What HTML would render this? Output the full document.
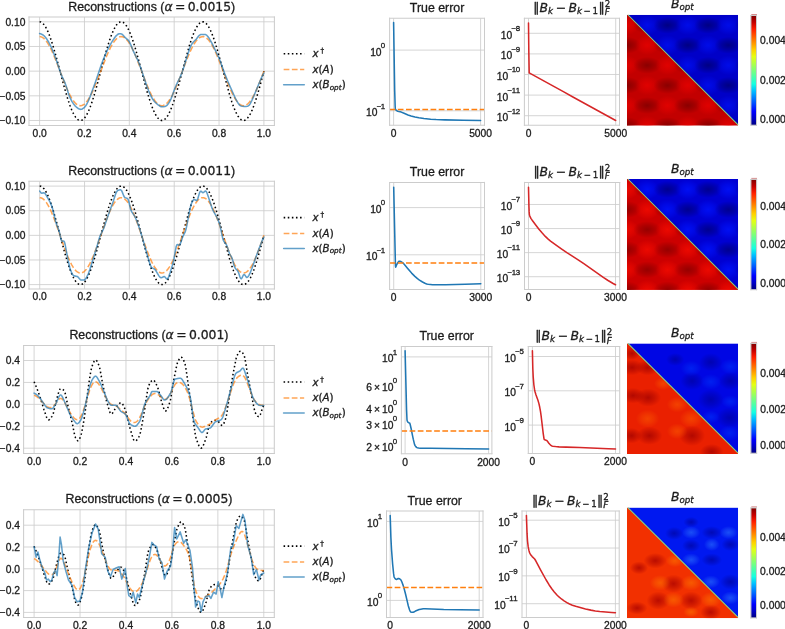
<!DOCTYPE html>
<html><head><meta charset="utf-8"><title>Reconstructions</title>
<style>html,body{margin:0;padding:0;background:#fff;overflow:hidden}svg{display:block}svg text{stroke:#1c1c1c;stroke-width:0.3px;stroke-linejoin:round}</style>
</head><body>
<svg width="785" height="629" viewBox="0 0 762.135922 610.679612">
<defs><linearGradient id="cbg0" x1="0" y1="0" x2="0" y2="1"><stop offset="0.0000" stop-color="#800000"/><stop offset="0.0625" stop-color="#c40000"/><stop offset="0.1250" stop-color="#ff1e00"/><stop offset="0.1875" stop-color="#ff5900"/><stop offset="0.2500" stop-color="#ff9400"/><stop offset="0.3125" stop-color="#ffd000"/><stop offset="0.3750" stop-color="#e4ff13"/><stop offset="0.4375" stop-color="#b1ff46"/><stop offset="0.5000" stop-color="#7dff7a"/><stop offset="0.5625" stop-color="#49ffad"/><stop offset="0.6250" stop-color="#16ffe1"/><stop offset="0.6875" stop-color="#00c0ff"/><stop offset="0.7500" stop-color="#0080ff"/><stop offset="0.8125" stop-color="#0040ff"/><stop offset="0.8750" stop-color="#0000ff"/><stop offset="0.9375" stop-color="#0000c8"/><stop offset="1.0000" stop-color="#000080"/></linearGradient><clipPath id="i0lo"><polygon points="608.74,14.32 609.57,14.32 716.60,121.16 716.60,121.99 608.74,121.99"/></clipPath><clipPath id="i0up"><polygon points="609.57,14.32 716.60,14.32 716.60,121.16"/></clipPath><radialGradient id="i0ld"><stop offset="0" stop-color="#840000" stop-opacity="0.90"/><stop offset="0.5" stop-color="#840000" stop-opacity="0.50"/><stop offset="1" stop-color="#840000" stop-opacity="0"/></radialGradient><radialGradient id="i0ll"><stop offset="0" stop-color="#ea0200" stop-opacity="0.75"/><stop offset="0.5" stop-color="#ea0200" stop-opacity="0.41"/><stop offset="1" stop-color="#ea0200" stop-opacity="0"/></radialGradient><radialGradient id="i0ud"><stop offset="0" stop-color="#00007c" stop-opacity="0.90"/><stop offset="0.5" stop-color="#00007c" stop-opacity="0.50"/><stop offset="1" stop-color="#00007c" stop-opacity="0"/></radialGradient><radialGradient id="i0ul"><stop offset="0" stop-color="#0010f4" stop-opacity="0.75"/><stop offset="0.5" stop-color="#0010f4" stop-opacity="0.41"/><stop offset="1" stop-color="#0010f4" stop-opacity="0"/></radialGradient><linearGradient id="cbg1" x1="0" y1="0" x2="0" y2="1"><stop offset="0.0000" stop-color="#800000"/><stop offset="0.0625" stop-color="#c40000"/><stop offset="0.1250" stop-color="#ff1e00"/><stop offset="0.1875" stop-color="#ff5900"/><stop offset="0.2500" stop-color="#ff9400"/><stop offset="0.3125" stop-color="#ffd000"/><stop offset="0.3750" stop-color="#e4ff13"/><stop offset="0.4375" stop-color="#b1ff46"/><stop offset="0.5000" stop-color="#7dff7a"/><stop offset="0.5625" stop-color="#49ffad"/><stop offset="0.6250" stop-color="#16ffe1"/><stop offset="0.6875" stop-color="#00c0ff"/><stop offset="0.7500" stop-color="#0080ff"/><stop offset="0.8125" stop-color="#0040ff"/><stop offset="0.8750" stop-color="#0000ff"/><stop offset="0.9375" stop-color="#0000c8"/><stop offset="1.0000" stop-color="#000080"/></linearGradient><clipPath id="i1lo"><polygon points="608.74,173.79 609.57,173.79 716.60,280.63 716.60,281.46 608.74,281.46"/></clipPath><clipPath id="i1up"><polygon points="609.57,173.79 716.60,173.79 716.60,280.63"/></clipPath><radialGradient id="i1ld"><stop offset="0" stop-color="#900000" stop-opacity="0.90"/><stop offset="0.5" stop-color="#900000" stop-opacity="0.50"/><stop offset="1" stop-color="#900000" stop-opacity="0"/></radialGradient><radialGradient id="i1ll"><stop offset="0" stop-color="#f60c00" stop-opacity="0.75"/><stop offset="0.5" stop-color="#f60c00" stop-opacity="0.41"/><stop offset="1" stop-color="#f60c00" stop-opacity="0"/></radialGradient><radialGradient id="i1ud"><stop offset="0" stop-color="#000088" stop-opacity="0.90"/><stop offset="0.5" stop-color="#000088" stop-opacity="0.50"/><stop offset="1" stop-color="#000088" stop-opacity="0"/></radialGradient><radialGradient id="i1ul"><stop offset="0" stop-color="#0014ff" stop-opacity="0.75"/><stop offset="0.5" stop-color="#0014ff" stop-opacity="0.41"/><stop offset="1" stop-color="#0014ff" stop-opacity="0"/></radialGradient><linearGradient id="cbg2" x1="0" y1="0" x2="0" y2="1"><stop offset="0.0000" stop-color="#800000"/><stop offset="0.0625" stop-color="#c40000"/><stop offset="0.1250" stop-color="#ff1e00"/><stop offset="0.1875" stop-color="#ff5900"/><stop offset="0.2500" stop-color="#ff9400"/><stop offset="0.3125" stop-color="#ffd000"/><stop offset="0.3750" stop-color="#e4ff13"/><stop offset="0.4375" stop-color="#b1ff46"/><stop offset="0.5000" stop-color="#7dff7a"/><stop offset="0.5625" stop-color="#49ffad"/><stop offset="0.6250" stop-color="#16ffe1"/><stop offset="0.6875" stop-color="#00c0ff"/><stop offset="0.7500" stop-color="#0080ff"/><stop offset="0.8125" stop-color="#0040ff"/><stop offset="0.8750" stop-color="#0000ff"/><stop offset="0.9375" stop-color="#0000c8"/><stop offset="1.0000" stop-color="#000080"/></linearGradient><clipPath id="i2lo"><polygon points="608.74,333.40 609.57,333.40 716.60,439.95 716.60,440.78 608.74,440.78"/></clipPath><clipPath id="i2up"><polygon points="609.57,333.40 716.60,333.40 716.60,439.95"/></clipPath><radialGradient id="i2ld"><stop offset="0" stop-color="#a00000" stop-opacity="0.75"/><stop offset="0.5" stop-color="#a00000" stop-opacity="0.41"/><stop offset="1" stop-color="#a00000" stop-opacity="0"/></radialGradient><radialGradient id="i2ll"><stop offset="0" stop-color="#ff6a00" stop-opacity="0.45"/><stop offset="0.5" stop-color="#ff6a00" stop-opacity="0.25"/><stop offset="1" stop-color="#ff6a00" stop-opacity="0"/></radialGradient><radialGradient id="i2ud"><stop offset="0" stop-color="#000090" stop-opacity="0.60"/><stop offset="0.5" stop-color="#000090" stop-opacity="0.33"/><stop offset="1" stop-color="#000090" stop-opacity="0"/></radialGradient><radialGradient id="i2ul"><stop offset="0" stop-color="#0040ff" stop-opacity="0.45"/><stop offset="0.5" stop-color="#0040ff" stop-opacity="0.25"/><stop offset="1" stop-color="#0040ff" stop-opacity="0"/></radialGradient><linearGradient id="cbg3" x1="0" y1="0" x2="0" y2="1"><stop offset="0.0000" stop-color="#800000"/><stop offset="0.0625" stop-color="#c40000"/><stop offset="0.1250" stop-color="#ff1e00"/><stop offset="0.1875" stop-color="#ff5900"/><stop offset="0.2500" stop-color="#ff9400"/><stop offset="0.3125" stop-color="#ffd000"/><stop offset="0.3750" stop-color="#e4ff13"/><stop offset="0.4375" stop-color="#b1ff46"/><stop offset="0.5000" stop-color="#7dff7a"/><stop offset="0.5625" stop-color="#49ffad"/><stop offset="0.6250" stop-color="#16ffe1"/><stop offset="0.6875" stop-color="#00c0ff"/><stop offset="0.7500" stop-color="#0080ff"/><stop offset="0.8125" stop-color="#0040ff"/><stop offset="0.8750" stop-color="#0000ff"/><stop offset="0.9375" stop-color="#0000c8"/><stop offset="1.0000" stop-color="#000080"/></linearGradient><clipPath id="i3lo"><polygon points="608.74,492.82 609.57,492.82 716.60,599.37 716.60,600.19 608.74,600.19"/></clipPath><clipPath id="i3up"><polygon points="609.57,492.82 716.60,492.82 716.60,599.37"/></clipPath><radialGradient id="i3ld"><stop offset="0" stop-color="#a80000" stop-opacity="0.75"/><stop offset="0.5" stop-color="#a80000" stop-opacity="0.41"/><stop offset="1" stop-color="#a80000" stop-opacity="0"/></radialGradient><radialGradient id="i3ll"><stop offset="0" stop-color="#ff8c00" stop-opacity="0.45"/><stop offset="0.5" stop-color="#ff8c00" stop-opacity="0.25"/><stop offset="1" stop-color="#ff8c00" stop-opacity="0"/></radialGradient><radialGradient id="i3ud"><stop offset="0" stop-color="#000090" stop-opacity="0.60"/><stop offset="0.5" stop-color="#000090" stop-opacity="0.33"/><stop offset="1" stop-color="#000090" stop-opacity="0"/></radialGradient><radialGradient id="i3ul"><stop offset="0" stop-color="#3a90ff" stop-opacity="0.45"/><stop offset="0.5" stop-color="#3a90ff" stop-opacity="0.25"/><stop offset="1" stop-color="#3a90ff" stop-opacity="0"/></radialGradient>
<style type="text/css">*{stroke-linejoin: round; stroke-linecap: butt}</style>
</defs>
<g id="figure_1">
<g id="patch_1">
<path d="M 0 610.679612
L 762.135922 610.679612
L 762.135922 0
L 0 0
z
" style="fill: #ffffff"/>
</g>
<g id="axes_1">
<g id="patch_2">
<path d="M 28.15534 121.84466
L 266.407767 121.84466
L 266.407767 16.504854
L 28.15534 16.504854
z
" style="fill: #ffffff"/>
</g>
<g id="matplotlib.axis_1">
<g id="xtick_1">
<g id="line2d_1">
<path d="M 38.446602 121.84466
L 38.446602 16.504854
" clip-path="url(#p39f3e81963)" style="fill: none; stroke: #cccccc; stroke-width: 0.8; stroke-linecap: round"/>
</g>
<g id="line2d_2"/>
<g id="text_1">
<text style="font-size: 10px; font-family: 'Liberation Sans', 'DejaVu Sans', sans-serif; text-anchor: middle; fill: #1c1c1c" x="38.446602" y="132.591535" transform="rotate(-0 38.446602 132.591535)">0.0</text>
</g>
</g>
<g id="xtick_2">
<g id="line2d_3">
<path d="M 82 121.84466
L 82 16.504854
" clip-path="url(#p39f3e81963)" style="fill: none; stroke: #cccccc; stroke-width: 0.8; stroke-linecap: round"/>
</g>
<g id="line2d_4"/>
<g id="text_2">
<text style="font-size: 10px; font-family: 'Liberation Sans', 'DejaVu Sans', sans-serif; text-anchor: middle; fill: #1c1c1c" x="82" y="132.591535" transform="rotate(-0 82 132.591535)">0.2</text>
</g>
</g>
<g id="xtick_3">
<g id="line2d_5">
<path d="M 125.553398 121.84466
L 125.553398 16.504854
" clip-path="url(#p39f3e81963)" style="fill: none; stroke: #cccccc; stroke-width: 0.8; stroke-linecap: round"/>
</g>
<g id="line2d_6"/>
<g id="text_3">
<text style="font-size: 10px; font-family: 'Liberation Sans', 'DejaVu Sans', sans-serif; text-anchor: middle; fill: #1c1c1c" x="125.553398" y="132.591535" transform="rotate(-0 125.553398 132.591535)">0.4</text>
</g>
</g>
<g id="xtick_4">
<g id="line2d_7">
<path d="M 169.106796 121.84466
L 169.106796 16.504854
" clip-path="url(#p39f3e81963)" style="fill: none; stroke: #cccccc; stroke-width: 0.8; stroke-linecap: round"/>
</g>
<g id="line2d_8"/>
<g id="text_4">
<text style="font-size: 10px; font-family: 'Liberation Sans', 'DejaVu Sans', sans-serif; text-anchor: middle; fill: #1c1c1c" x="169.106796" y="132.591535" transform="rotate(-0 169.106796 132.591535)">0.6</text>
</g>
</g>
<g id="xtick_5">
<g id="line2d_9">
<path d="M 212.660194 121.84466
L 212.660194 16.504854
" clip-path="url(#p39f3e81963)" style="fill: none; stroke: #cccccc; stroke-width: 0.8; stroke-linecap: round"/>
</g>
<g id="line2d_10"/>
<g id="text_5">
<text style="font-size: 10px; font-family: 'Liberation Sans', 'DejaVu Sans', sans-serif; text-anchor: middle; fill: #1c1c1c" x="212.660194" y="132.591535" transform="rotate(-0 212.660194 132.591535)">0.8</text>
</g>
</g>
<g id="xtick_6">
<g id="line2d_11">
<path d="M 256.213592 121.84466
L 256.213592 16.504854
" clip-path="url(#p39f3e81963)" style="fill: none; stroke: #cccccc; stroke-width: 0.8; stroke-linecap: round"/>
</g>
<g id="line2d_12"/>
<g id="text_6">
<text style="font-size: 10px; font-family: 'Liberation Sans', 'DejaVu Sans', sans-serif; text-anchor: middle; fill: #1c1c1c" x="256.213592" y="132.591535" transform="rotate(-0 256.213592 132.591535)">1.0</text>
</g>
</g>
</g>
<g id="matplotlib.axis_2">
<g id="ytick_1">
<g id="line2d_13">
<path d="M 28.15534 116.990291
L 266.407767 116.990291
" clip-path="url(#p39f3e81963)" style="fill: none; stroke: #cccccc; stroke-width: 0.8; stroke-linecap: round"/>
</g>
<g id="line2d_14"/>
<g id="text_7">
<text style="font-size: 10px; font-family: 'Liberation Sans', 'DejaVu Sans', sans-serif; text-anchor: end; fill: #1c1c1c" x="24.65534" y="120.613729" transform="rotate(-0 24.65534 120.613729)">−0.10</text>
</g>
</g>
<g id="ytick_2">
<g id="line2d_15">
<path d="M 28.15534 93.033981
L 266.407767 93.033981
" clip-path="url(#p39f3e81963)" style="fill: none; stroke: #cccccc; stroke-width: 0.8; stroke-linecap: round"/>
</g>
<g id="line2d_16"/>
<g id="text_8">
<text style="font-size: 10px; font-family: 'Liberation Sans', 'DejaVu Sans', sans-serif; text-anchor: end; fill: #1c1c1c" x="24.65534" y="96.657418" transform="rotate(-0 24.65534 96.657418)">−0.05</text>
</g>
</g>
<g id="ytick_3">
<g id="line2d_17">
<path d="M 28.15534 69.07767
L 266.407767 69.07767
" clip-path="url(#p39f3e81963)" style="fill: none; stroke: #cccccc; stroke-width: 0.8; stroke-linecap: round"/>
</g>
<g id="line2d_18"/>
<g id="text_9">
<text style="font-size: 10px; font-family: 'Liberation Sans', 'DejaVu Sans', sans-serif; text-anchor: end; fill: #1c1c1c" x="24.65534" y="72.701107" transform="rotate(-0 24.65534 72.701107)">0.00</text>
</g>
</g>
<g id="ytick_4">
<g id="line2d_19">
<path d="M 28.15534 45.121359
L 266.407767 45.121359
" clip-path="url(#p39f3e81963)" style="fill: none; stroke: #cccccc; stroke-width: 0.8; stroke-linecap: round"/>
</g>
<g id="line2d_20"/>
<g id="text_10">
<text style="font-size: 10px; font-family: 'Liberation Sans', 'DejaVu Sans', sans-serif; text-anchor: end; fill: #1c1c1c" x="24.65534" y="48.744797" transform="rotate(-0 24.65534 48.744797)">0.05</text>
</g>
</g>
<g id="ytick_5">
<g id="line2d_21">
<path d="M 28.15534 21.165049
L 266.407767 21.165049
" clip-path="url(#p39f3e81963)" style="fill: none; stroke: #cccccc; stroke-width: 0.8; stroke-linecap: round"/>
</g>
<g id="line2d_22"/>
<g id="text_11">
<text style="font-size: 10px; font-family: 'Liberation Sans', 'DejaVu Sans', sans-serif; text-anchor: end; fill: #1c1c1c" x="24.65534" y="24.788486" transform="rotate(-0 24.65534 24.788486)">0.10</text>
</g>
</g>
</g>
<g id="line2d_23">
<path d="M 38.446602 21.165049
L 39.538166 21.344641
L 40.62973 21.882071
L 41.721294 22.773311
L 42.812857 24.011679
L 43.904421 25.587892
L 44.995985 27.490132
L 46.633331 30.922959
L 48.270677 34.998856
L 49.908022 39.649129
L 52.09115 46.606266
L 54.82006 56.222087
L 59.732097 74.723243
L 63.006789 86.757565
L 65.735698 95.911753
L 67.918826 102.351527
L 69.556172 106.537266
L 71.193518 110.091649
L 72.285082 112.080432
L 73.376645 113.746838
L 74.468209 115.078374
L 75.559773 116.065058
L 76.651337 116.699494
L 77.742901 116.976925
L 78.834465 116.895272
L 79.926029 116.455147
L 81.017593 115.659849
L 82.109156 114.51534
L 83.20072 113.0302
L 84.292284 111.215563
L 85.92963 107.906209
L 87.566976 103.942427
L 89.204321 99.391023
L 91.387449 92.542262
L 94.116359 83.01981
L 98.482614 66.626628
L 102.303088 52.454484
L 105.031997 43.188578
L 107.215125 36.627334
L 108.852471 32.334089
L 110.489817 28.660131
L 112.127163 25.667383
L 113.218726 24.076076
L 114.31029 22.822131
L 115.401854 21.914948
L 116.493418 21.361327
L 117.584982 21.16542
L 118.676546 21.328694
L 119.76811 21.849927
L 120.859673 22.72521
L 121.951237 23.947981
L 123.042801 25.509074
L 124.134365 27.396787
L 125.771711 30.809166
L 127.409057 34.866533
L 129.046402 39.500506
L 131.22953 46.439849
L 133.95844 56.04048
L 138.870477 74.53589
L 142.690951 88.496538
L 144.874078 95.75528
L 147.057206 102.21555
L 148.694552 106.419371
L 150.331898 109.993823
L 151.969243 112.878661
L 153.060807 114.394253
L 154.152371 115.570122
L 155.243935 116.397453
L 156.335499 116.870043
L 157.427063 116.984351
L 158.518627 116.739518
L 159.610191 116.13738
L 160.701754 115.182452
L 161.793318 113.881892
L 162.884882 112.24545
L 163.976446 110.285394
L 165.613792 106.771312
L 167.251138 102.621931
L 168.888483 97.907184
L 171.071611 90.879949
L 173.800521 81.204859
L 183.624595 45.121359
L 185.807723 38.328222
L 187.445069 33.827209
L 189.082415 29.920318
L 190.719761 26.673397
L 191.811324 24.902944
L 192.902888 23.463655
L 193.994452 22.366318
L 195.086016 21.61916
L 196.17758 21.227783
L 197.269144 21.19512
L 198.360708 21.521416
L 199.452271 22.204225
L 200.543835 23.238429
L 201.635399 24.616274
L 202.726963 26.32743
L 203.818527 28.359071
L 205.455873 31.973494
L 207.093218 36.213282
L 208.730564 41.006976
L 210.913692 48.11938
L 213.642602 57.865181
L 222.920894 92.04727
L 225.104022 98.950701
L 226.741368 103.551859
L 228.378714 107.57198
L 230.01606 110.943305
L 231.107623 112.801873
L 232.199187 114.332656
L 233.290751 115.524178
L 234.382315 116.367506
L 235.473879 116.856318
L 236.565443 116.98695
L 237.657007 116.758422
L 238.74857 116.172448
L 239.840134 115.23342
L 240.931698 113.948378
L 242.023262 112.326956
L 243.114826 110.381309
L 244.752172 106.88746
L 246.389517 102.756354
L 248.026863 98.057617
L 250.209991 91.047744
L 252.938901 81.387246
L 256.213592 69.07767
L 256.213592 69.07767
" clip-path="url(#p39f3e81963)" style="fill: none; stroke-dasharray: 1.5,2.475; stroke-dashoffset: 0; stroke: #000000; stroke-width: 1.5"/>
</g>
<g id="line2d_24">
<path d="M 38.446602 35.538835
L 39.538166 35.66455
L 40.62973 36.040751
L 41.721294 36.664619
L 42.812857 37.531477
L 43.904421 38.634825
L 45.541767 40.714706
L 47.179113 43.272624
L 48.816459 46.265469
L 50.999586 50.844345
L 53.182714 55.968952
L 56.457406 64.340242
L 63.552571 82.791478
L 65.735698 87.861528
L 67.918826 92.36937
L 69.556172 95.299387
L 71.193518 97.787455
L 72.830864 99.79164
L 73.922427 100.841905
L 75.013991 101.654043
L 76.105555 102.221968
L 77.197119 102.541421
L 78.288683 102.610007
L 79.380247 102.427214
L 80.471811 101.99441
L 81.563374 101.31484
L 82.654938 100.393599
L 83.746502 99.237593
L 85.383848 97.082824
L 87.021194 94.456046
L 88.65854 91.401534
L 90.841667 86.753398
L 93.024795 81.576219
L 96.299487 73.160657
L 102.84887 56.090587
L 105.031997 50.955306
L 107.215125 46.362435
L 108.852471 43.357163
L 110.489817 40.785393
L 112.127163 38.690469
L 113.218726 37.576554
L 114.31029 36.698793
L 115.401854 36.063764
L 116.493418 35.67623
L 117.584982 35.539095
L 118.676546 35.653387
L 119.76811 36.01825
L 120.859673 36.630948
L 121.951237 37.486888
L 123.042801 38.579653
L 124.680147 40.644458
L 126.317493 43.188485
L 127.954839 46.168856
L 130.137966 50.733666
L 132.321094 55.84752
L 135.595786 64.209566
L 142.690951 82.670878
L 144.874078 87.751997
L 147.057206 92.274186
L 148.694552 95.21686
L 150.331898 97.718977
L 151.969243 99.738364
L 153.060807 100.799278
L 154.152371 101.622387
L 155.243935 102.201518
L 156.335499 102.532331
L 157.427063 102.612346
L 158.518627 102.440964
L 159.610191 102.019467
L 160.701754 101.351018
L 161.793318 100.440626
L 162.884882 99.295116
L 164.522228 97.155258
L 166.159574 94.542172
L 167.796919 91.499899
L 169.980047 86.865472
L 172.163175 81.698648
L 175.437867 73.29168
L 181.98725 56.212423
L 184.716159 49.858615
L 186.899287 45.40886
L 188.536633 42.529923
L 190.173979 40.09843
L 191.811324 38.155362
L 192.902888 37.147859
L 193.994452 36.379724
L 195.086016 35.856713
L 196.17758 35.582749
L 197.269144 35.559885
L 198.360708 35.788292
L 199.452271 36.266259
L 200.543835 36.990201
L 201.635399 37.954693
L 202.726963 39.152502
L 204.364309 41.366584
L 206.001655 44.047717
L 207.639 47.150712
L 209.822128 51.852962
L 212.551038 58.437728
L 216.371511 68.417529
L 221.283549 81.207778
L 224.012458 87.642177
L 226.195586 92.178643
L 227.832932 95.133929
L 229.470278 97.650054
L 231.107623 99.684612
L 232.199187 100.75616
L 233.290751 101.590225
L 234.382315 102.180555
L 235.473879 102.522723
L 236.565443 102.614166
L 237.657007 102.454196
L 238.74857 102.044014
L 239.840134 101.386695
L 240.931698 100.487166
L 242.023262 99.35217
L 243.660608 97.227258
L 245.297954 94.627903
L 246.935299 91.597917
L 249.118427 86.977271
L 251.301555 81.820881
L 254.576246 73.422637
L 256.213592 69.07767
L 256.213592 69.07767
" clip-path="url(#p39f3e81963)" style="fill: none; stroke-dasharray: 5.55,2.4; stroke-dashoffset: 0; stroke: #ff7f0e; stroke-opacity: 0.7; stroke-width: 1.5"/>
</g>
<g id="line2d_25">
<path d="M 38.446602 32.621982
L 39.903237 32.980716
L 41.359873 33.691824
L 42.816508 34.802869
L 44.273143 36.38954
L 45.729779 38.382276
L 47.186414 40.768795
L 48.64305 43.530337
L 50.099685 46.619785
L 52.284638 51.901931
L 54.469591 57.799577
L 56.654544 64.33522
L 58.839497 70.820106
L 60.296133 74.370375
L 63.209404 80.745494
L 64.666039 85.058414
L 66.850992 91.948795
L 68.307627 95.556126
L 69.764263 98.396867
L 71.220898 100.683952
L 72.677534 102.502952
L 74.134169 103.937557
L 75.590804 105.061992
L 77.04744 105.885126
L 77.775757 106.113461
L 78.504075 106.17174
L 79.232393 106.049561
L 79.96071 105.762315
L 81.417346 104.780157
L 82.145664 104.082562
L 82.873981 103.217237
L 84.330617 100.963704
L 85.787252 98.057421
L 87.243887 94.4969
L 92.342111 80.499157
L 95.255382 71.994881
L 98.168653 63.466748
L 100.353606 57.604101
L 102.538559 52.364934
L 104.723512 47.713191
L 106.908465 43.617396
L 109.821736 38.793038
L 111.278371 36.606975
L 112.735007 34.783211
L 114.191642 33.459589
L 114.91996 33.021321
L 115.648277 32.760053
L 116.376595 32.668039
L 117.104913 32.719782
L 117.833231 32.915709
L 118.561548 33.298371
L 119.289866 33.904615
L 122.203137 37.08903
L 124.38809 38.934801
L 125.116407 39.824472
L 125.844725 41.019319
L 127.301361 44.281552
L 129.486314 49.682502
L 131.671267 54.177212
L 133.85622 58.694527
L 135.312855 62.272714
L 137.497808 68.543262
L 142.596032 83.716175
L 144.052667 87.625167
L 145.509303 91.090022
L 146.965938 94.122274
L 148.422574 96.597406
L 149.879209 98.496669
L 151.335844 99.994383
L 153.520797 101.824452
L 154.977433 102.870186
L 156.434068 103.572554
L 157.162386 103.727591
L 158.619021 103.696337
L 160.075657 103.3688
L 160.803974 103.094627
L 161.532292 102.694713
L 162.26061 102.11239
L 162.988927 101.314461
L 164.445563 99.121212
L 165.902198 96.219159
L 167.358834 92.470524
L 169.543787 86.325331
L 171.000422 82.953913
L 174.642011 75.327877
L 176.826964 70.00451
L 178.283599 65.858089
L 181.19687 56.381677
L 183.381823 49.508986
L 184.838458 45.517978
L 185.566776 43.928582
L 186.295094 42.655009
L 187.751729 40.83574
L 190.665 37.820205
L 192.849953 34.979676
L 193.578271 34.254958
L 194.306588 33.778141
L 195.034906 33.53028
L 196.491541 33.404897
L 198.676494 33.44987
L 199.404812 33.574983
L 200.13313 33.863852
L 200.861448 34.382829
L 201.589765 35.142915
L 203.046401 37.180637
L 204.503036 39.60042
L 205.959671 42.387727
L 212.514531 56.065108
L 213.971166 59.888463
L 218.341072 71.955155
L 221.254343 79.169817
L 227.080885 92.274969
L 228.53752 95.449293
L 229.994155 98.237529
L 231.450791 100.633645
L 232.179108 101.589091
L 232.907426 102.308158
L 233.635744 102.784911
L 235.092379 103.23767
L 237.277332 103.446783
L 238.733968 103.407862
L 240.190603 103.162346
L 240.918921 102.877071
L 241.647238 102.371789
L 242.375556 101.561373
L 243.103874 100.428384
L 244.560509 97.490144
L 246.745462 92.496206
L 254.028639 75.074111
L 255.485275 72.085081
L 256.213592 71.042209
L 256.213592 71.042209
" clip-path="url(#p39f3e81963)" style="fill: none; stroke: #1f77b4; stroke-opacity: 0.7; stroke-width: 1.5; stroke-linecap: round"/>
</g>
<g id="patch_3">
<path d="M 28.15534 121.84466
L 28.15534 16.504854
" style="fill: none; stroke: #cccccc; stroke-linejoin: miter; stroke-linecap: square"/>
</g>
<g id="patch_4">
<path d="M 266.407767 121.84466
L 266.407767 16.504854
" style="fill: none; stroke: #cccccc; stroke-linejoin: miter; stroke-linecap: square"/>
</g>
<g id="patch_5">
<path d="M 28.15534 121.84466
L 266.407767 121.84466
" style="fill: none; stroke: #cccccc; stroke-linejoin: miter; stroke-linecap: square"/>
</g>
<g id="patch_6">
<path d="M 28.15534 16.504854
L 266.407767 16.504854
" style="fill: none; stroke: #cccccc; stroke-linejoin: miter; stroke-linecap: square"/>
</g>
<g id="text_12">
<!-- Reconstructions ($\alpha = 0.0015$) -->
<g style="fill: #1c1c1c" transform="translate(66.281553 10.504854)">
<text>
<tspan x="0" y="-0.09375" style="font-size: 12px; font-family: 'Liberation Sans'; fill: #1c1c1c">R</tspan>
<tspan x="8.666016" y="-0.09375" style="font-size: 12px; font-family: 'Liberation Sans'; fill: #1c1c1c">e</tspan>
<tspan x="15.339844" y="-0.09375" style="font-size: 12px; font-family: 'Liberation Sans'; fill: #1c1c1c">c</tspan>
<tspan x="21.339844" y="-0.09375" style="font-size: 12px; font-family: 'Liberation Sans'; fill: #1c1c1c">o</tspan>
<tspan x="28.013672" y="-0.09375" style="font-size: 12px; font-family: 'Liberation Sans'; fill: #1c1c1c">n</tspan>
<tspan x="34.6875" y="-0.09375" style="font-size: 12px; font-family: 'Liberation Sans'; fill: #1c1c1c">s</tspan>
<tspan x="40.6875" y="-0.09375" style="font-size: 12px; font-family: 'Liberation Sans'; fill: #1c1c1c">t</tspan>
<tspan x="44.021484" y="-0.09375" style="font-size: 12px; font-family: 'Liberation Sans'; fill: #1c1c1c">r</tspan>
<tspan x="48.017578" y="-0.09375" style="font-size: 12px; font-family: 'Liberation Sans'; fill: #1c1c1c">u</tspan>
<tspan x="54.691406" y="-0.09375" style="font-size: 12px; font-family: 'Liberation Sans'; fill: #1c1c1c">c</tspan>
<tspan x="60.691406" y="-0.09375" style="font-size: 12px; font-family: 'Liberation Sans'; fill: #1c1c1c">t</tspan>
<tspan x="64.025391" y="-0.09375" style="font-size: 12px; font-family: 'Liberation Sans'; fill: #1c1c1c">i</tspan>
<tspan x="66.691406" y="-0.09375" style="font-size: 12px; font-family: 'Liberation Sans'; fill: #1c1c1c">o</tspan>
<tspan x="73.365234" y="-0.09375" style="font-size: 12px; font-family: 'Liberation Sans'; fill: #1c1c1c">n</tspan>
<tspan x="80.039062" y="-0.09375" style="font-size: 12px; font-family: 'Liberation Sans'; fill: #1c1c1c">s</tspan>
<tspan x="86.039062" y="-0.09375" style="font-size: 12px; font-family: 'Liberation Sans'; fill: #1c1c1c"> </tspan>
<tspan x="89.373047" y="-0.09375" style="font-size: 12px; font-family: 'Liberation Sans'; fill: #1c1c1c">(</tspan>
<tspan x="157.998047" y="-0.09375" style="font-size: 12px; font-family: 'Liberation Sans'; fill: #1c1c1c">)</tspan>
<tspan x="93.369141" y="-0.09375" style="font-style: oblique; font-size: 12px; font-family: 'DejaVu Sans'; fill: #1c1c1c">α</tspan>
<tspan x="103.617188" y="-0.09375" style="font-size: 12px; font-family: 'DejaVu Sans'; fill: #1c1c1c">=</tspan>
<tspan x="116.009766" y="-0.09375" style="font-size: 12px; font-family: 'DejaVu Sans'; fill: #1c1c1c">0</tspan>
<tspan x="123.644531" y="-0.09375" style="font-size: 12px; font-family: 'DejaVu Sans'; fill: #1c1c1c">.</tspan>
<tspan x="127.458984" y="-0.09375" style="font-size: 12px; font-family: 'DejaVu Sans'; fill: #1c1c1c">0</tspan>
<tspan x="135.09375" y="-0.09375" style="font-size: 12px; font-family: 'DejaVu Sans'; fill: #1c1c1c">0</tspan>
<tspan x="142.728516" y="-0.09375" style="font-size: 12px; font-family: 'DejaVu Sans'; fill: #1c1c1c">1</tspan>
<tspan x="150.363281" y="-0.09375" style="font-size: 12px; font-family: 'DejaVu Sans'; fill: #1c1c1c">5</tspan>
</text>
</g>
</g>
<g id="legend_1">
<g id="line2d_26">
<path d="M 275.407767 52.200
L 285.407767 52.200
L 295.407767 52.200
" style="fill: none; stroke-dasharray: 1.5,2.475; stroke-dashoffset: 0; stroke: #000000; stroke-width: 1.5"/>
</g>
<g id="text_13">
<!-- $x^\dagger$ -->
<g style="fill: #1c1c1c" transform="translate(303.407767 55.700)">
<text>
<tspan x="0" y="-0.064063" style="font-style: oblique; font-size: 10px; font-family: 'DejaVu Sans'; fill: #1c1c1c">x</tspan>
<tspan x="7.728353" y="-3.892188" style="font-size: 7px; font-family: 'DejaVu Sans'; fill: #1c1c1c">†</tspan>
</text>
</g>
</g>
<g id="line2d_27">
<path d="M 275.407767 67.571632
L 285.407767 67.571632
L 295.407767 67.571632
" style="fill: none; stroke-dasharray: 5.55,2.4; stroke-dashoffset: 0; stroke: #ff7f0e; stroke-opacity: 0.7; stroke-width: 1.5"/>
</g>
<g id="text_14">
<!-- $x(A)$ -->
<g style="fill: #1c1c1c" transform="translate(303.407767 71.071632)">
<text>
<tspan x="0" y="-0.40625" style="font-style: oblique; font-size: 10px; font-family: 'DejaVu Sans'; fill: #1c1c1c">x</tspan>
<tspan x="9.819336" y="-0.40625" style="font-style: oblique; font-size: 10px; font-family: 'DejaVu Sans'; fill: #1c1c1c">A</tspan>
<tspan x="5.917969" y="-0.40625" style="font-size: 10px; font-family: 'DejaVu Sans'; fill: #1c1c1c">(</tspan>
<tspan x="16.660156" y="-0.40625" style="font-size: 10px; font-family: 'DejaVu Sans'; fill: #1c1c1c">)</tspan>
</text>
</g>
</g>
<g id="line2d_28">
<path d="M 275.407767 82.246632
L 285.407767 82.246632
L 295.407767 82.246632
" style="fill: none; stroke: #1f77b4; stroke-opacity: 0.7; stroke-width: 1.5; stroke-linecap: round"/>
</g>
<g id="text_15">
<!-- $x(B_{opt})$ -->
<g style="fill: #1c1c1c" transform="translate(303.407767 85.746632)">
<text>
<tspan x="0" y="-0.40625" style="font-style: oblique; font-size: 10px; font-family: 'DejaVu Sans'; fill: #1c1c1c">x</tspan>
<tspan x="9.819336" y="-0.40625" style="font-style: oblique; font-size: 10px; font-family: 'DejaVu Sans'; fill: #1c1c1c">B</tspan>
<tspan x="5.917969" y="-0.40625" style="font-size: 10px; font-family: 'DejaVu Sans'; fill: #1c1c1c">(</tspan>
<tspan x="28.423828" y="-0.40625" style="font-size: 10px; font-family: 'DejaVu Sans'; fill: #1c1c1c">)</tspan>
<tspan x="16.679688" y="1.234375" style="font-style: oblique; font-size: 7px; font-family: 'DejaVu Sans'; fill: #1c1c1c">o</tspan>
<tspan x="20.962402" y="1.234375" style="font-style: oblique; font-size: 7px; font-family: 'DejaVu Sans'; fill: #1c1c1c">p</tspan>
<tspan x="25.405762" y="1.234375" style="font-style: oblique; font-size: 7px; font-family: 'DejaVu Sans'; fill: #1c1c1c">t</tspan>
</text>
</g>
</g>
</g>
</g>
<g id="axes_2">
<g id="patch_7">
<path d="M 378.252427 121.650485
L 470.38835 121.650485
L 470.38835 17.815534
L 378.252427 17.815534
z
" style="fill: #ffffff"/>
</g>
<g id="matplotlib.axis_3">
<g id="xtick_7">
<g id="line2d_29">
<path d="M 382.135922 121.650485
L 382.135922 17.815534
" clip-path="url(#pe85f98b9b8)" style="fill: none; stroke: #cccccc; stroke-width: 0.8; stroke-linecap: round"/>
</g>
<g id="line2d_30"/>
<g id="text_16">
<text style="font-size: 10px; font-family: 'Liberation Sans', 'DejaVu Sans', sans-serif; text-anchor: middle; fill: #1c1c1c" x="382.135922" y="133.19736" transform="rotate(-0 382.135922 133.19736)">0</text>
</g>
</g>
<g id="xtick_8">
<g id="line2d_31">
<path d="M 466.601942 121.650485
L 466.601942 17.815534
" clip-path="url(#pe85f98b9b8)" style="fill: none; stroke: #cccccc; stroke-width: 0.8; stroke-linecap: round"/>
</g>
<g id="line2d_32"/>
<g id="text_17">
<text style="font-size: 10px; font-family: 'Liberation Sans', 'DejaVu Sans', sans-serif; text-anchor: middle; fill: #1c1c1c" x="466.601942" y="133.19736" transform="rotate(-0 466.601942 133.19736)">5000</text>
</g>
</g>
</g>
<g id="matplotlib.axis_4">
<g id="ytick_6">
<g id="line2d_33">
<path d="M 378.252427 107.572816
L 470.38835 107.572816
" clip-path="url(#pe85f98b9b8)" style="fill: none; stroke: #cccccc; stroke-width: 0.8; stroke-linecap: round"/>
</g>
<g id="line2d_34"/>
<g id="text_18">
<!-- $\mathdefault{10^{-1}}$ -->
<g style="fill: #1c1c1c" transform="translate(355.252427 111.196253)">
<text>
<tspan x="0.000" y="1.649" style="font-size: 10px; font-family: 'Liberation Sans'; fill: #1c1c1c">1</tspan>
<tspan x="5.562" y="1.649" style="font-size: 10px; font-family: 'Liberation Sans'; fill: #1c1c1c">0</tspan>
<tspan x="10.415" y="-5.838" style="font-size: 7.7px; font-family: 'Liberation Sans'; fill: #1c1c1c">−</tspan>
<tspan x="14.503" y="-5.838" style="font-size: 7.7px; font-family: 'Liberation Sans'; fill: #1c1c1c">1</tspan>
</text>
</g>
</g>
</g>
<g id="ytick_7">
<g id="line2d_35">
<path d="M 378.252427 48.640777
L 470.38835 48.640777
" clip-path="url(#pe85f98b9b8)" style="fill: none; stroke: #cccccc; stroke-width: 0.8; stroke-linecap: round"/>
</g>
<g id="line2d_36"/>
<g id="text_19">
<!-- $\mathdefault{10^{0}}$ -->
<g style="fill: #1c1c1c" transform="translate(359.352427 52.264214)">
<text>
<tspan x="0.000" y="1.726" style="font-size: 10px; font-family: 'Liberation Sans'; fill: #1c1c1c">1</tspan>
<tspan x="5.562" y="1.726" style="font-size: 10px; font-family: 'Liberation Sans'; fill: #1c1c1c">0</tspan>
<tspan x="10.415" y="-5.761" style="font-size: 7.7px; font-family: 'Liberation Sans'; fill: #1c1c1c">0</tspan>
</text>
</g>
</g>
</g>
<g id="ytick_8">
<g id="line2d_37"/>
</g>
<g id="ytick_9">
<g id="line2d_38"/>
</g>
<g id="ytick_10">
<g id="line2d_39"/>
</g>
<g id="ytick_11">
<g id="line2d_40"/>
</g>
<g id="ytick_12">
<g id="line2d_41"/>
</g>
<g id="ytick_13">
<g id="line2d_42"/>
</g>
<g id="ytick_14">
<g id="line2d_43"/>
</g>
<g id="ytick_15">
<g id="line2d_44"/>
</g>
<g id="ytick_16">
<g id="line2d_45"/>
</g>
<g id="ytick_17">
<g id="line2d_46"/>
</g>
<g id="ytick_18">
<g id="line2d_47"/>
</g>
<g id="ytick_19">
<g id="line2d_48"/>
</g>
<g id="ytick_20">
<g id="line2d_49"/>
</g>
<g id="ytick_21">
<g id="line2d_50"/>
</g>
</g>
<g id="line2d_51">
<path d="M 382.135922 21.747573
L 383.194394 87.768067
L 383.617782 102.355549
L 383.829477 106.072774
L 384.252865 106.71426
L 385.099642 107.419331
L 386.158114 107.963847
L 387.428279 108.31626
L 389.545222 108.828936
L 392.297248 110.017522
L 396.107745 111.57585
L 399.071465 112.515417
L 402.881962 113.505778
L 406.692459 114.258158
L 411.561428 114.987461
L 418.123951 115.724379
L 423.416308 116.062295
L 432.095773 116.382222
L 449.666399 116.761625
L 466.601942 117.087379
L 466.601942 117.087379
" clip-path="url(#pe85f98b9b8)" style="fill: none; stroke: #1f77b4; stroke-width: 1.5; stroke-linecap: round"/>
</g>
<g id="line2d_52">
<path d="M 378.252427 106.31068
L 470.38835 106.31068
" clip-path="url(#pe85f98b9b8)" style="fill: none; stroke-dasharray: 5.55,2.4; stroke-dashoffset: 0; stroke: #ff7f0e; stroke-width: 1.5"/>
</g>
<g id="patch_8">
<path d="M 378.252427 121.650485
L 378.252427 17.815534
" style="fill: none; stroke: #cccccc; stroke-linejoin: miter; stroke-linecap: square"/>
</g>
<g id="patch_9">
<path d="M 470.38835 121.650485
L 470.38835 17.815534
" style="fill: none; stroke: #cccccc; stroke-linejoin: miter; stroke-linecap: square"/>
</g>
<g id="patch_10">
<path d="M 378.252427 121.650485
L 470.38835 121.650485
" style="fill: none; stroke: #cccccc; stroke-linejoin: miter; stroke-linecap: square"/>
</g>
<g id="patch_11">
<path d="M 378.252427 17.815534
L 470.38835 17.815534
" style="fill: none; stroke: #cccccc; stroke-linejoin: miter; stroke-linecap: square"/>
</g>
<g id="text_20">
<text style="font-size: 12px; font-family: 'Liberation Sans', 'DejaVu Sans', sans-serif; text-anchor: middle; fill: #1c1c1c" x="424.320388" y="11.815534" transform="rotate(-0 424.320388 11.815534)">True error</text>
</g>
</g>
<g id="axes_3">
<g id="patch_12">
<path d="M 509.126214 121.650485
L 601.456311 121.650485
L 601.456311 17.815534
L 509.126214 17.815534
z
" style="fill: #ffffff"/>
</g>
<g id="matplotlib.axis_5">
<g id="xtick_9">
<g id="line2d_53">
<path d="M 513.106796 121.650485
L 513.106796 17.815534
" clip-path="url(#peed45ceb7d)" style="fill: none; stroke: #cccccc; stroke-width: 0.8; stroke-linecap: round"/>
</g>
<g id="line2d_54"/>
<g id="text_21">
<text style="font-size: 10px; font-family: 'Liberation Sans', 'DejaVu Sans', sans-serif; text-anchor: middle; fill: #1c1c1c" x="513.106796" y="133.19736" transform="rotate(-0 513.106796 133.19736)">0</text>
</g>
</g>
<g id="xtick_10">
<g id="line2d_55">
<path d="M 597.76699 121.650485
L 597.76699 17.815534
" clip-path="url(#peed45ceb7d)" style="fill: none; stroke: #cccccc; stroke-width: 0.8; stroke-linecap: round"/>
</g>
<g id="line2d_56"/>
<g id="text_22">
<text style="font-size: 10px; font-family: 'Liberation Sans', 'DejaVu Sans', sans-serif; text-anchor: middle; fill: #1c1c1c" x="597.76699" y="133.19736" transform="rotate(-0 597.76699 133.19736)">5000</text>
</g>
</g>
</g>
<g id="matplotlib.axis_6">
<g id="ytick_22">
<g id="line2d_57">
<path d="M 509.126214 32.330097
L 601.456311 32.330097
" clip-path="url(#peed45ceb7d)" style="fill: none; stroke: #cccccc; stroke-width: 0.8; stroke-linecap: round"/>
</g>
<g id="line2d_58"/>
<g id="text_23">
<!-- $\mathdefault{10^{-8}}$ -->
<g style="fill: #1c1c1c" transform="translate(486.126214 35.953535)">
<text>
<tspan x="0.000" y="1.726" style="font-size: 10px; font-family: 'Liberation Sans'; fill: #1c1c1c">1</tspan>
<tspan x="5.562" y="1.726" style="font-size: 10px; font-family: 'Liberation Sans'; fill: #1c1c1c">0</tspan>
<tspan x="10.415" y="-5.761" style="font-size: 7.7px; font-family: 'Liberation Sans'; fill: #1c1c1c">−</tspan>
<tspan x="14.503" y="-5.761" style="font-size: 7.7px; font-family: 'Liberation Sans'; fill: #1c1c1c">8</tspan>
</text>
</g>
</g>
</g>
<g id="ytick_23">
<g id="line2d_59">
<path d="M 509.126214 52.330097
L 601.456311 52.330097
" clip-path="url(#peed45ceb7d)" style="fill: none; stroke: #cccccc; stroke-width: 0.8; stroke-linecap: round"/>
</g>
<g id="line2d_60"/>
<g id="text_24">
<!-- $\mathdefault{10^{-9}}$ -->
<g style="fill: #1c1c1c" transform="translate(486.126214 55.953535)">
<text>
<tspan x="0.000" y="1.726" style="font-size: 10px; font-family: 'Liberation Sans'; fill: #1c1c1c">1</tspan>
<tspan x="5.562" y="1.726" style="font-size: 10px; font-family: 'Liberation Sans'; fill: #1c1c1c">0</tspan>
<tspan x="10.415" y="-5.761" style="font-size: 7.7px; font-family: 'Liberation Sans'; fill: #1c1c1c">−</tspan>
<tspan x="14.503" y="-5.761" style="font-size: 7.7px; font-family: 'Liberation Sans'; fill: #1c1c1c">9</tspan>
</text>
</g>
</g>
</g>
<g id="ytick_24">
<g id="line2d_61">
<path d="M 509.126214 72.330097
L 601.456311 72.330097
" clip-path="url(#peed45ceb7d)" style="fill: none; stroke: #cccccc; stroke-width: 0.8; stroke-linecap: round"/>
</g>
<g id="line2d_62"/>
<g id="text_25">
<!-- $\mathdefault{10^{-10}}$ -->
<g style="fill: #1c1c1c" transform="translate(482.226214 75.953535)">
<text>
<tspan x="0.000" y="1.726" style="font-size: 10px; font-family: 'Liberation Sans'; fill: #1c1c1c">1</tspan>
<tspan x="5.562" y="1.726" style="font-size: 10px; font-family: 'Liberation Sans'; fill: #1c1c1c">0</tspan>
<tspan x="10.415" y="-5.761" style="font-size: 7.7px; font-family: 'Liberation Sans'; fill: #1c1c1c">−</tspan>
<tspan x="14.503" y="-5.761" style="font-size: 7.7px; font-family: 'Liberation Sans'; fill: #1c1c1c">1</tspan>
<tspan x="18.396" y="-5.761" style="font-size: 7.7px; font-family: 'Liberation Sans'; fill: #1c1c1c">0</tspan>
</text>
</g>
</g>
</g>
<g id="ytick_25">
<g id="line2d_63">
<path d="M 509.126214 92.330097
L 601.456311 92.330097
" clip-path="url(#peed45ceb7d)" style="fill: none; stroke: #cccccc; stroke-width: 0.8; stroke-linecap: round"/>
</g>
<g id="line2d_64"/>
<g id="text_26">
<!-- $\mathdefault{10^{-11}}$ -->
<g style="fill: #1c1c1c" transform="translate(482.226214 95.953535)">
<text>
<tspan x="0.000" y="1.649" style="font-size: 10px; font-family: 'Liberation Sans'; fill: #1c1c1c">1</tspan>
<tspan x="5.562" y="1.649" style="font-size: 10px; font-family: 'Liberation Sans'; fill: #1c1c1c">0</tspan>
<tspan x="10.415" y="-5.838" style="font-size: 7.7px; font-family: 'Liberation Sans'; fill: #1c1c1c">−</tspan>
<tspan x="14.503" y="-5.838" style="font-size: 7.7px; font-family: 'Liberation Sans'; fill: #1c1c1c">1</tspan>
<tspan x="18.396" y="-5.838" style="font-size: 7.7px; font-family: 'Liberation Sans'; fill: #1c1c1c">1</tspan>
</text>
</g>
</g>
</g>
<g id="ytick_26">
<g id="line2d_65">
<path d="M 509.126214 112.330097
L 601.456311 112.330097
" clip-path="url(#peed45ceb7d)" style="fill: none; stroke: #cccccc; stroke-width: 0.8; stroke-linecap: round"/>
</g>
<g id="line2d_66"/>
<g id="text_27">
<!-- $\mathdefault{10^{-12}}$ -->
<g style="fill: #1c1c1c" transform="translate(482.226214 115.953535)">
<text>
<tspan x="0.000" y="1.726" style="font-size: 10px; font-family: 'Liberation Sans'; fill: #1c1c1c">1</tspan>
<tspan x="5.562" y="1.726" style="font-size: 10px; font-family: 'Liberation Sans'; fill: #1c1c1c">0</tspan>
<tspan x="10.415" y="-5.761" style="font-size: 7.7px; font-family: 'Liberation Sans'; fill: #1c1c1c">−</tspan>
<tspan x="14.503" y="-5.761" style="font-size: 7.7px; font-family: 'Liberation Sans'; fill: #1c1c1c">1</tspan>
<tspan x="18.396" y="-5.761" style="font-size: 7.7px; font-family: 'Liberation Sans'; fill: #1c1c1c">2</tspan>
</text>
</g>
</g>
</g>
</g>
<g id="line2d_67">
<path d="M 513.106796 22.23301
L 513.398058 48.543689
L 513.786408 70.776699
L 522.184466 75.398058
L 530.582524 80.019417
L 538.980583 84.640777
L 547.378641 89.262136
L 555.776699 93.883495
L 564.174757 98.504854
L 572.572816 103.126214
L 580.970874 107.747573
L 589.368932 112.368932
L 597.76699 116.990291
" clip-path="url(#peed45ceb7d)" style="fill: none; stroke: #d62728; stroke-width: 1.5; stroke-linecap: round"/>
</g>
<g id="patch_13">
<path d="M 509.126214 121.650485
L 509.126214 17.815534
" style="fill: none; stroke: #cccccc; stroke-linejoin: miter; stroke-linecap: square"/>
</g>
<g id="patch_14">
<path d="M 601.456311 121.650485
L 601.456311 17.815534
" style="fill: none; stroke: #cccccc; stroke-linejoin: miter; stroke-linecap: square"/>
</g>
<g id="patch_15">
<path d="M 509.126214 121.650485
L 601.456311 121.650485
" style="fill: none; stroke: #cccccc; stroke-linejoin: miter; stroke-linecap: square"/>
</g>
<g id="patch_16">
<path d="M 509.126214 17.815534
L 601.456311 17.815534
" style="fill: none; stroke: #cccccc; stroke-linejoin: miter; stroke-linecap: square"/>
</g>
<g id="text_28">
<!-- $\|B_k - B_{k-1}\|_F^2$ -->
<g style="fill: #1c1c1c" transform="translate(517.731262 11.815534)">
<text>
<tspan x="0" y="-0.171875" style="font-size: 12px; font-family: 'DejaVu Sans'; fill: #1c1c1c">‖</tspan>
<tspan x="21.762891" y="-0.171875" style="font-size: 12px; font-family: 'DejaVu Sans'; fill: #1c1c1c">−</tspan>
<tspan x="63.236133" y="-0.171875" style="font-size: 12px; font-family: 'DejaVu Sans'; fill: #1c1c1c">‖</tspan>
<tspan x="6" y="-0.171875" style="font-style: oblique; font-size: 12px; font-family: 'DejaVu Sans'; fill: #1c1c1c">B</tspan>
<tspan x="34.155469" y="-0.171875" style="font-style: oblique; font-size: 12px; font-family: 'DejaVu Sans'; fill: #1c1c1c">B</tspan>
<tspan x="14.232422" y="1.796875" style="font-style: oblique; font-size: 8.4px; font-family: 'DejaVu Sans'; fill: #1c1c1c">k</tspan>
<tspan x="42.387891" y="1.796875" style="font-style: oblique; font-size: 8.4px; font-family: 'DejaVu Sans'; fill: #1c1c1c">k</tspan>
<tspan x="69.350977" y="3.109375" style="font-style: oblique; font-size: 8.4px; font-family: 'DejaVu Sans'; fill: #1c1c1c">F</tspan>
<tspan x="48.888867" y="1.796875" style="font-size: 8.4px; font-family: 'DejaVu Sans'; fill: #1c1c1c">−</tspan>
<tspan x="57.563672" y="1.796875" style="font-size: 8.4px; font-family: 'DejaVu Sans'; fill: #1c1c1c">1</tspan>
<tspan x="69.350977" y="-4.765625" style="font-size: 8.4px; font-family: 'DejaVu Sans'; fill: #1c1c1c">2</tspan>
</text>
</g>
</g>
</g>
<g id="axes_4">
<g id="IMG0"><g clip-path="url(#i0lo)"><rect x="608.74" y="14.32" width="107.86" height="107.67" fill="#c20000"/><ellipse cx="608.7" cy="5.0" rx="13.6" ry="8.3" fill="url(#i0ld)"/><ellipse cx="608.7" cy="24.5" rx="11.7" ry="9.7" fill="url(#i0ll)"/><ellipse cx="608.7" cy="43.9" rx="13.6" ry="8.3" fill="url(#i0ld)"/><ellipse cx="608.7" cy="63.4" rx="11.7" ry="9.7" fill="url(#i0ll)"/><ellipse cx="608.7" cy="82.9" rx="13.6" ry="8.3" fill="url(#i0ld)"/><ellipse cx="608.7" cy="102.4" rx="11.7" ry="9.7" fill="url(#i0ll)"/><ellipse cx="608.7" cy="121.9" rx="13.6" ry="8.3" fill="url(#i0ld)"/><ellipse cx="628.4" cy="5.0" rx="11.7" ry="9.7" fill="url(#i0ll)"/><ellipse cx="628.4" cy="24.5" rx="13.6" ry="8.3" fill="url(#i0ld)"/><ellipse cx="628.4" cy="43.9" rx="11.7" ry="9.7" fill="url(#i0ll)"/><ellipse cx="628.4" cy="63.4" rx="13.6" ry="8.3" fill="url(#i0ld)"/><ellipse cx="628.4" cy="82.9" rx="11.7" ry="9.7" fill="url(#i0ll)"/><ellipse cx="628.4" cy="102.4" rx="13.6" ry="8.3" fill="url(#i0ld)"/><ellipse cx="628.4" cy="121.9" rx="11.7" ry="9.7" fill="url(#i0ll)"/><ellipse cx="648.1" cy="5.0" rx="13.6" ry="8.3" fill="url(#i0ld)"/><ellipse cx="648.1" cy="24.5" rx="11.7" ry="9.7" fill="url(#i0ll)"/><ellipse cx="648.1" cy="43.9" rx="13.6" ry="8.3" fill="url(#i0ld)"/><ellipse cx="648.1" cy="63.4" rx="11.7" ry="9.7" fill="url(#i0ll)"/><ellipse cx="648.1" cy="82.9" rx="13.6" ry="8.3" fill="url(#i0ld)"/><ellipse cx="648.1" cy="102.4" rx="11.7" ry="9.7" fill="url(#i0ll)"/><ellipse cx="648.1" cy="121.9" rx="13.6" ry="8.3" fill="url(#i0ld)"/><ellipse cx="667.8" cy="5.0" rx="11.7" ry="9.7" fill="url(#i0ll)"/><ellipse cx="667.8" cy="24.5" rx="13.6" ry="8.3" fill="url(#i0ld)"/><ellipse cx="667.8" cy="43.9" rx="11.7" ry="9.7" fill="url(#i0ll)"/><ellipse cx="667.8" cy="63.4" rx="13.6" ry="8.3" fill="url(#i0ld)"/><ellipse cx="667.8" cy="82.9" rx="11.7" ry="9.7" fill="url(#i0ll)"/><ellipse cx="667.8" cy="102.4" rx="13.6" ry="8.3" fill="url(#i0ld)"/><ellipse cx="667.8" cy="121.9" rx="11.7" ry="9.7" fill="url(#i0ll)"/><ellipse cx="687.5" cy="5.0" rx="13.6" ry="8.3" fill="url(#i0ld)"/><ellipse cx="687.5" cy="24.5" rx="11.7" ry="9.7" fill="url(#i0ll)"/><ellipse cx="687.5" cy="43.9" rx="13.6" ry="8.3" fill="url(#i0ld)"/><ellipse cx="687.5" cy="63.4" rx="11.7" ry="9.7" fill="url(#i0ll)"/><ellipse cx="687.5" cy="82.9" rx="13.6" ry="8.3" fill="url(#i0ld)"/><ellipse cx="687.5" cy="102.4" rx="11.7" ry="9.7" fill="url(#i0ll)"/><ellipse cx="687.5" cy="121.9" rx="13.6" ry="8.3" fill="url(#i0ld)"/><ellipse cx="707.2" cy="5.0" rx="11.7" ry="9.7" fill="url(#i0ll)"/><ellipse cx="707.2" cy="24.5" rx="13.6" ry="8.3" fill="url(#i0ld)"/><ellipse cx="707.2" cy="43.9" rx="11.7" ry="9.7" fill="url(#i0ll)"/><ellipse cx="707.2" cy="63.4" rx="13.6" ry="8.3" fill="url(#i0ld)"/><ellipse cx="707.2" cy="82.9" rx="11.7" ry="9.7" fill="url(#i0ll)"/><ellipse cx="707.2" cy="102.4" rx="13.6" ry="8.3" fill="url(#i0ld)"/><ellipse cx="707.2" cy="121.9" rx="11.7" ry="9.7" fill="url(#i0ll)"/><ellipse cx="726.8" cy="5.0" rx="13.6" ry="8.3" fill="url(#i0ld)"/><ellipse cx="726.8" cy="24.5" rx="11.7" ry="9.7" fill="url(#i0ll)"/><ellipse cx="726.8" cy="43.9" rx="13.6" ry="8.3" fill="url(#i0ld)"/><ellipse cx="726.8" cy="63.4" rx="11.7" ry="9.7" fill="url(#i0ll)"/><ellipse cx="726.8" cy="82.9" rx="13.6" ry="8.3" fill="url(#i0ld)"/><ellipse cx="726.8" cy="102.4" rx="11.7" ry="9.7" fill="url(#i0ll)"/><ellipse cx="726.8" cy="121.9" rx="13.6" ry="8.3" fill="url(#i0ld)"/></g><g clip-path="url(#i0up)"><rect x="608.74" y="14.32" width="107.86" height="107.67" fill="#0000c8"/><ellipse cx="608.7" cy="5.0" rx="11.7" ry="9.7" fill="url(#i0ul)"/><ellipse cx="608.7" cy="24.5" rx="13.6" ry="8.3" fill="url(#i0ud)"/><ellipse cx="608.7" cy="43.9" rx="11.7" ry="9.7" fill="url(#i0ul)"/><ellipse cx="608.7" cy="63.4" rx="13.6" ry="8.3" fill="url(#i0ud)"/><ellipse cx="608.7" cy="82.9" rx="11.7" ry="9.7" fill="url(#i0ul)"/><ellipse cx="608.7" cy="102.4" rx="13.6" ry="8.3" fill="url(#i0ud)"/><ellipse cx="608.7" cy="121.9" rx="11.7" ry="9.7" fill="url(#i0ul)"/><ellipse cx="628.4" cy="5.0" rx="13.6" ry="8.3" fill="url(#i0ud)"/><ellipse cx="628.4" cy="24.5" rx="11.7" ry="9.7" fill="url(#i0ul)"/><ellipse cx="628.4" cy="43.9" rx="13.6" ry="8.3" fill="url(#i0ud)"/><ellipse cx="628.4" cy="63.4" rx="11.7" ry="9.7" fill="url(#i0ul)"/><ellipse cx="628.4" cy="82.9" rx="13.6" ry="8.3" fill="url(#i0ud)"/><ellipse cx="628.4" cy="102.4" rx="11.7" ry="9.7" fill="url(#i0ul)"/><ellipse cx="628.4" cy="121.9" rx="13.6" ry="8.3" fill="url(#i0ud)"/><ellipse cx="648.1" cy="5.0" rx="11.7" ry="9.7" fill="url(#i0ul)"/><ellipse cx="648.1" cy="24.5" rx="13.6" ry="8.3" fill="url(#i0ud)"/><ellipse cx="648.1" cy="43.9" rx="11.7" ry="9.7" fill="url(#i0ul)"/><ellipse cx="648.1" cy="63.4" rx="13.6" ry="8.3" fill="url(#i0ud)"/><ellipse cx="648.1" cy="82.9" rx="11.7" ry="9.7" fill="url(#i0ul)"/><ellipse cx="648.1" cy="102.4" rx="13.6" ry="8.3" fill="url(#i0ud)"/><ellipse cx="648.1" cy="121.9" rx="11.7" ry="9.7" fill="url(#i0ul)"/><ellipse cx="667.8" cy="5.0" rx="13.6" ry="8.3" fill="url(#i0ud)"/><ellipse cx="667.8" cy="24.5" rx="11.7" ry="9.7" fill="url(#i0ul)"/><ellipse cx="667.8" cy="43.9" rx="13.6" ry="8.3" fill="url(#i0ud)"/><ellipse cx="667.8" cy="63.4" rx="11.7" ry="9.7" fill="url(#i0ul)"/><ellipse cx="667.8" cy="82.9" rx="13.6" ry="8.3" fill="url(#i0ud)"/><ellipse cx="667.8" cy="102.4" rx="11.7" ry="9.7" fill="url(#i0ul)"/><ellipse cx="667.8" cy="121.9" rx="13.6" ry="8.3" fill="url(#i0ud)"/><ellipse cx="687.5" cy="5.0" rx="11.7" ry="9.7" fill="url(#i0ul)"/><ellipse cx="687.5" cy="24.5" rx="13.6" ry="8.3" fill="url(#i0ud)"/><ellipse cx="687.5" cy="43.9" rx="11.7" ry="9.7" fill="url(#i0ul)"/><ellipse cx="687.5" cy="63.4" rx="13.6" ry="8.3" fill="url(#i0ud)"/><ellipse cx="687.5" cy="82.9" rx="11.7" ry="9.7" fill="url(#i0ul)"/><ellipse cx="687.5" cy="102.4" rx="13.6" ry="8.3" fill="url(#i0ud)"/><ellipse cx="687.5" cy="121.9" rx="11.7" ry="9.7" fill="url(#i0ul)"/><ellipse cx="707.2" cy="5.0" rx="13.6" ry="8.3" fill="url(#i0ud)"/><ellipse cx="707.2" cy="24.5" rx="11.7" ry="9.7" fill="url(#i0ul)"/><ellipse cx="707.2" cy="43.9" rx="13.6" ry="8.3" fill="url(#i0ud)"/><ellipse cx="707.2" cy="63.4" rx="11.7" ry="9.7" fill="url(#i0ul)"/><ellipse cx="707.2" cy="82.9" rx="13.6" ry="8.3" fill="url(#i0ud)"/><ellipse cx="707.2" cy="102.4" rx="11.7" ry="9.7" fill="url(#i0ul)"/><ellipse cx="707.2" cy="121.9" rx="13.6" ry="8.3" fill="url(#i0ud)"/><ellipse cx="726.8" cy="5.0" rx="11.7" ry="9.7" fill="url(#i0ul)"/><ellipse cx="726.8" cy="24.5" rx="13.6" ry="8.3" fill="url(#i0ud)"/><ellipse cx="726.8" cy="43.9" rx="11.7" ry="9.7" fill="url(#i0ul)"/><ellipse cx="726.8" cy="63.4" rx="13.6" ry="8.3" fill="url(#i0ud)"/><ellipse cx="726.8" cy="82.9" rx="11.7" ry="9.7" fill="url(#i0ul)"/><ellipse cx="726.8" cy="102.4" rx="13.6" ry="8.3" fill="url(#i0ud)"/><ellipse cx="726.8" cy="121.9" rx="11.7" ry="9.7" fill="url(#i0ul)"/></g><line x1="609.57" y1="14.32" x2="716.60" y2="121.16" stroke="#88d078" stroke-width="1.0"/></g>
<g id="text_29">
<!-- $B_{opt}$ -->
<g style="fill: #1c1c1c" transform="translate(651.449903 8.320388)">
<text>
<tspan x="0" y="-0.25" style="font-style: oblique; font-size: 12px; font-family: 'DejaVu Sans'; fill: #1c1c1c">B</tspan>
<tspan x="8.232422" y="1.71875" style="font-style: oblique; font-size: 8.4px; font-family: 'DejaVu Sans'; fill: #1c1c1c">o</tspan>
<tspan x="13.37168" y="1.71875" style="font-style: oblique; font-size: 8.4px; font-family: 'DejaVu Sans'; fill: #1c1c1c">p</tspan>
<tspan x="18.703711" y="1.71875" style="font-style: oblique; font-size: 8.4px; font-family: 'DejaVu Sans'; fill: #1c1c1c">t</tspan>
</text>
</g>
</g>
</g>
<g id="axes_5">
<g id="patch_17">
<path d="M 729.029126 121.553398
L 734.466019 121.553398
L 734.466019 15.048544
L 729.029126 15.048544
z
" style="fill: #ffffff"/>
</g>
<g id="matplotlib.axis_7"/>
<g id="matplotlib.axis_8">
<g id="ytick_27">
<g id="line2d_68"/>
<g id="text_30">
<text style="font-size: 10px; font-family: 'Liberation Sans', 'DejaVu Sans', sans-serif; text-anchor: start; fill: #1c1c1c" x="737.966019" y="119.83703" transform="rotate(-0 737.966019 119.83703)">0.000</text>
</g>
</g>
<g id="ytick_28">
<g id="line2d_69"/>
<g id="text_31">
<text style="font-size: 10px; font-family: 'Liberation Sans', 'DejaVu Sans', sans-serif; text-anchor: start; fill: #1c1c1c" x="737.966019" y="81.341884" transform="rotate(-0 737.966019 81.341884)">0.002</text>
</g>
</g>
<g id="ytick_29">
<g id="line2d_70"/>
<g id="text_32">
<text style="font-size: 10px; font-family: 'Liberation Sans', 'DejaVu Sans', sans-serif; text-anchor: start; fill: #1c1c1c" x="737.966019" y="42.846738" transform="rotate(-0 737.966019 42.846738)">0.004</text>
</g>
</g>
</g>
<g id="CB0"><rect x="729.03" y="15.05" width="5.44" height="106.50" fill="url(#cbg0)"/><rect x="729.43" y="13.60" width="5.44" height="0.9" fill="#b02020" fill-opacity="0.55"/></g>
<g id="patch_18">
<path d="M 729.029126 121.553398
L 729.029126 15.048544
" style="fill: none; stroke: #cccccc; stroke-linejoin: miter; stroke-linecap: square"/>
</g>
<g id="patch_19">
<path d="M 734.466019 121.553398
L 734.466019 15.048544
" style="fill: none; stroke: #cccccc; stroke-linejoin: miter; stroke-linecap: square"/>
</g>
<g id="patch_20">
<path d="M 729.029126 121.553398
L 734.466019 121.553398
" style="fill: none; stroke: #cccccc; stroke-linejoin: miter; stroke-linecap: square"/>
</g>
<g id="patch_21">
<path d="M 729.029126 15.048544
L 734.466019 15.048544
" style="fill: none; stroke: #cccccc; stroke-linejoin: miter; stroke-linecap: square"/>
</g>
</g>
<g id="axes_6">
<g id="patch_22">
<path d="M 28.15534 280.582524
L 266.407767 280.582524
L 266.407767 175.92233
L 28.15534 175.92233
z
" style="fill: #ffffff"/>
</g>
<g id="matplotlib.axis_9">
<g id="xtick_11">
<g id="line2d_71">
<path d="M 38.543689 280.582524
L 38.543689 175.92233
" clip-path="url(#pe00ec48257)" style="fill: none; stroke: #cccccc; stroke-width: 0.8; stroke-linecap: round"/>
</g>
<g id="line2d_72"/>
<g id="text_33">
<text style="font-size: 10px; font-family: 'Liberation Sans', 'DejaVu Sans', sans-serif; text-anchor: middle; fill: #1c1c1c" x="38.543689" y="291.329399" transform="rotate(-0 38.543689 291.329399)">0.0</text>
</g>
</g>
<g id="xtick_12">
<g id="line2d_73">
<path d="M 82.07767 280.582524
L 82.07767 175.92233
" clip-path="url(#pe00ec48257)" style="fill: none; stroke: #cccccc; stroke-width: 0.8; stroke-linecap: round"/>
</g>
<g id="line2d_74"/>
<g id="text_34">
<text style="font-size: 10px; font-family: 'Liberation Sans', 'DejaVu Sans', sans-serif; text-anchor: middle; fill: #1c1c1c" x="82.07767" y="291.329399" transform="rotate(-0 82.07767 291.329399)">0.2</text>
</g>
</g>
<g id="xtick_13">
<g id="line2d_75">
<path d="M 125.61165 280.582524
L 125.61165 175.92233
" clip-path="url(#pe00ec48257)" style="fill: none; stroke: #cccccc; stroke-width: 0.8; stroke-linecap: round"/>
</g>
<g id="line2d_76"/>
<g id="text_35">
<text style="font-size: 10px; font-family: 'Liberation Sans', 'DejaVu Sans', sans-serif; text-anchor: middle; fill: #1c1c1c" x="125.61165" y="291.329399" transform="rotate(-0 125.61165 291.329399)">0.4</text>
</g>
</g>
<g id="xtick_14">
<g id="line2d_77">
<path d="M 169.145631 280.582524
L 169.145631 175.92233
" clip-path="url(#pe00ec48257)" style="fill: none; stroke: #cccccc; stroke-width: 0.8; stroke-linecap: round"/>
</g>
<g id="line2d_78"/>
<g id="text_36">
<text style="font-size: 10px; font-family: 'Liberation Sans', 'DejaVu Sans', sans-serif; text-anchor: middle; fill: #1c1c1c" x="169.145631" y="291.329399" transform="rotate(-0 169.145631 291.329399)">0.6</text>
</g>
</g>
<g id="xtick_15">
<g id="line2d_79">
<path d="M 212.679612 280.582524
L 212.679612 175.92233
" clip-path="url(#pe00ec48257)" style="fill: none; stroke: #cccccc; stroke-width: 0.8; stroke-linecap: round"/>
</g>
<g id="line2d_80"/>
<g id="text_37">
<text style="font-size: 10px; font-family: 'Liberation Sans', 'DejaVu Sans', sans-serif; text-anchor: middle; fill: #1c1c1c" x="212.679612" y="291.329399" transform="rotate(-0 212.679612 291.329399)">0.8</text>
</g>
</g>
<g id="xtick_16">
<g id="line2d_81">
<path d="M 256.213592 280.582524
L 256.213592 175.92233
" clip-path="url(#pe00ec48257)" style="fill: none; stroke: #cccccc; stroke-width: 0.8; stroke-linecap: round"/>
</g>
<g id="line2d_82"/>
<g id="text_38">
<text style="font-size: 10px; font-family: 'Liberation Sans', 'DejaVu Sans', sans-serif; text-anchor: middle; fill: #1c1c1c" x="256.213592" y="291.329399" transform="rotate(-0 256.213592 291.329399)">1.0</text>
</g>
</g>
</g>
<g id="matplotlib.axis_10">
<g id="ytick_30">
<g id="line2d_83">
<path d="M 28.15534 276.31068
L 266.407767 276.31068
" clip-path="url(#pe00ec48257)" style="fill: none; stroke: #cccccc; stroke-width: 0.8; stroke-linecap: round"/>
</g>
<g id="line2d_84"/>
<g id="text_39">
<text style="font-size: 10px; font-family: 'Liberation Sans', 'DejaVu Sans', sans-serif; text-anchor: end; fill: #1c1c1c" x="24.65534" y="279.934117" transform="rotate(-0 24.65534 279.934117)">−0.10</text>
</g>
</g>
<g id="ytick_31">
<g id="line2d_85">
<path d="M 28.15534 252.402913
L 266.407767 252.402913
" clip-path="url(#pe00ec48257)" style="fill: none; stroke: #cccccc; stroke-width: 0.8; stroke-linecap: round"/>
</g>
<g id="line2d_86"/>
<g id="text_40">
<text style="font-size: 10px; font-family: 'Liberation Sans', 'DejaVu Sans', sans-serif; text-anchor: end; fill: #1c1c1c" x="24.65534" y="256.02635" transform="rotate(-0 24.65534 256.02635)">−0.05</text>
</g>
</g>
<g id="ytick_32">
<g id="line2d_87">
<path d="M 28.15534 228.495146
L 266.407767 228.495146
" clip-path="url(#pe00ec48257)" style="fill: none; stroke: #cccccc; stroke-width: 0.8; stroke-linecap: round"/>
</g>
<g id="line2d_88"/>
<g id="text_41">
<text style="font-size: 10px; font-family: 'Liberation Sans', 'DejaVu Sans', sans-serif; text-anchor: end; fill: #1c1c1c" x="24.65534" y="232.118583" transform="rotate(-0 24.65534 232.118583)">0.00</text>
</g>
</g>
<g id="ytick_33">
<g id="line2d_89">
<path d="M 28.15534 204.587379
L 266.407767 204.587379
" clip-path="url(#pe00ec48257)" style="fill: none; stroke: #cccccc; stroke-width: 0.8; stroke-linecap: round"/>
</g>
<g id="line2d_90"/>
<g id="text_42">
<text style="font-size: 10px; font-family: 'Liberation Sans', 'DejaVu Sans', sans-serif; text-anchor: end; fill: #1c1c1c" x="24.65534" y="208.210816" transform="rotate(-0 24.65534 208.210816)">0.05</text>
</g>
</g>
<g id="ytick_34">
<g id="line2d_91">
<path d="M 28.15534 180.679612
L 266.407767 180.679612
" clip-path="url(#pe00ec48257)" style="fill: none; stroke: #cccccc; stroke-width: 0.8; stroke-linecap: round"/>
</g>
<g id="line2d_92"/>
<g id="text_43">
<text style="font-size: 10px; font-family: 'Liberation Sans', 'DejaVu Sans', sans-serif; text-anchor: end; fill: #1c1c1c" x="24.65534" y="184.303049" transform="rotate(-0 24.65534 184.303049)">0.10</text>
</g>
</g>
</g>
<g id="line2d_93">
<path d="M 38.543689 180.679612
L 39.634767 180.85884
L 40.725844 181.395182
L 41.816921 182.284616
L 42.907998 183.520474
L 43.999075 185.093493
L 45.090153 186.991879
L 46.726768 190.417749
L 48.363384 194.485387
L 50 199.126237
L 52.182154 206.069276
L 54.909847 215.665613
L 59.819695 234.129279
L 63.092926 246.139215
L 65.82062 255.274854
L 68.002774 261.701578
L 69.63939 265.878835
L 71.276006 269.426017
L 72.367083 271.410769
L 73.45816 273.073798
L 74.549237 274.402636
L 75.640314 275.387321
L 76.731392 276.020472
L 77.822469 276.297341
L 78.913546 276.215853
L 80.004623 275.77662
L 81.0957 274.982933
L 82.186778 273.840743
L 83.277855 272.358613
L 84.368932 270.547653
L 86.005548 267.245005
L 87.642164 263.289255
L 89.278779 258.747074
L 91.460934 251.91219
L 94.188627 242.409034
L 98.552936 226.049071
L 102.371706 211.905644
L 105.099399 202.658514
L 107.281553 196.110566
L 108.918169 191.82602
L 110.554785 188.159507
L 112.191401 185.172823
L 113.282478 183.584741
L 114.373555 182.333336
L 115.464632 181.427991
L 116.55571 180.875492
L 117.646787 180.679982
L 118.737864 180.842926
L 119.828941 181.363102
L 120.920018 182.236611
L 122.011096 183.456905
L 123.102173 185.014835
L 124.19325 186.898722
L 125.829866 190.304186
L 127.466482 194.353333
L 129.103098 198.977916
L 131.285252 205.903197
L 134.012945 215.484373
L 138.922792 233.942305
L 142.741563 247.874664
L 144.923717 255.118698
L 147.105871 261.565877
L 148.742487 265.761179
L 150.379103 269.328388
L 152.015719 272.207381
L 153.106796 273.719902
L 154.197873 274.893388
L 155.288951 275.719043
L 156.380028 276.190675
L 157.471105 276.304751
L 158.562182 276.060414
L 159.653259 275.459497
L 160.744337 274.506504
L 161.835414 273.208579
L 162.926491 271.575453
L 164.017568 269.619369
L 165.654184 266.112408
L 167.2908 261.971434
L 168.927416 257.266241
L 171.10957 250.253246
L 173.837263 240.597761
L 183.656958 204.587379
L 185.839112 197.808006
L 187.475728 193.316114
L 189.112344 189.41714
L 190.74896 186.176798
L 191.840037 184.409933
L 192.931114 182.97356
L 194.022191 181.878447
L 195.113269 181.132803
L 196.204346 180.742219
L 197.295423 180.709622
L 198.3865 181.035257
L 199.477577 181.716683
L 200.568655 182.748791
L 201.659732 184.123843
L 202.750809 185.831533
L 203.841886 187.859057
L 205.478502 191.466155
L 207.115118 195.697352
L 208.751734 200.481333
L 210.933888 207.579324
L 213.661581 217.305377
L 222.935737 251.418201
L 225.117892 258.307643
L 226.754508 262.899479
L 228.391123 266.911453
L 230.027739 270.275947
L 231.118816 272.130749
L 232.209894 273.65843
L 233.300971 274.847537
L 234.392048 275.689156
L 235.483125 276.176978
L 236.574202 276.307345
L 237.66528 276.07928
L 238.756357 275.494493
L 239.847434 274.557368
L 240.938511 273.274931
L 242.029589 271.656794
L 243.120666 269.715089
L 244.757282 266.22832
L 246.393897 262.105585
L 248.030513 257.416369
L 250.212668 250.420701
L 252.940361 240.779779
L 256.213592 228.495146
L 256.213592 228.495146
" clip-path="url(#pe00ec48257)" style="fill: none; stroke-dasharray: 1.5,2.475; stroke-dashoffset: 0; stroke: #000000; stroke-width: 1.5"/>
</g>
<g id="line2d_94">
<path d="M 38.543689 191.916262
L 39.634767 192.053372
L 40.725844 192.463673
L 41.816921 193.14409
L 42.907998 194.089522
L 43.999075 195.292881
L 45.090153 196.745146
L 46.726768 199.365937
L 48.363384 202.477681
L 50 206.02793
L 52.182154 211.339356
L 54.909847 218.680553
L 59.819695 232.805258
L 63.638465 243.452009
L 65.82062 248.981623
L 68.002774 253.898066
L 69.63939 257.093668
L 71.276006 259.807262
L 72.912621 261.993111
L 74.003699 263.138574
L 75.094776 264.024327
L 76.185853 264.64373
L 77.27693 264.992139
L 78.368007 265.066943
L 79.459085 264.86758
L 80.550162 264.395545
L 81.641239 263.654378
L 82.732316 262.649633
L 83.823393 261.388844
L 85.460009 259.03876
L 87.096625 256.173885
L 88.733241 252.842504
L 90.915395 247.773048
L 93.09755 242.126596
L 96.370781 232.948226
L 102.917245 214.330879
L 105.099399 208.730123
L 107.281553 203.720942
L 108.918169 200.443264
L 110.554785 197.638382
L 112.191401 195.353569
L 113.282478 194.138686
L 114.373555 193.181361
L 115.464632 192.488772
L 116.55571 192.066111
L 117.646787 191.916546
L 118.737864 192.041198
L 119.828941 192.439132
L 120.920018 193.107367
L 122.011096 194.040892
L 123.102173 195.232708
L 124.19325 196.673882
L 125.829866 199.279062
L 127.466482 202.376659
L 129.103098 205.914465
L 131.285252 211.212305
L 134.012945 218.541905
L 138.922792 232.662223
L 142.741563 243.320477
L 144.923717 248.862163
L 147.105871 253.794255
L 148.742487 257.003661
L 150.379103 259.732576
L 152.015719 261.935006
L 153.106796 263.092084
L 154.197873 263.989801
L 155.288951 264.621427
L 156.380028 264.982226
L 157.471105 265.069494
L 158.562182 264.882576
L 159.653259 264.422874
L 160.744337 263.693835
L 161.835414 262.700922
L 162.926491 261.451581
L 164.563107 259.117761
L 166.199723 256.267818
L 167.836338 252.949785
L 170.018493 247.895281
L 172.200647 242.260122
L 175.473879 233.091125
L 182.020342 214.463759
L 184.202497 208.851448
L 186.384651 203.827082
L 188.021267 200.535901
L 189.657883 197.715955
L 191.294498 195.41477
L 192.385576 194.188382
L 193.476653 193.21918
L 194.56773 192.51443
L 195.658807 192.079415
L 196.749884 191.917396
L 197.840962 192.029588
L 198.932039 192.41515
L 200.023116 193.071192
L 201.114193 193.992795
L 202.20527 195.17305
L 203.296348 196.60311
L 204.932963 199.192639
L 206.569579 202.276042
L 208.206195 205.801349
L 210.38835 211.085521
L 213.116043 218.403411
L 217.480351 230.941403
L 221.299122 241.724759
L 224.026815 248.742388
L 226.208969 253.690052
L 227.845585 256.913212
L 229.482201 259.657406
L 231.118816 261.876382
L 232.209894 263.045058
L 233.300971 263.954725
L 234.392048 264.598564
L 235.483125 264.971747
L 236.574202 265.071478
L 237.66528 264.897009
L 238.756357 264.449647
L 239.847434 263.732746
L 240.938511 262.751681
L 242.029589 261.513807
L 243.666204 259.196286
L 245.30282 256.36132
L 246.939436 253.056688
L 249.12159 248.017213
L 251.303745 242.393435
L 254.576976 233.233952
L 256.213592 228.495146
L 256.213592 228.495146
" clip-path="url(#pe00ec48257)" style="fill: none; stroke-dasharray: 5.55,2.4; stroke-dashoffset: 0; stroke: #ff7f0e; stroke-opacity: 0.7; stroke-width: 1.5"/>
</g>
<g id="line2d_95">
<path d="M 38.543689 185.572292
L 39.999675 187.423607
L 40.727668 187.657672
L 42.183654 187.247563
L 42.911647 187.294813
L 43.63964 187.794614
L 44.367633 188.728092
L 47.279605 193.707798
L 48.735591 196.44169
L 50.191577 199.887537
L 50.91957 202.155789
L 52.375556 208.052295
L 53.831542 214.296589
L 54.559535 216.874508
L 56.015521 220.721065
L 56.743514 222.467468
L 57.471507 224.611926
L 58.1995 227.596521
L 58.927493 231.096926
L 59.655486 233.627056
L 60.383479 234.367953
L 61.111472 234.094043
L 61.839465 233.949232
L 62.567458 234.94709
L 63.295451 237.682281
L 66.207423 253.28331
L 67.663409 259.487938
L 68.391402 261.841114
L 69.847388 265.470833
L 70.575381 266.736014
L 71.303374 267.508615
L 72.031367 267.851007
L 74.943339 268.345462
L 75.671332 268.891342
L 77.855311 271.463965
L 78.583304 271.823376
L 80.03929 271.939944
L 81.495276 271.853504
L 82.223269 271.564939
L 82.951261 270.912286
L 83.679254 269.89637
L 85.13524 267.195186
L 85.863233 265.535223
L 87.319219 261.381498
L 94.599149 237.657747
L 96.055135 232.443084
L 96.783128 230.179773
L 97.511121 228.29696
L 98.967107 225.337221
L 100.423093 222.314905
L 101.879079 218.322618
L 104.791051 209.620396
L 109.887002 195.601003
L 112.070981 188.787064
L 112.798974 187.014364
L 113.526967 185.760699
L 114.25496 185.026289
L 114.982953 184.62741
L 116.438939 184.239252
L 117.166932 184.31701
L 117.894925 184.926212
L 118.622918 186.314749
L 120.078904 190.062173
L 120.806897 191.288338
L 121.53489 191.864752
L 123.718869 192.644263
L 124.446862 193.75093
L 125.174855 196.131316
L 126.630841 202.405367
L 127.358834 204.520634
L 128.086827 205.936721
L 130.998799 210.387507
L 132.454785 213.589259
L 133.910771 217.448936
L 136.094749 223.864159
L 138.278728 230.969246
L 144.102672 251.342752
L 145.558658 256.278664
L 146.286651 258.177298
L 147.014644 259.411025
L 147.742637 260.082264
L 149.926616 261.185043
L 150.654609 261.864248
L 151.382602 262.900795
L 154.294574 267.813485
L 155.022567 268.795878
L 155.75056 269.450578
L 156.478553 269.667246
L 157.206546 269.486799
L 158.662532 268.65456
L 159.390525 268.47422
L 160.118518 268.805451
L 161.574504 270.613064
L 162.302497 270.952637
L 163.03049 270.319046
L 163.758483 268.797602
L 165.214469 264.452336
L 167.398448 257.408766
L 168.126441 254.676913
L 168.854434 251.431033
L 171.038413 239.344895
L 171.766406 237.638323
L 172.494399 237.459788
L 173.222392 237.836684
L 173.950385 238.000297
L 174.678378 237.416892
L 175.406371 235.878741
L 177.59035 229.421819
L 179.774329 225.178328
L 180.502322 222.874291
L 181.230315 219.62063
L 184.87028 201.03037
L 185.598273 198.346411
L 186.326266 196.401399
L 187.054259 195.01763
L 187.782252 194.101431
L 188.510245 193.723016
L 189.238237 193.880085
L 189.96623 194.336891
L 190.694223 194.639715
L 191.422216 194.17726
L 192.150209 192.527793
L 193.606195 187.491144
L 194.334188 185.927668
L 195.062181 185.638416
L 196.518167 186.840194
L 197.24616 187.023311
L 197.974153 186.585558
L 198.702146 185.870282
L 199.430139 185.468314
L 200.158132 185.859866
L 200.886125 187.152992
L 202.342111 191.317124
L 205.982076 202.358922
L 207.438062 205.558597
L 210.350034 210.672492
L 211.80602 213.94336
L 213.262006 218.044553
L 213.989999 220.713958
L 216.173978 231.226445
L 216.901971 233.474626
L 217.629964 234.780884
L 219.08595 236.473178
L 219.813943 237.569177
L 220.541936 239.191442
L 222.725915 245.919355
L 223.453908 247.48381
L 224.909894 249.680717
L 225.637887 251.601545
L 227.093873 257.313503
L 227.821866 259.420336
L 228.549859 260.637133
L 230.733838 262.955089
L 231.461831 264.426036
L 232.917817 268.792665
L 233.64581 270.356365
L 234.373803 270.597043
L 235.101796 269.549954
L 235.829789 267.920435
L 236.557782 266.665729
L 237.285775 266.48292
L 238.013768 267.362894
L 238.741761 268.594305
L 239.469754 269.336792
L 240.197747 269.227332
L 240.92574 268.443804
L 241.653733 267.295774
L 243.109718 264.362957
L 244.565704 260.617702
L 248.205669 250.366648
L 251.117641 242.377954
L 254.757606 233.130804
L 255.485599 231.46654
L 256.213592 230.243687
L 256.213592 230.243687
" clip-path="url(#pe00ec48257)" style="fill: none; stroke: #1f77b4; stroke-opacity: 0.7; stroke-width: 1.5; stroke-linecap: round"/>
</g>
<g id="patch_23">
<path d="M 28.15534 280.582524
L 28.15534 175.92233
" style="fill: none; stroke: #cccccc; stroke-linejoin: miter; stroke-linecap: square"/>
</g>
<g id="patch_24">
<path d="M 266.407767 280.582524
L 266.407767 175.92233
" style="fill: none; stroke: #cccccc; stroke-linejoin: miter; stroke-linecap: square"/>
</g>
<g id="patch_25">
<path d="M 28.15534 280.582524
L 266.407767 280.582524
" style="fill: none; stroke: #cccccc; stroke-linejoin: miter; stroke-linecap: square"/>
</g>
<g id="patch_26">
<path d="M 28.15534 175.92233
L 266.407767 175.92233
" style="fill: none; stroke: #cccccc; stroke-linejoin: miter; stroke-linecap: square"/>
</g>
<g id="text_44">
<!-- Reconstructions ($\alpha = 0.0011$) -->
<g style="fill: #1c1c1c" transform="translate(66.281553 169.92233)">
<text>
<tspan x="0" y="-0.09375" style="font-size: 12px; font-family: 'Liberation Sans'; fill: #1c1c1c">R</tspan>
<tspan x="8.666016" y="-0.09375" style="font-size: 12px; font-family: 'Liberation Sans'; fill: #1c1c1c">e</tspan>
<tspan x="15.339844" y="-0.09375" style="font-size: 12px; font-family: 'Liberation Sans'; fill: #1c1c1c">c</tspan>
<tspan x="21.339844" y="-0.09375" style="font-size: 12px; font-family: 'Liberation Sans'; fill: #1c1c1c">o</tspan>
<tspan x="28.013672" y="-0.09375" style="font-size: 12px; font-family: 'Liberation Sans'; fill: #1c1c1c">n</tspan>
<tspan x="34.6875" y="-0.09375" style="font-size: 12px; font-family: 'Liberation Sans'; fill: #1c1c1c">s</tspan>
<tspan x="40.6875" y="-0.09375" style="font-size: 12px; font-family: 'Liberation Sans'; fill: #1c1c1c">t</tspan>
<tspan x="44.021484" y="-0.09375" style="font-size: 12px; font-family: 'Liberation Sans'; fill: #1c1c1c">r</tspan>
<tspan x="48.017578" y="-0.09375" style="font-size: 12px; font-family: 'Liberation Sans'; fill: #1c1c1c">u</tspan>
<tspan x="54.691406" y="-0.09375" style="font-size: 12px; font-family: 'Liberation Sans'; fill: #1c1c1c">c</tspan>
<tspan x="60.691406" y="-0.09375" style="font-size: 12px; font-family: 'Liberation Sans'; fill: #1c1c1c">t</tspan>
<tspan x="64.025391" y="-0.09375" style="font-size: 12px; font-family: 'Liberation Sans'; fill: #1c1c1c">i</tspan>
<tspan x="66.691406" y="-0.09375" style="font-size: 12px; font-family: 'Liberation Sans'; fill: #1c1c1c">o</tspan>
<tspan x="73.365234" y="-0.09375" style="font-size: 12px; font-family: 'Liberation Sans'; fill: #1c1c1c">n</tspan>
<tspan x="80.039062" y="-0.09375" style="font-size: 12px; font-family: 'Liberation Sans'; fill: #1c1c1c">s</tspan>
<tspan x="86.039062" y="-0.09375" style="font-size: 12px; font-family: 'Liberation Sans'; fill: #1c1c1c"> </tspan>
<tspan x="89.373047" y="-0.09375" style="font-size: 12px; font-family: 'Liberation Sans'; fill: #1c1c1c">(</tspan>
<tspan x="157.998047" y="-0.09375" style="font-size: 12px; font-family: 'Liberation Sans'; fill: #1c1c1c">)</tspan>
<tspan x="93.369141" y="-0.09375" style="font-style: oblique; font-size: 12px; font-family: 'DejaVu Sans'; fill: #1c1c1c">α</tspan>
<tspan x="103.617188" y="-0.09375" style="font-size: 12px; font-family: 'DejaVu Sans'; fill: #1c1c1c">=</tspan>
<tspan x="116.009766" y="-0.09375" style="font-size: 12px; font-family: 'DejaVu Sans'; fill: #1c1c1c">0</tspan>
<tspan x="123.644531" y="-0.09375" style="font-size: 12px; font-family: 'DejaVu Sans'; fill: #1c1c1c">.</tspan>
<tspan x="127.458984" y="-0.09375" style="font-size: 12px; font-family: 'DejaVu Sans'; fill: #1c1c1c">0</tspan>
<tspan x="135.09375" y="-0.09375" style="font-size: 12px; font-family: 'DejaVu Sans'; fill: #1c1c1c">0</tspan>
<tspan x="142.728516" y="-0.09375" style="font-size: 12px; font-family: 'DejaVu Sans'; fill: #1c1c1c">1</tspan>
<tspan x="150.363281" y="-0.09375" style="font-size: 12px; font-family: 'DejaVu Sans'; fill: #1c1c1c">1</tspan>
</text>
</g>
</g>
<g id="legend_2">
<g id="line2d_96">
<path d="M 275.407767 211.277
L 285.407767 211.277
L 295.407767 211.277
" style="fill: none; stroke-dasharray: 1.5,2.475; stroke-dashoffset: 0; stroke: #000000; stroke-width: 1.5"/>
</g>
<g id="text_45">
<!-- $x^\dagger$ -->
<g style="fill: #1c1c1c" transform="translate(303.407767 214.777)">
<text>
<tspan x="0" y="-0.064063" style="font-style: oblique; font-size: 10px; font-family: 'DejaVu Sans'; fill: #1c1c1c">x</tspan>
<tspan x="7.728353" y="-3.892188" style="font-size: 7px; font-family: 'DejaVu Sans'; fill: #1c1c1c">†</tspan>
</text>
</g>
</g>
<g id="line2d_97">
<path d="M 275.407767 226.649302
L 285.407767 226.649302
L 295.407767 226.649302
" style="fill: none; stroke-dasharray: 5.55,2.4; stroke-dashoffset: 0; stroke: #ff7f0e; stroke-opacity: 0.7; stroke-width: 1.5"/>
</g>
<g id="text_46">
<!-- $x(A)$ -->
<g style="fill: #1c1c1c" transform="translate(303.407767 230.149302)">
<text>
<tspan x="0" y="-0.40625" style="font-style: oblique; font-size: 10px; font-family: 'DejaVu Sans'; fill: #1c1c1c">x</tspan>
<tspan x="9.819336" y="-0.40625" style="font-style: oblique; font-size: 10px; font-family: 'DejaVu Sans'; fill: #1c1c1c">A</tspan>
<tspan x="5.917969" y="-0.40625" style="font-size: 10px; font-family: 'DejaVu Sans'; fill: #1c1c1c">(</tspan>
<tspan x="16.660156" y="-0.40625" style="font-size: 10px; font-family: 'DejaVu Sans'; fill: #1c1c1c">)</tspan>
</text>
</g>
</g>
<g id="line2d_98">
<path d="M 275.407767 241.324302
L 285.407767 241.324302
L 295.407767 241.324302
" style="fill: none; stroke: #1f77b4; stroke-opacity: 0.7; stroke-width: 1.5; stroke-linecap: round"/>
</g>
<g id="text_47">
<!-- $x(B_{opt})$ -->
<g style="fill: #1c1c1c" transform="translate(303.407767 244.824302)">
<text>
<tspan x="0" y="-0.40625" style="font-style: oblique; font-size: 10px; font-family: 'DejaVu Sans'; fill: #1c1c1c">x</tspan>
<tspan x="9.819336" y="-0.40625" style="font-style: oblique; font-size: 10px; font-family: 'DejaVu Sans'; fill: #1c1c1c">B</tspan>
<tspan x="5.917969" y="-0.40625" style="font-size: 10px; font-family: 'DejaVu Sans'; fill: #1c1c1c">(</tspan>
<tspan x="28.423828" y="-0.40625" style="font-size: 10px; font-family: 'DejaVu Sans'; fill: #1c1c1c">)</tspan>
<tspan x="16.679688" y="1.234375" style="font-style: oblique; font-size: 7px; font-family: 'DejaVu Sans'; fill: #1c1c1c">o</tspan>
<tspan x="20.962402" y="1.234375" style="font-style: oblique; font-size: 7px; font-family: 'DejaVu Sans'; fill: #1c1c1c">p</tspan>
<tspan x="25.405762" y="1.234375" style="font-style: oblique; font-size: 7px; font-family: 'DejaVu Sans'; fill: #1c1c1c">t</tspan>
</text>
</g>
</g>
</g>
</g>
<g id="axes_7">
<g id="patch_27">
<path d="M 378.252427 281.067961
L 470.38835 281.067961
L 470.38835 177.087379
L 378.252427 177.087379
z
" style="fill: #ffffff"/>
</g>
<g id="matplotlib.axis_11">
<g id="xtick_17">
<g id="line2d_99">
<path d="M 382.23301 281.067961
L 382.23301 177.087379
" clip-path="url(#p3d0742f87b)" style="fill: none; stroke: #cccccc; stroke-width: 0.8; stroke-linecap: round"/>
</g>
<g id="line2d_100"/>
<g id="text_48">
<text style="font-size: 10px; font-family: 'Liberation Sans', 'DejaVu Sans', sans-serif; text-anchor: middle; fill: #1c1c1c" x="382.23301" y="292.614836" transform="rotate(-0 382.23301 292.614836)">0</text>
</g>
</g>
<g id="xtick_18">
<g id="line2d_101">
<path d="M 466.796117 281.067961
L 466.796117 177.087379
" clip-path="url(#p3d0742f87b)" style="fill: none; stroke: #cccccc; stroke-width: 0.8; stroke-linecap: round"/>
</g>
<g id="line2d_102"/>
<g id="text_49">
<text style="font-size: 10px; font-family: 'Liberation Sans', 'DejaVu Sans', sans-serif; text-anchor: middle; fill: #1c1c1c" x="466.796117" y="292.614836" transform="rotate(-0 466.796117 292.614836)">3000</text>
</g>
</g>
</g>
<g id="matplotlib.axis_12">
<g id="ytick_35">
<g id="line2d_103">
<path d="M 378.252427 247.378641
L 470.38835 247.378641
" clip-path="url(#p3d0742f87b)" style="fill: none; stroke: #cccccc; stroke-width: 0.8; stroke-linecap: round"/>
</g>
<g id="line2d_104"/>
<g id="text_50">
<!-- $\mathdefault{10^{-1}}$ -->
<g style="fill: #1c1c1c" transform="translate(355.252427 251.002078)">
<text>
<tspan x="0.000" y="1.649" style="font-size: 10px; font-family: 'Liberation Sans'; fill: #1c1c1c">1</tspan>
<tspan x="5.562" y="1.649" style="font-size: 10px; font-family: 'Liberation Sans'; fill: #1c1c1c">0</tspan>
<tspan x="10.415" y="-5.838" style="font-size: 7.7px; font-family: 'Liberation Sans'; fill: #1c1c1c">−</tspan>
<tspan x="14.503" y="-5.838" style="font-size: 7.7px; font-family: 'Liberation Sans'; fill: #1c1c1c">1</tspan>
</text>
</g>
</g>
</g>
<g id="ytick_36">
<g id="line2d_105">
<path d="M 378.252427 201.553398
L 470.38835 201.553398
" clip-path="url(#p3d0742f87b)" style="fill: none; stroke: #cccccc; stroke-width: 0.8; stroke-linecap: round"/>
</g>
<g id="line2d_106"/>
<g id="text_51">
<!-- $\mathdefault{10^{0}}$ -->
<g style="fill: #1c1c1c" transform="translate(359.352427 205.176836)">
<text>
<tspan x="0.000" y="1.726" style="font-size: 10px; font-family: 'Liberation Sans'; fill: #1c1c1c">1</tspan>
<tspan x="5.562" y="1.726" style="font-size: 10px; font-family: 'Liberation Sans'; fill: #1c1c1c">0</tspan>
<tspan x="10.415" y="-5.761" style="font-size: 7.7px; font-family: 'Liberation Sans'; fill: #1c1c1c">0</tspan>
</text>
</g>
</g>
</g>
<g id="ytick_37">
<g id="line2d_107"/>
</g>
<g id="ytick_38">
<g id="line2d_108"/>
</g>
<g id="ytick_39">
<g id="line2d_109"/>
</g>
<g id="ytick_40">
<g id="line2d_110"/>
</g>
<g id="ytick_41">
<g id="line2d_111"/>
</g>
<g id="ytick_42">
<g id="line2d_112"/>
</g>
<g id="ytick_43">
<g id="line2d_113"/>
</g>
<g id="ytick_44">
<g id="line2d_114"/>
</g>
<g id="ytick_45">
<g id="line2d_115"/>
</g>
<g id="ytick_46">
<g id="line2d_116"/>
</g>
<g id="ytick_47">
<g id="line2d_117"/>
</g>
<g id="ytick_48">
<g id="line2d_118"/>
</g>
<g id="ytick_49">
<g id="line2d_119"/>
</g>
<g id="ytick_50">
<g id="line2d_120"/>
</g>
<g id="ytick_51">
<g id="line2d_121"/>
</g>
<g id="ytick_52">
<g id="line2d_122"/>
</g>
<g id="ytick_53">
<g id="line2d_123"/>
</g>
<g id="ytick_54">
<g id="line2d_124"/>
</g>
</g>
<g id="line2d_125">
<path d="M 382.23301 181.747573
L 383.928511 257.721817
L 384.140448 259.393666
L 384.352386 259.025521
L 385.200136 256.817893
L 386.471762 254.56854
L 387.107575 253.831206
L 387.53145 253.607686
L 388.167263 253.642984
L 389.015013 253.917316
L 390.498577 254.685056
L 391.346327 255.386033
L 392.617953 256.839185
L 395.797017 260.639736
L 399.611894 265.134002
L 402.790958 268.300498
L 405.334209 270.580067
L 407.241648 271.99803
L 410.208774 273.798637
L 412.540088 275.015811
L 414.235589 275.647888
L 415.719152 275.946082
L 419.957904 276.379781
L 423.348906 276.50485
L 432.674161 276.392389
L 451.748546 275.914741
L 466.796117 275.533981
L 466.796117 275.533981
" clip-path="url(#p3d0742f87b)" style="fill: none; stroke: #1f77b4; stroke-width: 1.5; stroke-linecap: round"/>
</g>
<g id="line2d_126">
<path d="M 378.252427 255.436893
L 470.38835 255.436893
" clip-path="url(#p3d0742f87b)" style="fill: none; stroke-dasharray: 5.55,2.4; stroke-dashoffset: 0; stroke: #ff7f0e; stroke-width: 1.5"/>
</g>
<g id="patch_28">
<path d="M 378.252427 281.067961
L 378.252427 177.087379
" style="fill: none; stroke: #cccccc; stroke-linejoin: miter; stroke-linecap: square"/>
</g>
<g id="patch_29">
<path d="M 470.38835 281.067961
L 470.38835 177.087379
" style="fill: none; stroke: #cccccc; stroke-linejoin: miter; stroke-linecap: square"/>
</g>
<g id="patch_30">
<path d="M 378.252427 281.067961
L 470.38835 281.067961
" style="fill: none; stroke: #cccccc; stroke-linejoin: miter; stroke-linecap: square"/>
</g>
<g id="patch_31">
<path d="M 378.252427 177.087379
L 470.38835 177.087379
" style="fill: none; stroke: #cccccc; stroke-linejoin: miter; stroke-linecap: square"/>
</g>
<g id="text_52">
<text style="font-size: 12px; font-family: 'Liberation Sans', 'DejaVu Sans', sans-serif; text-anchor: middle; fill: #1c1c1c" x="424.320388" y="171.087379" transform="rotate(-0 424.320388 171.087379)">True error</text>
</g>
</g>
<g id="axes_8">
<g id="patch_32">
<path d="M 509.223301 281.067961
L 601.650485 281.067961
L 601.650485 177.087379
L 509.223301 177.087379
z
" style="fill: #ffffff"/>
</g>
<g id="matplotlib.axis_13">
<g id="xtick_19">
<g id="line2d_127">
<path d="M 513.106796 281.067961
L 513.106796 177.087379
" clip-path="url(#p8fdc609755)" style="fill: none; stroke: #cccccc; stroke-width: 0.8; stroke-linecap: round"/>
</g>
<g id="line2d_128"/>
<g id="text_53">
<text style="font-size: 10px; font-family: 'Liberation Sans', 'DejaVu Sans', sans-serif; text-anchor: middle; fill: #1c1c1c" x="513.106796" y="292.614836" transform="rotate(-0 513.106796 292.614836)">0</text>
</g>
</g>
<g id="xtick_20">
<g id="line2d_129">
<path d="M 597.572816 281.067961
L 597.572816 177.087379
" clip-path="url(#p8fdc609755)" style="fill: none; stroke: #cccccc; stroke-width: 0.8; stroke-linecap: round"/>
</g>
<g id="line2d_130"/>
<g id="text_54">
<text style="font-size: 10px; font-family: 'Liberation Sans', 'DejaVu Sans', sans-serif; text-anchor: middle; fill: #1c1c1c" x="597.572816" y="292.614836" transform="rotate(-0 597.572816 292.614836)">3000</text>
</g>
</g>
</g>
<g id="matplotlib.axis_14">
<g id="ytick_55">
<g id="line2d_131">
<path d="M 509.223301 198.543689
L 601.650485 198.543689
" clip-path="url(#p8fdc609755)" style="fill: none; stroke: #cccccc; stroke-width: 0.8; stroke-linecap: round"/>
</g>
<g id="line2d_132"/>
<g id="text_55">
<!-- $\mathdefault{10^{-7}}$ -->
<g style="fill: #1c1c1c" transform="translate(486.223301 202.167127)">
<text>
<tspan x="0.000" y="1.649" style="font-size: 10px; font-family: 'Liberation Sans'; fill: #1c1c1c">1</tspan>
<tspan x="5.562" y="1.649" style="font-size: 10px; font-family: 'Liberation Sans'; fill: #1c1c1c">0</tspan>
<tspan x="10.415" y="-5.838" style="font-size: 7.7px; font-family: 'Liberation Sans'; fill: #1c1c1c">−</tspan>
<tspan x="14.503" y="-5.838" style="font-size: 7.7px; font-family: 'Liberation Sans'; fill: #1c1c1c">7</tspan>
</text>
</g>
</g>
</g>
<g id="ytick_56">
<g id="line2d_133">
<path d="M 509.223301 221.909385
L 601.650485 221.909385
" clip-path="url(#p8fdc609755)" style="fill: none; stroke: #cccccc; stroke-width: 0.8; stroke-linecap: round"/>
</g>
<g id="line2d_134"/>
<g id="text_56">
<!-- $\mathdefault{10^{-9}}$ -->
<g style="fill: #1c1c1c" transform="translate(486.223301 225.532823)">
<text>
<tspan x="0.000" y="1.726" style="font-size: 10px; font-family: 'Liberation Sans'; fill: #1c1c1c">1</tspan>
<tspan x="5.562" y="1.726" style="font-size: 10px; font-family: 'Liberation Sans'; fill: #1c1c1c">0</tspan>
<tspan x="10.415" y="-5.761" style="font-size: 7.7px; font-family: 'Liberation Sans'; fill: #1c1c1c">−</tspan>
<tspan x="14.503" y="-5.761" style="font-size: 7.7px; font-family: 'Liberation Sans'; fill: #1c1c1c">9</tspan>
</text>
</g>
</g>
</g>
<g id="ytick_57">
<g id="line2d_135">
<path d="M 509.223301 245.275081
L 601.650485 245.275081
" clip-path="url(#p8fdc609755)" style="fill: none; stroke: #cccccc; stroke-width: 0.8; stroke-linecap: round"/>
</g>
<g id="line2d_136"/>
<g id="text_57">
<!-- $\mathdefault{10^{-11}}$ -->
<g style="fill: #1c1c1c" transform="translate(482.323301 248.898518)">
<text>
<tspan x="0.000" y="1.649" style="font-size: 10px; font-family: 'Liberation Sans'; fill: #1c1c1c">1</tspan>
<tspan x="5.562" y="1.649" style="font-size: 10px; font-family: 'Liberation Sans'; fill: #1c1c1c">0</tspan>
<tspan x="10.415" y="-5.838" style="font-size: 7.7px; font-family: 'Liberation Sans'; fill: #1c1c1c">−</tspan>
<tspan x="14.503" y="-5.838" style="font-size: 7.7px; font-family: 'Liberation Sans'; fill: #1c1c1c">1</tspan>
<tspan x="18.396" y="-5.838" style="font-size: 7.7px; font-family: 'Liberation Sans'; fill: #1c1c1c">1</tspan>
</text>
</g>
</g>
</g>
<g id="ytick_58">
<g id="line2d_137">
<path d="M 509.223301 268.640777
L 601.650485 268.640777
" clip-path="url(#p8fdc609755)" style="fill: none; stroke: #cccccc; stroke-width: 0.8; stroke-linecap: round"/>
</g>
<g id="line2d_138"/>
<g id="text_58">
<!-- $\mathdefault{10^{-13}}$ -->
<g style="fill: #1c1c1c" transform="translate(482.323301 272.264214)">
<text>
<tspan x="0.000" y="1.726" style="font-size: 10px; font-family: 'Liberation Sans'; fill: #1c1c1c">1</tspan>
<tspan x="5.562" y="1.726" style="font-size: 10px; font-family: 'Liberation Sans'; fill: #1c1c1c">0</tspan>
<tspan x="10.415" y="-5.761" style="font-size: 7.7px; font-family: 'Liberation Sans'; fill: #1c1c1c">−</tspan>
<tspan x="14.503" y="-5.761" style="font-size: 7.7px; font-family: 'Liberation Sans'; fill: #1c1c1c">1</tspan>
<tspan x="18.396" y="-5.761" style="font-size: 7.7px; font-family: 'Liberation Sans'; fill: #1c1c1c">3</tspan>
</text>
</g>
</g>
</g>
</g>
<g id="line2d_139">
<path d="M 513.106796 181.747573
L 513.530185 200.077501
L 513.741879 205.731938
L 513.953573 208.196
L 514.376962 209.762736
L 515.435433 211.953317
L 516.493905 213.537292
L 520.304402 218.630643
L 523.268122 222.549486
L 526.443536 226.305039
L 529.407256 229.52716
L 531.947587 231.958513
L 534.487919 234.041334
L 537.875027 236.484185
L 544.649244 241.299303
L 550.36499 245.356435
L 554.175487 247.764786
L 560.949704 251.989574
L 566.453756 255.81463
L 585.717936 269.338161
L 589.951821 272.071783
L 595.244178 275.215266
L 597.572816 276.504854
L 597.572816 276.504854
" clip-path="url(#p8fdc609755)" style="fill: none; stroke: #d62728; stroke-width: 1.5; stroke-linecap: round"/>
</g>
<g id="patch_33">
<path d="M 509.223301 281.067961
L 509.223301 177.087379
" style="fill: none; stroke: #cccccc; stroke-linejoin: miter; stroke-linecap: square"/>
</g>
<g id="patch_34">
<path d="M 601.650485 281.067961
L 601.650485 177.087379
" style="fill: none; stroke: #cccccc; stroke-linejoin: miter; stroke-linecap: square"/>
</g>
<g id="patch_35">
<path d="M 509.223301 281.067961
L 601.650485 281.067961
" style="fill: none; stroke: #cccccc; stroke-linejoin: miter; stroke-linecap: square"/>
</g>
<g id="patch_36">
<path d="M 509.223301 177.087379
L 601.650485 177.087379
" style="fill: none; stroke: #cccccc; stroke-linejoin: miter; stroke-linecap: square"/>
</g>
<g id="text_59">
<!-- $\|B_k - B_{k-1}\|_F^2$ -->
<g style="fill: #1c1c1c" transform="translate(517.876893 171.087379)">
<text>
<tspan x="0" y="-0.171875" style="font-size: 12px; font-family: 'DejaVu Sans'; fill: #1c1c1c">‖</tspan>
<tspan x="21.762891" y="-0.171875" style="font-size: 12px; font-family: 'DejaVu Sans'; fill: #1c1c1c">−</tspan>
<tspan x="63.236133" y="-0.171875" style="font-size: 12px; font-family: 'DejaVu Sans'; fill: #1c1c1c">‖</tspan>
<tspan x="6" y="-0.171875" style="font-style: oblique; font-size: 12px; font-family: 'DejaVu Sans'; fill: #1c1c1c">B</tspan>
<tspan x="34.155469" y="-0.171875" style="font-style: oblique; font-size: 12px; font-family: 'DejaVu Sans'; fill: #1c1c1c">B</tspan>
<tspan x="14.232422" y="1.796875" style="font-style: oblique; font-size: 8.4px; font-family: 'DejaVu Sans'; fill: #1c1c1c">k</tspan>
<tspan x="42.387891" y="1.796875" style="font-style: oblique; font-size: 8.4px; font-family: 'DejaVu Sans'; fill: #1c1c1c">k</tspan>
<tspan x="69.350977" y="3.109375" style="font-style: oblique; font-size: 8.4px; font-family: 'DejaVu Sans'; fill: #1c1c1c">F</tspan>
<tspan x="48.888867" y="1.796875" style="font-size: 8.4px; font-family: 'DejaVu Sans'; fill: #1c1c1c">−</tspan>
<tspan x="57.563672" y="1.796875" style="font-size: 8.4px; font-family: 'DejaVu Sans'; fill: #1c1c1c">1</tspan>
<tspan x="69.350977" y="-4.765625" style="font-size: 8.4px; font-family: 'DejaVu Sans'; fill: #1c1c1c">2</tspan>
</text>
</g>
</g>
</g>
<g id="axes_9">
<g id="IMG1"><g clip-path="url(#i1lo)"><rect x="608.74" y="173.79" width="107.86" height="107.67" fill="#cc0000"/><ellipse cx="608.7" cy="164.4" rx="13.6" ry="8.3" fill="url(#i1ld)"/><ellipse cx="608.7" cy="183.9" rx="11.7" ry="9.7" fill="url(#i1ll)"/><ellipse cx="608.7" cy="203.4" rx="13.6" ry="8.3" fill="url(#i1ld)"/><ellipse cx="608.7" cy="222.9" rx="11.7" ry="9.7" fill="url(#i1ll)"/><ellipse cx="608.7" cy="242.4" rx="13.6" ry="8.3" fill="url(#i1ld)"/><ellipse cx="608.7" cy="261.9" rx="11.7" ry="9.7" fill="url(#i1ll)"/><ellipse cx="608.7" cy="281.4" rx="13.6" ry="8.3" fill="url(#i1ld)"/><ellipse cx="628.4" cy="164.4" rx="11.7" ry="9.7" fill="url(#i1ll)"/><ellipse cx="628.4" cy="183.9" rx="13.6" ry="8.3" fill="url(#i1ld)"/><ellipse cx="628.4" cy="203.4" rx="11.7" ry="9.7" fill="url(#i1ll)"/><ellipse cx="628.4" cy="222.9" rx="13.6" ry="8.3" fill="url(#i1ld)"/><ellipse cx="628.4" cy="242.4" rx="11.7" ry="9.7" fill="url(#i1ll)"/><ellipse cx="628.4" cy="261.9" rx="13.6" ry="8.3" fill="url(#i1ld)"/><ellipse cx="628.4" cy="281.4" rx="11.7" ry="9.7" fill="url(#i1ll)"/><ellipse cx="648.1" cy="164.4" rx="13.6" ry="8.3" fill="url(#i1ld)"/><ellipse cx="648.1" cy="183.9" rx="11.7" ry="9.7" fill="url(#i1ll)"/><ellipse cx="648.1" cy="203.4" rx="13.6" ry="8.3" fill="url(#i1ld)"/><ellipse cx="648.1" cy="222.9" rx="11.7" ry="9.7" fill="url(#i1ll)"/><ellipse cx="648.1" cy="242.4" rx="13.6" ry="8.3" fill="url(#i1ld)"/><ellipse cx="648.1" cy="261.9" rx="11.7" ry="9.7" fill="url(#i1ll)"/><ellipse cx="648.1" cy="281.4" rx="13.6" ry="8.3" fill="url(#i1ld)"/><ellipse cx="667.8" cy="164.4" rx="11.7" ry="9.7" fill="url(#i1ll)"/><ellipse cx="667.8" cy="183.9" rx="13.6" ry="8.3" fill="url(#i1ld)"/><ellipse cx="667.8" cy="203.4" rx="11.7" ry="9.7" fill="url(#i1ll)"/><ellipse cx="667.8" cy="222.9" rx="13.6" ry="8.3" fill="url(#i1ld)"/><ellipse cx="667.8" cy="242.4" rx="11.7" ry="9.7" fill="url(#i1ll)"/><ellipse cx="667.8" cy="261.9" rx="13.6" ry="8.3" fill="url(#i1ld)"/><ellipse cx="667.8" cy="281.4" rx="11.7" ry="9.7" fill="url(#i1ll)"/><ellipse cx="687.5" cy="164.4" rx="13.6" ry="8.3" fill="url(#i1ld)"/><ellipse cx="687.5" cy="183.9" rx="11.7" ry="9.7" fill="url(#i1ll)"/><ellipse cx="687.5" cy="203.4" rx="13.6" ry="8.3" fill="url(#i1ld)"/><ellipse cx="687.5" cy="222.9" rx="11.7" ry="9.7" fill="url(#i1ll)"/><ellipse cx="687.5" cy="242.4" rx="13.6" ry="8.3" fill="url(#i1ld)"/><ellipse cx="687.5" cy="261.9" rx="11.7" ry="9.7" fill="url(#i1ll)"/><ellipse cx="687.5" cy="281.4" rx="13.6" ry="8.3" fill="url(#i1ld)"/><ellipse cx="707.2" cy="164.4" rx="11.7" ry="9.7" fill="url(#i1ll)"/><ellipse cx="707.2" cy="183.9" rx="13.6" ry="8.3" fill="url(#i1ld)"/><ellipse cx="707.2" cy="203.4" rx="11.7" ry="9.7" fill="url(#i1ll)"/><ellipse cx="707.2" cy="222.9" rx="13.6" ry="8.3" fill="url(#i1ld)"/><ellipse cx="707.2" cy="242.4" rx="11.7" ry="9.7" fill="url(#i1ll)"/><ellipse cx="707.2" cy="261.9" rx="13.6" ry="8.3" fill="url(#i1ld)"/><ellipse cx="707.2" cy="281.4" rx="11.7" ry="9.7" fill="url(#i1ll)"/><ellipse cx="726.8" cy="164.4" rx="13.6" ry="8.3" fill="url(#i1ld)"/><ellipse cx="726.8" cy="183.9" rx="11.7" ry="9.7" fill="url(#i1ll)"/><ellipse cx="726.8" cy="203.4" rx="13.6" ry="8.3" fill="url(#i1ld)"/><ellipse cx="726.8" cy="222.9" rx="11.7" ry="9.7" fill="url(#i1ll)"/><ellipse cx="726.8" cy="242.4" rx="13.6" ry="8.3" fill="url(#i1ld)"/><ellipse cx="726.8" cy="261.9" rx="11.7" ry="9.7" fill="url(#i1ll)"/><ellipse cx="726.8" cy="281.4" rx="13.6" ry="8.3" fill="url(#i1ld)"/></g><g clip-path="url(#i1up)"><rect x="608.74" y="173.79" width="107.86" height="107.67" fill="#0000d2"/><ellipse cx="608.7" cy="164.4" rx="11.7" ry="9.7" fill="url(#i1ul)"/><ellipse cx="608.7" cy="183.9" rx="13.6" ry="8.3" fill="url(#i1ud)"/><ellipse cx="608.7" cy="203.4" rx="11.7" ry="9.7" fill="url(#i1ul)"/><ellipse cx="608.7" cy="222.9" rx="13.6" ry="8.3" fill="url(#i1ud)"/><ellipse cx="608.7" cy="242.4" rx="11.7" ry="9.7" fill="url(#i1ul)"/><ellipse cx="608.7" cy="261.9" rx="13.6" ry="8.3" fill="url(#i1ud)"/><ellipse cx="608.7" cy="281.4" rx="11.7" ry="9.7" fill="url(#i1ul)"/><ellipse cx="628.4" cy="164.4" rx="13.6" ry="8.3" fill="url(#i1ud)"/><ellipse cx="628.4" cy="183.9" rx="11.7" ry="9.7" fill="url(#i1ul)"/><ellipse cx="628.4" cy="203.4" rx="13.6" ry="8.3" fill="url(#i1ud)"/><ellipse cx="628.4" cy="222.9" rx="11.7" ry="9.7" fill="url(#i1ul)"/><ellipse cx="628.4" cy="242.4" rx="13.6" ry="8.3" fill="url(#i1ud)"/><ellipse cx="628.4" cy="261.9" rx="11.7" ry="9.7" fill="url(#i1ul)"/><ellipse cx="628.4" cy="281.4" rx="13.6" ry="8.3" fill="url(#i1ud)"/><ellipse cx="648.1" cy="164.4" rx="11.7" ry="9.7" fill="url(#i1ul)"/><ellipse cx="648.1" cy="183.9" rx="13.6" ry="8.3" fill="url(#i1ud)"/><ellipse cx="648.1" cy="203.4" rx="11.7" ry="9.7" fill="url(#i1ul)"/><ellipse cx="648.1" cy="222.9" rx="13.6" ry="8.3" fill="url(#i1ud)"/><ellipse cx="648.1" cy="242.4" rx="11.7" ry="9.7" fill="url(#i1ul)"/><ellipse cx="648.1" cy="261.9" rx="13.6" ry="8.3" fill="url(#i1ud)"/><ellipse cx="648.1" cy="281.4" rx="11.7" ry="9.7" fill="url(#i1ul)"/><ellipse cx="667.8" cy="164.4" rx="13.6" ry="8.3" fill="url(#i1ud)"/><ellipse cx="667.8" cy="183.9" rx="11.7" ry="9.7" fill="url(#i1ul)"/><ellipse cx="667.8" cy="203.4" rx="13.6" ry="8.3" fill="url(#i1ud)"/><ellipse cx="667.8" cy="222.9" rx="11.7" ry="9.7" fill="url(#i1ul)"/><ellipse cx="667.8" cy="242.4" rx="13.6" ry="8.3" fill="url(#i1ud)"/><ellipse cx="667.8" cy="261.9" rx="11.7" ry="9.7" fill="url(#i1ul)"/><ellipse cx="667.8" cy="281.4" rx="13.6" ry="8.3" fill="url(#i1ud)"/><ellipse cx="687.5" cy="164.4" rx="11.7" ry="9.7" fill="url(#i1ul)"/><ellipse cx="687.5" cy="183.9" rx="13.6" ry="8.3" fill="url(#i1ud)"/><ellipse cx="687.5" cy="203.4" rx="11.7" ry="9.7" fill="url(#i1ul)"/><ellipse cx="687.5" cy="222.9" rx="13.6" ry="8.3" fill="url(#i1ud)"/><ellipse cx="687.5" cy="242.4" rx="11.7" ry="9.7" fill="url(#i1ul)"/><ellipse cx="687.5" cy="261.9" rx="13.6" ry="8.3" fill="url(#i1ud)"/><ellipse cx="687.5" cy="281.4" rx="11.7" ry="9.7" fill="url(#i1ul)"/><ellipse cx="707.2" cy="164.4" rx="13.6" ry="8.3" fill="url(#i1ud)"/><ellipse cx="707.2" cy="183.9" rx="11.7" ry="9.7" fill="url(#i1ul)"/><ellipse cx="707.2" cy="203.4" rx="13.6" ry="8.3" fill="url(#i1ud)"/><ellipse cx="707.2" cy="222.9" rx="11.7" ry="9.7" fill="url(#i1ul)"/><ellipse cx="707.2" cy="242.4" rx="13.6" ry="8.3" fill="url(#i1ud)"/><ellipse cx="707.2" cy="261.9" rx="11.7" ry="9.7" fill="url(#i1ul)"/><ellipse cx="707.2" cy="281.4" rx="13.6" ry="8.3" fill="url(#i1ud)"/><ellipse cx="726.8" cy="164.4" rx="11.7" ry="9.7" fill="url(#i1ul)"/><ellipse cx="726.8" cy="183.9" rx="13.6" ry="8.3" fill="url(#i1ud)"/><ellipse cx="726.8" cy="203.4" rx="11.7" ry="9.7" fill="url(#i1ul)"/><ellipse cx="726.8" cy="222.9" rx="13.6" ry="8.3" fill="url(#i1ud)"/><ellipse cx="726.8" cy="242.4" rx="11.7" ry="9.7" fill="url(#i1ul)"/><ellipse cx="726.8" cy="261.9" rx="13.6" ry="8.3" fill="url(#i1ud)"/><ellipse cx="726.8" cy="281.4" rx="11.7" ry="9.7" fill="url(#i1ul)"/></g><line x1="609.57" y1="173.79" x2="716.60" y2="280.63" stroke="#88d078" stroke-width="1.0"/></g>
<g id="text_60">
<!-- $B_{opt}$ -->
<g style="fill: #1c1c1c" transform="translate(651.449903 167.786408)">
<text>
<tspan x="0" y="-0.25" style="font-style: oblique; font-size: 12px; font-family: 'DejaVu Sans'; fill: #1c1c1c">B</tspan>
<tspan x="8.232422" y="1.71875" style="font-style: oblique; font-size: 8.4px; font-family: 'DejaVu Sans'; fill: #1c1c1c">o</tspan>
<tspan x="13.37168" y="1.71875" style="font-style: oblique; font-size: 8.4px; font-family: 'DejaVu Sans'; fill: #1c1c1c">p</tspan>
<tspan x="18.703711" y="1.71875" style="font-style: oblique; font-size: 8.4px; font-family: 'DejaVu Sans'; fill: #1c1c1c">t</tspan>
</text>
</g>
</g>
</g>
<g id="axes_10">
<g id="patch_37">
<path d="M 729.029126 281.262136
L 734.563107 281.262136
L 734.563107 174.174757
L 729.029126 174.174757
z
" style="fill: #ffffff"/>
</g>
<g id="matplotlib.axis_15"/>
<g id="matplotlib.axis_16">
<g id="ytick_59">
<g id="line2d_140"/>
<g id="text_61">
<text style="font-size: 10px; font-family: 'Liberation Sans', 'DejaVu Sans', sans-serif; text-anchor: start; fill: #1c1c1c" x="738.063107" y="278.186544" transform="rotate(-0 738.063107 278.186544)">0.000</text>
</g>
</g>
<g id="ytick_60">
<g id="line2d_141"/>
<g id="text_62">
<text style="font-size: 10px; font-family: 'Liberation Sans', 'DejaVu Sans', sans-serif; text-anchor: start; fill: #1c1c1c" x="738.063107" y="240.953535" transform="rotate(-0 738.063107 240.953535)">0.002</text>
</g>
</g>
<g id="ytick_61">
<g id="line2d_142"/>
<g id="text_63">
<text style="font-size: 10px; font-family: 'Liberation Sans', 'DejaVu Sans', sans-serif; text-anchor: start; fill: #1c1c1c" x="738.063107" y="203.720525" transform="rotate(-0 738.063107 203.720525)">0.004</text>
</g>
</g>
</g>
<g id="CB1"><rect x="729.03" y="174.17" width="5.53" height="107.09" fill="url(#cbg1)"/><rect x="729.43" y="172.72" width="5.53" height="0.9" fill="#b02020" fill-opacity="0.55"/></g>
<g id="patch_38">
<path d="M 729.029126 281.262136
L 729.029126 174.174757
" style="fill: none; stroke: #cccccc; stroke-linejoin: miter; stroke-linecap: square"/>
</g>
<g id="patch_39">
<path d="M 734.563107 281.262136
L 734.563107 174.174757
" style="fill: none; stroke: #cccccc; stroke-linejoin: miter; stroke-linecap: square"/>
</g>
<g id="patch_40">
<path d="M 729.029126 281.262136
L 734.563107 281.262136
" style="fill: none; stroke: #cccccc; stroke-linejoin: miter; stroke-linecap: square"/>
</g>
<g id="patch_41">
<path d="M 729.029126 174.174757
L 734.563107 174.174757
" style="fill: none; stroke: #cccccc; stroke-linejoin: miter; stroke-linecap: square"/>
</g>
</g>
<g id="axes_11">
<g id="patch_42">
<path d="M 22.912621 440.38835
L 266.31068 440.38835
L 266.31068 335.436893
L 22.912621 335.436893
z
" style="fill: #ffffff"/>
</g>
<g id="matplotlib.axis_17">
<g id="xtick_21">
<g id="line2d_143">
<path d="M 33.106796 440.38835
L 33.106796 335.436893
" clip-path="url(#p53a2cfff29)" style="fill: none; stroke: #cccccc; stroke-width: 0.8; stroke-linecap: round"/>
</g>
<g id="line2d_144"/>
<g id="text_64">
<text style="font-size: 10px; font-family: 'Liberation Sans', 'DejaVu Sans', sans-serif; text-anchor: middle; fill: #1c1c1c" x="33.106796" y="451.135225" transform="rotate(-0 33.106796 451.135225)">0.0</text>
</g>
</g>
<g id="xtick_22">
<g id="line2d_145">
<path d="M 77.708738 440.38835
L 77.708738 335.436893
" clip-path="url(#p53a2cfff29)" style="fill: none; stroke: #cccccc; stroke-width: 0.8; stroke-linecap: round"/>
</g>
<g id="line2d_146"/>
<g id="text_65">
<text style="font-size: 10px; font-family: 'Liberation Sans', 'DejaVu Sans', sans-serif; text-anchor: middle; fill: #1c1c1c" x="77.708738" y="451.135225" transform="rotate(-0 77.708738 451.135225)">0.2</text>
</g>
</g>
<g id="xtick_23">
<g id="line2d_147">
<path d="M 122.31068 440.38835
L 122.31068 335.436893
" clip-path="url(#p53a2cfff29)" style="fill: none; stroke: #cccccc; stroke-width: 0.8; stroke-linecap: round"/>
</g>
<g id="line2d_148"/>
<g id="text_66">
<text style="font-size: 10px; font-family: 'Liberation Sans', 'DejaVu Sans', sans-serif; text-anchor: middle; fill: #1c1c1c" x="122.31068" y="451.135225" transform="rotate(-0 122.31068 451.135225)">0.4</text>
</g>
</g>
<g id="xtick_24">
<g id="line2d_149">
<path d="M 166.912621 440.38835
L 166.912621 335.436893
" clip-path="url(#p53a2cfff29)" style="fill: none; stroke: #cccccc; stroke-width: 0.8; stroke-linecap: round"/>
</g>
<g id="line2d_150"/>
<g id="text_67">
<text style="font-size: 10px; font-family: 'Liberation Sans', 'DejaVu Sans', sans-serif; text-anchor: middle; fill: #1c1c1c" x="166.912621" y="451.135225" transform="rotate(-0 166.912621 451.135225)">0.6</text>
</g>
</g>
<g id="xtick_25">
<g id="line2d_151">
<path d="M 211.514563 440.38835
L 211.514563 335.436893
" clip-path="url(#p53a2cfff29)" style="fill: none; stroke: #cccccc; stroke-width: 0.8; stroke-linecap: round"/>
</g>
<g id="line2d_152"/>
<g id="text_68">
<text style="font-size: 10px; font-family: 'Liberation Sans', 'DejaVu Sans', sans-serif; text-anchor: middle; fill: #1c1c1c" x="211.514563" y="451.135225" transform="rotate(-0 211.514563 451.135225)">0.8</text>
</g>
</g>
<g id="xtick_26">
<g id="line2d_153">
<path d="M 256.116505 440.38835
L 256.116505 335.436893
" clip-path="url(#p53a2cfff29)" style="fill: none; stroke: #cccccc; stroke-width: 0.8; stroke-linecap: round"/>
</g>
<g id="line2d_154"/>
<g id="text_69">
<text style="font-size: 10px; font-family: 'Liberation Sans', 'DejaVu Sans', sans-serif; text-anchor: middle; fill: #1c1c1c" x="256.116505" y="451.135225" transform="rotate(-0 256.116505 451.135225)">1.0</text>
</g>
</g>
</g>
<g id="matplotlib.axis_18">
<g id="ytick_62">
<g id="line2d_155">
<path d="M 22.912621 435.145631
L 266.31068 435.145631
" clip-path="url(#p53a2cfff29)" style="fill: none; stroke: #cccccc; stroke-width: 0.8; stroke-linecap: round"/>
</g>
<g id="line2d_156"/>
<g id="text_70">
<text style="font-size: 10px; font-family: 'Liberation Sans', 'DejaVu Sans', sans-serif; text-anchor: end; fill: #1c1c1c" x="19.412621" y="438.769069" transform="rotate(-0 19.412621 438.769069)">−0.4</text>
</g>
</g>
<g id="ytick_63">
<g id="line2d_157">
<path d="M 22.912621 413.859223
L 266.31068 413.859223
" clip-path="url(#p53a2cfff29)" style="fill: none; stroke: #cccccc; stroke-width: 0.8; stroke-linecap: round"/>
</g>
<g id="line2d_158"/>
<g id="text_71">
<text style="font-size: 10px; font-family: 'Liberation Sans', 'DejaVu Sans', sans-serif; text-anchor: end; fill: #1c1c1c" x="19.412621" y="417.482661" transform="rotate(-0 19.412621 417.482661)">−0.2</text>
</g>
</g>
<g id="ytick_64">
<g id="line2d_159">
<path d="M 22.912621 392.572816
L 266.31068 392.572816
" clip-path="url(#p53a2cfff29)" style="fill: none; stroke: #cccccc; stroke-width: 0.8; stroke-linecap: round"/>
</g>
<g id="line2d_160"/>
<g id="text_72">
<text style="font-size: 10px; font-family: 'Liberation Sans', 'DejaVu Sans', sans-serif; text-anchor: end; fill: #1c1c1c" x="19.412621" y="396.196253" transform="rotate(-0 19.412621 396.196253)">0.0</text>
</g>
</g>
<g id="ytick_65">
<g id="line2d_161">
<path d="M 22.912621 371.286408
L 266.31068 371.286408
" clip-path="url(#p53a2cfff29)" style="fill: none; stroke: #cccccc; stroke-width: 0.8; stroke-linecap: round"/>
</g>
<g id="line2d_162"/>
<g id="text_73">
<text style="font-size: 10px; font-family: 'Liberation Sans', 'DejaVu Sans', sans-serif; text-anchor: end; fill: #1c1c1c" x="19.412621" y="374.909845" transform="rotate(-0 19.412621 374.909845)">0.2</text>
</g>
</g>
<g id="ytick_66">
<g id="line2d_163">
<path d="M 22.912621 350
L 266.31068 350
" clip-path="url(#p53a2cfff29)" style="fill: none; stroke: #cccccc; stroke-width: 0.8; stroke-linecap: round"/>
</g>
<g id="line2d_164"/>
<g id="text_74">
<text style="font-size: 10px; font-family: 'Liberation Sans', 'DejaVu Sans', sans-serif; text-anchor: end; fill: #1c1c1c" x="19.412621" y="353.623438" transform="rotate(-0 19.412621 353.623438)">0.4</text>
</g>
</g>
</g>
<g id="line2d_165">
<path d="M 33.106796 370.582524
L 35.342482 375.846008
L 37.578169 381.743049
L 39.254933 386.627035
L 42.608463 397.468257
L 44.285228 402.471314
L 45.403071 405.578532
L 45.961992 406.728815
L 46.520914 407.460636
L 47.079836 407.666829
L 47.638757 407.515057
L 48.197679 407.155109
L 49.315522 405.923911
L 50.433365 404.199684
L 50.992287 403.22345
L 51.551208 402.00623
L 52.11013 400.081445
L 54.904738 388.145369
L 57.140424 380.181347
L 57.699345 378.727342
L 58.258267 377.749646
L 58.817189 377.379015
L 59.935032 377.590019
L 61.052875 378.182058
L 62.170718 379.069764
L 62.72964 379.995114
L 63.288561 381.801574
L 64.406404 386.953372
L 65.524248 392.282218
L 70.554542 412.784423
L 72.231306 421.402478
L 72.790228 423.604698
L 73.34915 425.041911
L 74.466993 426.962076
L 75.025914 427.645962
L 75.584836 428.018004
L 76.143757 427.94418
L 76.702679 427.266285
L 77.261601 426.133488
L 78.379444 423.219861
L 78.938365 421.373549
L 80.056208 416.165528
L 81.732973 406.39794
L 82.850816 398.664709
L 86.204346 372.800721
L 87.881111 362.139511
L 88.998954 356.683892
L 90.116797 353.523718
L 91.23464 351.029875
L 91.793562 350.133786
L 92.352483 349.573254
L 92.911405 349.424558
L 93.470326 349.729157
L 94.029248 350.4241
L 95.147091 352.658048
L 96.264934 355.476481
L 96.823856 357.428528
L 97.941699 363.113849
L 99.618464 372.361935
L 102.413072 385.332501
L 103.530915 389.757645
L 106.325523 399.287887
L 106.884444 400.6877
L 107.443366 401.643738
L 108.002287 402.03536
L 108.561209 401.872887
L 109.12013 401.354557
L 110.237974 399.622677
L 111.914738 396.668886
L 115.268268 392.367894
L 116.386111 391.352971
L 116.945032 391.066461
L 117.503954 390.971364
L 118.062876 391.172668
L 118.621797 391.699727
L 119.180719 392.495481
L 120.298562 394.664828
L 121.975327 398.613512
L 123.09317 402.700288
L 125.887778 414.646004
L 129.241307 425.763125
L 129.800229 427.032895
L 130.35915 427.915774
L 130.918072 428.329128
L 131.476993 428.283217
L 132.035915 427.993066
L 132.594837 427.499457
L 133.71268 426.020481
L 134.830523 424.083517
L 135.389444 422.99233
L 135.948366 421.374497
L 136.507288 419.161271
L 137.625131 413.505566
L 140.419739 397.553836
L 143.214347 379.142404
L 143.773268 376.460816
L 144.33219 374.522881
L 145.450033 372.286849
L 146.567876 370.488197
L 147.126798 369.799553
L 147.685719 369.292142
L 148.244641 368.996552
L 148.803562 368.947762
L 149.362484 369.225439
L 149.921405 369.806568
L 151.039249 371.653874
L 152.716013 375.292539
L 153.274935 376.626198
L 154.392778 380.386329
L 156.628464 389.203599
L 158.864151 396.202484
L 159.423072 397.668141
L 159.981994 398.700998
L 160.540915 399.124009
L 161.099837 398.943707
L 161.658759 398.374176
L 162.21768 397.477697
L 163.335523 394.94914
L 165.012288 390.146616
L 165.57121 387.790913
L 166.689053 381.47209
L 168.924739 367.710815
L 171.719347 354.077305
L 172.278268 352.304398
L 173.955033 348.708546
L 174.513955 347.799893
L 175.072876 347.147505
L 175.631798 346.820731
L 176.19072 346.877052
L 176.749641 347.288641
L 177.308563 347.999291
L 178.426406 350.096281
L 179.544249 352.910867
L 180.103171 355.404685
L 181.221014 362.467599
L 189.604837 421.974662
L 190.163759 424.515343
L 191.840524 429.615635
L 192.958367 432.373064
L 194.07621 434.305543
L 194.635132 434.875111
L 195.194053 435.133662
L 195.752975 435.015928
L 196.311896 434.468299
L 196.870818 433.566307
L 197.988661 431.021697
L 200.224347 424.794439
L 201.34219 420.167719
L 202.460034 415.351548
L 203.018955 413.350217
L 203.577877 411.874882
L 204.69572 410.343586
L 205.813563 409.149654
L 206.931406 408.312293
L 207.490328 408.068732
L 208.049249 407.964002
L 209.167092 408.108143
L 210.284936 408.542919
L 211.9617 409.48701
L 212.520622 409.841197
L 213.079544 410.404233
L 214.756308 412.550722
L 215.31523 412.994842
L 215.874151 413.088248
L 216.433073 412.698432
L 216.991995 411.871447
L 218.109838 409.268878
L 219.227681 405.988338
L 219.786602 403.633156
L 220.904446 396.848658
L 222.58121 385.580682
L 226.493661 361.966248
L 229.288269 347.872078
L 229.847191 345.977185
L 230.965034 343.680922
L 232.082877 341.921707
L 232.641799 341.31337
L 233.20072 340.952462
L 233.759642 340.88783
L 234.318563 341.126181
L 234.877485 341.626599
L 235.995328 343.243512
L 237.113171 345.42765
L 237.672093 347.403536
L 238.789936 353.715552
L 240.466701 364.204536
L 244.379152 384.563402
L 246.055916 393.296179
L 247.17376 398.629681
L 247.732681 400.472042
L 248.850524 402.395012
L 249.968368 403.778039
L 250.527289 404.24183
L 251.086211 404.509702
L 251.645132 404.511346
L 252.204054 403.821524
L 252.762975 402.512728
L 254.998662 395.774645
L 256.116505 393.203883
L 256.116505 393.203883
" clip-path="url(#p53a2cfff29)" style="fill: none; stroke-dasharray: 1.5,2.475; stroke-dashoffset: 0; stroke: #000000; stroke-width: 1.5"/>
</g>
<g id="line2d_166">
<path d="M 33.106796 383.681776
L 34.5985 384.292596
L 36.090204 385.225394
L 37.581907 386.46562
L 39.073611 387.968642
L 44.294574 393.699654
L 45.786278 394.826972
L 47.277982 395.513883
L 48.023833 395.684908
L 48.769685 395.734619
L 49.515537 395.651969
L 50.261389 395.42214
L 51.007241 395.030976
L 51.753093 394.470394
L 53.244797 392.864362
L 56.974056 387.824737
L 57.719908 387.186663
L 58.46576 386.843904
L 59.211612 386.835229
L 59.957463 387.167237
L 60.703315 387.815842
L 61.449167 388.734206
L 62.940871 391.145881
L 68.907686 402.004143
L 70.39939 404.093974
L 71.891093 405.796774
L 72.636945 406.465354
L 73.382797 406.977198
L 74.128649 407.300969
L 74.874501 407.406766
L 75.620353 407.270332
L 76.366205 406.87499
L 77.112056 406.211081
L 77.857908 405.27415
L 78.60376 404.063695
L 79.349612 402.583515
L 80.841316 398.86141
L 82.333019 394.293782
L 86.808131 379.519983
L 88.299834 375.694385
L 89.045686 374.14821
L 89.791538 372.867965
L 90.53739 371.865812
L 91.283242 371.152542
L 92.029094 370.736544
L 92.774946 370.620437
L 93.520797 370.79691
L 94.266649 371.246266
L 95.012501 371.937475
L 96.504205 373.893355
L 97.995909 376.380134
L 100.233464 380.682418
L 103.216872 386.608227
L 104.708576 389.137889
L 106.200279 391.081937
L 106.946131 391.800633
L 107.691983 392.354371
L 109.183687 393.056511
L 112.167094 393.971383
L 113.658798 394.81094
L 115.150502 396.007544
L 118.133909 398.592117
L 120.371465 400.445527
L 121.863168 402.064013
L 123.354872 404.115653
L 125.592428 407.277725
L 127.084132 408.843556
L 127.829983 409.397625
L 128.575835 409.8021
L 129.321687 410.061642
L 130.067539 410.175895
L 130.813391 410.13822
L 131.559243 409.937286
L 132.305095 409.559464
L 133.050947 408.990546
L 133.796798 408.216669
L 134.54265 407.225706
L 135.288502 406.010635
L 136.780206 402.940407
L 141.255317 392.148641
L 142.747021 389.410529
L 144.238725 387.131479
L 145.730428 385.152032
L 147.222132 383.551311
L 147.967984 382.958182
L 148.713836 382.525085
L 149.459688 382.250922
L 150.20554 382.124778
L 150.951391 382.133613
L 151.697243 382.268132
L 152.443095 382.523913
L 153.934799 383.384652
L 155.426503 384.628049
L 157.664058 386.655057
L 158.40991 387.181324
L 159.155762 387.548704
L 159.901614 387.719662
L 160.647466 387.67233
L 161.393318 387.400332
L 162.139169 386.908095
L 162.885021 386.20395
L 163.630873 385.294611
L 165.122577 382.881575
L 166.614281 379.809824
L 168.851836 375.093901
L 169.597688 373.846777
L 170.34354 372.857994
L 171.089392 372.131398
L 171.835244 371.642663
L 172.581096 371.355809
L 173.326947 371.238867
L 174.072799 371.273006
L 174.818651 371.453425
L 175.564503 371.784047
L 176.310355 372.269925
L 177.056207 372.911166
L 178.547911 374.628155
L 180.039614 376.867191
L 181.531318 379.699053
L 183.023022 383.438835
L 184.514725 388.421373
L 188.989837 405.588709
L 189.735689 407.529137
L 190.48154 409.118
L 191.973244 411.514322
L 193.464948 413.228558
L 194.2108 413.8671
L 194.956652 414.337436
L 195.702503 414.619616
L 196.448355 414.708541
L 197.194207 414.621869
L 198.685911 414.092484
L 204.652726 411.298053
L 206.14443 410.134739
L 208.381985 408.270684
L 209.873689 407.277302
L 213.602948 405.181675
L 214.3488 404.509822
L 215.094652 403.644654
L 215.840504 402.556196
L 216.586356 401.233131
L 218.07806 397.930843
L 219.569763 393.947076
L 221.807319 387.253282
L 225.536578 375.940929
L 227.028282 372.05873
L 228.519986 369.009346
L 229.265838 367.846013
L 230.011689 366.905036
L 231.503393 365.52989
L 232.995097 364.596
L 233.740949 364.288392
L 234.486801 364.14059
L 235.232653 364.21461
L 235.978504 364.569119
L 236.724356 365.242205
L 237.470208 366.24137
L 238.21606 367.543521
L 239.707764 370.863997
L 241.945319 376.79827
L 244.182875 382.69186
L 245.674579 386.031437
L 247.166282 388.668432
L 248.657986 390.611614
L 250.14969 391.954197
L 251.641394 392.785744
L 253.133097 393.214305
L 254.624801 393.386047
L 256.116505 393.436986
L 256.116505 393.436986
" clip-path="url(#p53a2cfff29)" style="fill: none; stroke-dasharray: 5.55,2.4; stroke-dashoffset: 0; stroke: #ff7f0e; stroke-opacity: 0.7; stroke-width: 1.5"/>
</g>
<g id="line2d_167">
<path d="M 33.106796 381.650485
L 34.5985 382.499704
L 36.090204 383.667304
L 37.581907 385.057513
L 39.073611 386.908774
L 44.294574 394.492063
L 45.040426 395.372602
L 45.786278 395.970548
L 47.277982 396.452078
L 48.769685 396.763522
L 50.261389 396.892343
L 51.007241 396.662452
L 51.753093 395.891548
L 53.990648 392.400064
L 54.7365 390.940571
L 56.974056 385.632792
L 57.719908 384.281766
L 58.46576 383.503856
L 59.211612 383.502695
L 59.957463 384.249559
L 60.703315 385.541442
L 63.686723 392.233054
L 67.415982 401.237198
L 69.653538 405.237713
L 71.145241 407.440317
L 73.382797 410.334459
L 74.128649 411.043558
L 74.874501 411.356167
L 75.620353 411.174678
L 76.366205 410.598314
L 77.112056 409.735298
L 78.60376 407.534204
L 79.349612 405.818173
L 80.841316 401.010252
L 82.333019 395.517772
L 83.824723 388.727519
L 85.316427 381.865637
L 86.808131 376.319957
L 88.299834 371.461931
L 89.045686 369.622715
L 90.53739 367.151326
L 91.283242 366.144542
L 92.029094 365.432877
L 92.774946 365.14646
L 93.520797 365.470853
L 94.266649 366.376501
L 96.504205 370.308364
L 97.995909 373.331155
L 100.979316 380.322183
L 103.962724 388.003403
L 105.454427 390.651794
L 106.200279 391.859955
L 106.946131 392.84212
L 107.691983 393.417029
L 109.183687 393.495146
L 112.167094 393.495146
L 112.912946 393.663181
L 113.658798 394.291265
L 114.40465 395.247861
L 116.642205 398.630333
L 117.388057 399.442587
L 118.879761 400.370608
L 120.371465 401.106106
L 121.117317 401.589366
L 121.863168 402.279063
L 122.60902 403.644574
L 125.592428 410.993748
L 127.084132 412.256133
L 128.575835 413.189243
L 130.067539 413.762364
L 130.813391 413.875352
L 131.559243 413.798924
L 132.305095 413.381569
L 133.050947 412.682195
L 134.54265 410.73709
L 135.288502 409.639595
L 136.034354 408.102571
L 136.780206 405.929834
L 138.27191 400.480823
L 139.763613 394.899769
L 140.509465 392.561978
L 141.255317 390.790546
L 142.747021 388.311289
L 144.984576 385.220131
L 145.730428 383.991623
L 147.222132 380.496584
L 147.967984 380
L 152.443095 380.066814
L 153.188947 380.494857
L 153.934799 381.219982
L 156.918206 384.988279
L 158.40991 387.390262
L 159.155762 388.22729
L 159.901614 388.435964
L 160.647466 388.20518
L 161.393318 387.703199
L 162.139169 386.970086
L 163.630873 384.970712
L 165.122577 382.527567
L 165.868429 381.167047
L 166.614281 378.872033
L 168.851836 369.985636
L 169.597688 368.310065
L 170.34354 367.91586
L 172.581096 367.382678
L 174.072799 367.21213
L 174.818651 367.185103
L 175.564503 367.340497
L 176.310355 367.902957
L 177.056207 368.792577
L 178.547911 371.205095
L 181.531318 376.642035
L 183.023022 380.10348
L 183.768874 382.227558
L 184.514725 384.721472
L 185.260577 388.717195
L 187.498133 405.005481
L 188.243985 408.796797
L 188.989837 410.667492
L 189.735689 411.950582
L 191.227392 413.86433
L 192.719096 415.90126
L 194.2108 418.23653
L 194.956652 419.177258
L 195.702503 419.771478
L 196.448355 419.861756
L 197.194207 419.287414
L 198.685911 417.294754
L 199.431763 416.588621
L 200.923467 416.184226
L 203.161022 415.832643
L 203.906874 415.622841
L 204.652726 415.133898
L 205.398578 414.296868
L 208.381985 410.159693
L 209.127837 409.590746
L 210.619541 408.935105
L 213.602948 407.975868
L 214.3488 407.590903
L 215.094652 407.05963
L 215.840504 405.930072
L 216.586356 404.152098
L 218.07806 399.504072
L 221.061467 389.358614
L 224.044875 378.140041
L 225.536578 372.842953
L 227.028282 367.407638
L 227.774134 365.090485
L 228.519986 363.287523
L 229.265838 362.18414
L 230.011689 361.655493
L 232.995097 360.166049
L 235.232653 357.603624
L 235.978504 357.410035
L 236.724356 358.332096
L 237.470208 360.144982
L 240.453616 369.149188
L 244.928727 384.318535
L 245.674579 386.326101
L 246.420431 387.743044
L 248.657986 390.961712
L 250.14969 392.577329
L 250.895542 393.133979
L 251.641394 393.482252
L 253.133097 393.592233
L 256.116505 393.592233
L 256.116505 393.592233
" clip-path="url(#p53a2cfff29)" style="fill: none; stroke: #1f77b4; stroke-opacity: 0.7; stroke-width: 1.5; stroke-linecap: round"/>
</g>
<g id="patch_43">
<path d="M 22.912621 440.38835
L 22.912621 335.436893
" style="fill: none; stroke: #cccccc; stroke-linejoin: miter; stroke-linecap: square"/>
</g>
<g id="patch_44">
<path d="M 266.31068 440.38835
L 266.31068 335.436893
" style="fill: none; stroke: #cccccc; stroke-linejoin: miter; stroke-linecap: square"/>
</g>
<g id="patch_45">
<path d="M 22.912621 440.38835
L 266.31068 440.38835
" style="fill: none; stroke: #cccccc; stroke-linejoin: miter; stroke-linecap: square"/>
</g>
<g id="patch_46">
<path d="M 22.912621 335.436893
L 266.31068 335.436893
" style="fill: none; stroke: #cccccc; stroke-linejoin: miter; stroke-linecap: square"/>
</g>
<g id="text_75">
<!-- Reconstructions ($\alpha = 0.001$) -->
<g style="fill: #1c1c1c" transform="translate(67.39165 329.436893)">
<text>
<tspan x="0" y="-0.09375" style="font-size: 12px; font-family: 'Liberation Sans'; fill: #1c1c1c">R</tspan>
<tspan x="8.666016" y="-0.09375" style="font-size: 12px; font-family: 'Liberation Sans'; fill: #1c1c1c">e</tspan>
<tspan x="15.339844" y="-0.09375" style="font-size: 12px; font-family: 'Liberation Sans'; fill: #1c1c1c">c</tspan>
<tspan x="21.339844" y="-0.09375" style="font-size: 12px; font-family: 'Liberation Sans'; fill: #1c1c1c">o</tspan>
<tspan x="28.013672" y="-0.09375" style="font-size: 12px; font-family: 'Liberation Sans'; fill: #1c1c1c">n</tspan>
<tspan x="34.6875" y="-0.09375" style="font-size: 12px; font-family: 'Liberation Sans'; fill: #1c1c1c">s</tspan>
<tspan x="40.6875" y="-0.09375" style="font-size: 12px; font-family: 'Liberation Sans'; fill: #1c1c1c">t</tspan>
<tspan x="44.021484" y="-0.09375" style="font-size: 12px; font-family: 'Liberation Sans'; fill: #1c1c1c">r</tspan>
<tspan x="48.017578" y="-0.09375" style="font-size: 12px; font-family: 'Liberation Sans'; fill: #1c1c1c">u</tspan>
<tspan x="54.691406" y="-0.09375" style="font-size: 12px; font-family: 'Liberation Sans'; fill: #1c1c1c">c</tspan>
<tspan x="60.691406" y="-0.09375" style="font-size: 12px; font-family: 'Liberation Sans'; fill: #1c1c1c">t</tspan>
<tspan x="64.025391" y="-0.09375" style="font-size: 12px; font-family: 'Liberation Sans'; fill: #1c1c1c">i</tspan>
<tspan x="66.691406" y="-0.09375" style="font-size: 12px; font-family: 'Liberation Sans'; fill: #1c1c1c">o</tspan>
<tspan x="73.365234" y="-0.09375" style="font-size: 12px; font-family: 'Liberation Sans'; fill: #1c1c1c">n</tspan>
<tspan x="80.039062" y="-0.09375" style="font-size: 12px; font-family: 'Liberation Sans'; fill: #1c1c1c">s</tspan>
<tspan x="86.039062" y="-0.09375" style="font-size: 12px; font-family: 'Liberation Sans'; fill: #1c1c1c"> </tspan>
<tspan x="89.373047" y="-0.09375" style="font-size: 12px; font-family: 'Liberation Sans'; fill: #1c1c1c">(</tspan>
<tspan x="150.363281" y="-0.09375" style="font-size: 12px; font-family: 'Liberation Sans'; fill: #1c1c1c">)</tspan>
<tspan x="93.369141" y="-0.09375" style="font-style: oblique; font-size: 12px; font-family: 'DejaVu Sans'; fill: #1c1c1c">α</tspan>
<tspan x="103.617188" y="-0.09375" style="font-size: 12px; font-family: 'DejaVu Sans'; fill: #1c1c1c">=</tspan>
<tspan x="116.009766" y="-0.09375" style="font-size: 12px; font-family: 'DejaVu Sans'; fill: #1c1c1c">0</tspan>
<tspan x="123.644531" y="-0.09375" style="font-size: 12px; font-family: 'DejaVu Sans'; fill: #1c1c1c">.</tspan>
<tspan x="127.458984" y="-0.09375" style="font-size: 12px; font-family: 'DejaVu Sans'; fill: #1c1c1c">0</tspan>
<tspan x="135.09375" y="-0.09375" style="font-size: 12px; font-family: 'DejaVu Sans'; fill: #1c1c1c">0</tspan>
<tspan x="142.728516" y="-0.09375" style="font-size: 12px; font-family: 'DejaVu Sans'; fill: #1c1c1c">1</tspan>
</text>
</g>
</g>
<g id="legend_3">
<g id="line2d_168">
<path d="M 275.31068 370.938
L 285.31068 370.938
L 295.31068 370.938
" style="fill: none; stroke-dasharray: 1.5,2.475; stroke-dashoffset: 0; stroke: #000000; stroke-width: 1.5"/>
</g>
<g id="text_76">
<!-- $x^\dagger$ -->
<g style="fill: #1c1c1c" transform="translate(303.31068 374.438)">
<text>
<tspan x="0" y="-0.064063" style="font-style: oblique; font-size: 10px; font-family: 'DejaVu Sans'; fill: #1c1c1c">x</tspan>
<tspan x="7.728353" y="-3.892188" style="font-size: 7px; font-family: 'DejaVu Sans'; fill: #1c1c1c">†</tspan>
</text>
</g>
</g>
<g id="line2d_169">
<path d="M 275.31068 386.309496
L 285.31068 386.309496
L 295.31068 386.309496
" style="fill: none; stroke-dasharray: 5.55,2.4; stroke-dashoffset: 0; stroke: #ff7f0e; stroke-opacity: 0.7; stroke-width: 1.5"/>
</g>
<g id="text_77">
<!-- $x(A)$ -->
<g style="fill: #1c1c1c" transform="translate(303.31068 389.809496)">
<text>
<tspan x="0" y="-0.40625" style="font-style: oblique; font-size: 10px; font-family: 'DejaVu Sans'; fill: #1c1c1c">x</tspan>
<tspan x="9.819336" y="-0.40625" style="font-style: oblique; font-size: 10px; font-family: 'DejaVu Sans'; fill: #1c1c1c">A</tspan>
<tspan x="5.917969" y="-0.40625" style="font-size: 10px; font-family: 'DejaVu Sans'; fill: #1c1c1c">(</tspan>
<tspan x="16.660156" y="-0.40625" style="font-size: 10px; font-family: 'DejaVu Sans'; fill: #1c1c1c">)</tspan>
</text>
</g>
</g>
<g id="line2d_170">
<path d="M 275.31068 400.984496
L 285.31068 400.984496
L 295.31068 400.984496
" style="fill: none; stroke: #1f77b4; stroke-opacity: 0.7; stroke-width: 1.5; stroke-linecap: round"/>
</g>
<g id="text_78">
<!-- $x(B_{opt})$ -->
<g style="fill: #1c1c1c" transform="translate(303.31068 404.484496)">
<text>
<tspan x="0" y="-0.40625" style="font-style: oblique; font-size: 10px; font-family: 'DejaVu Sans'; fill: #1c1c1c">x</tspan>
<tspan x="9.819336" y="-0.40625" style="font-style: oblique; font-size: 10px; font-family: 'DejaVu Sans'; fill: #1c1c1c">B</tspan>
<tspan x="5.917969" y="-0.40625" style="font-size: 10px; font-family: 'DejaVu Sans'; fill: #1c1c1c">(</tspan>
<tspan x="28.423828" y="-0.40625" style="font-size: 10px; font-family: 'DejaVu Sans'; fill: #1c1c1c">)</tspan>
<tspan x="16.679688" y="1.234375" style="font-style: oblique; font-size: 7px; font-family: 'DejaVu Sans'; fill: #1c1c1c">o</tspan>
<tspan x="20.962402" y="1.234375" style="font-style: oblique; font-size: 7px; font-family: 'DejaVu Sans'; fill: #1c1c1c">p</tspan>
<tspan x="25.405762" y="1.234375" style="font-style: oblique; font-size: 7px; font-family: 'DejaVu Sans'; fill: #1c1c1c">t</tspan>
</text>
</g>
</g>
</g>
</g>
<g id="axes_12">
<g id="patch_47">
<path d="M 389.708738 440.485437
L 477.572816 440.485437
L 477.572816 336.407767
L 389.708738 336.407767
z
" style="fill: #ffffff"/>
</g>
<g id="matplotlib.axis_19">
<g id="xtick_27">
<g id="line2d_171">
<path d="M 393.300971 440.485437
L 393.300971 336.407767
" clip-path="url(#p7b41f3cb1e)" style="fill: none; stroke: #cccccc; stroke-width: 0.8; stroke-linecap: round"/>
</g>
<g id="line2d_172"/>
<g id="text_79">
<text style="font-size: 10px; font-family: 'Liberation Sans', 'DejaVu Sans', sans-serif; text-anchor: middle; fill: #1c1c1c" x="393.300971" y="452.032312" transform="rotate(-0 393.300971 452.032312)">0</text>
</g>
</g>
<g id="xtick_28">
<g id="line2d_173">
<path d="M 474.368932 440.485437
L 474.368932 336.407767
" clip-path="url(#p7b41f3cb1e)" style="fill: none; stroke: #cccccc; stroke-width: 0.8; stroke-linecap: round"/>
</g>
<g id="line2d_174"/>
<g id="text_80">
<text style="font-size: 10px; font-family: 'Liberation Sans', 'DejaVu Sans', sans-serif; text-anchor: middle; fill: #1c1c1c" x="474.368932" y="452.032312" transform="rotate(-0 474.368932 452.032312)">2000</text>
</g>
</g>
</g>
<g id="matplotlib.axis_20">
<g id="ytick_67">
<g id="line2d_175">
<path d="M 389.708738 346.504854
L 477.572816 346.504854
" clip-path="url(#p7b41f3cb1e)" style="fill: none; stroke: #cccccc; stroke-width: 0.8; stroke-linecap: round"/>
</g>
<g id="line2d_176"/>
<g id="text_81">
<!-- $\mathdefault{10^{1}}$ -->
<g style="fill: #1c1c1c" transform="translate(370.808738 350.128292)">
<text>
<tspan x="0.000" y="1.649" style="font-size: 10px; font-family: 'Liberation Sans'; fill: #1c1c1c">1</tspan>
<tspan x="5.562" y="1.649" style="font-size: 10px; font-family: 'Liberation Sans'; fill: #1c1c1c">0</tspan>
<tspan x="10.415" y="-5.838" style="font-size: 7.7px; font-family: 'Liberation Sans'; fill: #1c1c1c">1</tspan>
</text>
</g>
</g>
</g>
<g id="ytick_68">
<g id="line2d_177"/>
<g id="text_82">
<!-- $\mathdefault{2\times10^{0}}$ -->
<g style="fill: #1c1c1c" transform="translate(355.608738 436.438971)">
<text>
<tspan x="0.000" y="1.726" style="font-size: 10px; font-family: 'Liberation Sans'; fill: #1c1c1c">2</tspan>
<tspan x="7.510" y="1.726" style="font-size: 10px; font-family: 'Liberation Sans'; fill: #1c1c1c">×</tspan>
<tspan x="15.298" y="1.726" style="font-size: 10px; font-family: 'Liberation Sans'; fill: #1c1c1c">1</tspan>
<tspan x="20.859" y="1.726" style="font-size: 10px; font-family: 'Liberation Sans'; fill: #1c1c1c">0</tspan>
<tspan x="25.713" y="-5.761" style="font-size: 7.7px; font-family: 'Liberation Sans'; fill: #1c1c1c">0</tspan>
</text>
</g>
</g>
</g>
<g id="ytick_69">
<g id="line2d_178"/>
<g id="text_83">
<!-- $\mathdefault{3\times10^{0}}$ -->
<g style="fill: #1c1c1c" transform="translate(355.608738 414.694753)">
<text>
<tspan x="0.000" y="1.726" style="font-size: 10px; font-family: 'Liberation Sans'; fill: #1c1c1c">3</tspan>
<tspan x="7.510" y="1.726" style="font-size: 10px; font-family: 'Liberation Sans'; fill: #1c1c1c">×</tspan>
<tspan x="15.298" y="1.726" style="font-size: 10px; font-family: 'Liberation Sans'; fill: #1c1c1c">1</tspan>
<tspan x="20.859" y="1.726" style="font-size: 10px; font-family: 'Liberation Sans'; fill: #1c1c1c">0</tspan>
<tspan x="25.713" y="-5.761" style="font-size: 7.7px; font-family: 'Liberation Sans'; fill: #1c1c1c">0</tspan>
</text>
</g>
</g>
</g>
<g id="ytick_70">
<g id="line2d_179"/>
<g id="text_84">
<!-- $\mathdefault{4\times10^{0}}$ -->
<g style="fill: #1c1c1c" transform="translate(355.608738 399.266985)">
<text>
<tspan x="0.000" y="1.726" style="font-size: 10px; font-family: 'Liberation Sans'; fill: #1c1c1c">4</tspan>
<tspan x="7.510" y="1.726" style="font-size: 10px; font-family: 'Liberation Sans'; fill: #1c1c1c">×</tspan>
<tspan x="15.298" y="1.726" style="font-size: 10px; font-family: 'Liberation Sans'; fill: #1c1c1c">1</tspan>
<tspan x="20.859" y="1.726" style="font-size: 10px; font-family: 'Liberation Sans'; fill: #1c1c1c">0</tspan>
<tspan x="25.713" y="-5.761" style="font-size: 7.7px; font-family: 'Liberation Sans'; fill: #1c1c1c">0</tspan>
</text>
</g>
</g>
</g>
<g id="ytick_71">
<g id="line2d_180"/>
</g>
<g id="ytick_72">
<g id="line2d_181"/>
<g id="text_85">
<!-- $\mathdefault{6\times10^{0}}$ -->
<g style="fill: #1c1c1c" transform="translate(355.608738 377.522767)">
<text>
<tspan x="0.000" y="1.726" style="font-size: 10px; font-family: 'Liberation Sans'; fill: #1c1c1c">6</tspan>
<tspan x="7.510" y="1.726" style="font-size: 10px; font-family: 'Liberation Sans'; fill: #1c1c1c">×</tspan>
<tspan x="15.298" y="1.726" style="font-size: 10px; font-family: 'Liberation Sans'; fill: #1c1c1c">1</tspan>
<tspan x="20.859" y="1.726" style="font-size: 10px; font-family: 'Liberation Sans'; fill: #1c1c1c">0</tspan>
<tspan x="25.713" y="-5.761" style="font-size: 7.7px; font-family: 'Liberation Sans'; fill: #1c1c1c">0</tspan>
</text>
</g>
</g>
</g>
<g id="ytick_73">
<g id="line2d_182"/>
</g>
<g id="ytick_74">
<g id="line2d_183"/>
</g>
<g id="ytick_75">
<g id="line2d_184"/>
</g>
</g>
<g id="line2d_185">
<path d="M 393.300971 340.485437
L 394.723216 397.853402
L 395.129572 407.287556
L 395.332749 408.542696
L 395.739105 409.490446
L 396.145461 409.999955
L 396.754994 410.351561
L 397.567706 410.61602
L 397.770884 410.786856
L 398.177239 411.850975
L 399.193128 416.242932
L 400.209018 421.475656
L 401.224907 426.359085
L 402.443974 431.38177
L 402.85033 432.414816
L 403.663041 433.603254
L 404.475752 434.371933
L 405.085286 434.641994
L 406.507531 435.011913
L 407.929776 435.149582
L 418.088668 435.281715
L 452.628902 435.595926
L 474.368932 435.825243
L 474.368932 435.825243
" clip-path="url(#p7b41f3cb1e)" style="fill: none; stroke: #1f77b4; stroke-width: 1.5; stroke-linecap: round"/>
</g>
<g id="line2d_186">
<path d="M 389.708738 418.349515
L 477.572816 418.349515
" clip-path="url(#p7b41f3cb1e)" style="fill: none; stroke-dasharray: 5.55,2.4; stroke-dashoffset: 0; stroke: #ff7f0e; stroke-width: 1.5"/>
</g>
<g id="patch_48">
<path d="M 389.708738 440.485437
L 389.708738 336.407767
" style="fill: none; stroke: #cccccc; stroke-linejoin: miter; stroke-linecap: square"/>
</g>
<g id="patch_49">
<path d="M 477.572816 440.485437
L 477.572816 336.407767
" style="fill: none; stroke: #cccccc; stroke-linejoin: miter; stroke-linecap: square"/>
</g>
<g id="patch_50">
<path d="M 389.708738 440.485437
L 477.572816 440.485437
" style="fill: none; stroke: #cccccc; stroke-linejoin: miter; stroke-linecap: square"/>
</g>
<g id="patch_51">
<path d="M 389.708738 336.407767
L 477.572816 336.407767
" style="fill: none; stroke: #cccccc; stroke-linejoin: miter; stroke-linecap: square"/>
</g>
<g id="text_86">
<text style="font-size: 12px; font-family: 'Liberation Sans', 'DejaVu Sans', sans-serif; text-anchor: middle; fill: #1c1c1c" x="433.640777" y="330.407767" transform="rotate(-0 433.640777 330.407767)">True error</text>
</g>
</g>
<g id="axes_13">
<g id="patch_52">
<path d="M 512.912621 440.291262
L 601.650485 440.291262
L 601.650485 336.407767
L 512.912621 336.407767
z
" style="fill: #ffffff"/>
</g>
<g id="matplotlib.axis_21">
<g id="xtick_29">
<g id="line2d_187">
<path d="M 516.893204 440.291262
L 516.893204 336.407767
" clip-path="url(#pd91341c588)" style="fill: none; stroke: #cccccc; stroke-width: 0.8; stroke-linecap: round"/>
</g>
<g id="line2d_188"/>
<g id="text_87">
<text style="font-size: 10px; font-family: 'Liberation Sans', 'DejaVu Sans', sans-serif; text-anchor: middle; fill: #1c1c1c" x="516.893204" y="451.838137" transform="rotate(-0 516.893204 451.838137)">0</text>
</g>
</g>
<g id="xtick_30">
<g id="line2d_189">
<path d="M 597.572816 440.291262
L 597.572816 336.407767
" clip-path="url(#pd91341c588)" style="fill: none; stroke: #cccccc; stroke-width: 0.8; stroke-linecap: round"/>
</g>
<g id="line2d_190"/>
<g id="text_88">
<text style="font-size: 10px; font-family: 'Liberation Sans', 'DejaVu Sans', sans-serif; text-anchor: middle; fill: #1c1c1c" x="597.572816" y="451.838137" transform="rotate(-0 597.572816 451.838137)">2000</text>
</g>
</g>
</g>
<g id="matplotlib.axis_22">
<g id="ytick_76">
<g id="line2d_191">
<path d="M 512.912621 346.116505
L 601.650485 346.116505
" clip-path="url(#pd91341c588)" style="fill: none; stroke: #cccccc; stroke-width: 0.8; stroke-linecap: round"/>
</g>
<g id="line2d_192"/>
<g id="text_89">
<!-- $\mathdefault{10^{-5}}$ -->
<g style="fill: #1c1c1c" transform="translate(489.912621 349.739942)">
<text>
<tspan x="0.000" y="1.649" style="font-size: 10px; font-family: 'Liberation Sans'; fill: #1c1c1c">1</tspan>
<tspan x="5.562" y="1.649" style="font-size: 10px; font-family: 'Liberation Sans'; fill: #1c1c1c">0</tspan>
<tspan x="10.415" y="-5.838" style="font-size: 7.7px; font-family: 'Liberation Sans'; fill: #1c1c1c">−</tspan>
<tspan x="14.503" y="-5.838" style="font-size: 7.7px; font-family: 'Liberation Sans'; fill: #1c1c1c">5</tspan>
</text>
</g>
</g>
</g>
<g id="ytick_77">
<g id="line2d_193">
<path d="M 512.912621 379.417476
L 601.650485 379.417476
" clip-path="url(#pd91341c588)" style="fill: none; stroke: #cccccc; stroke-width: 0.8; stroke-linecap: round"/>
</g>
<g id="line2d_194"/>
<g id="text_90">
<!-- $\mathdefault{10^{-7}}$ -->
<g style="fill: #1c1c1c" transform="translate(489.912621 383.040913)">
<text>
<tspan x="0.000" y="1.649" style="font-size: 10px; font-family: 'Liberation Sans'; fill: #1c1c1c">1</tspan>
<tspan x="5.562" y="1.649" style="font-size: 10px; font-family: 'Liberation Sans'; fill: #1c1c1c">0</tspan>
<tspan x="10.415" y="-5.838" style="font-size: 7.7px; font-family: 'Liberation Sans'; fill: #1c1c1c">−</tspan>
<tspan x="14.503" y="-5.838" style="font-size: 7.7px; font-family: 'Liberation Sans'; fill: #1c1c1c">7</tspan>
</text>
</g>
</g>
</g>
<g id="ytick_78">
<g id="line2d_195">
<path d="M 512.912621 412.718447
L 601.650485 412.718447
" clip-path="url(#pd91341c588)" style="fill: none; stroke: #cccccc; stroke-width: 0.8; stroke-linecap: round"/>
</g>
<g id="line2d_196"/>
<g id="text_91">
<!-- $\mathdefault{10^{-9}}$ -->
<g style="fill: #1c1c1c" transform="translate(489.912621 416.341884)">
<text>
<tspan x="0.000" y="1.726" style="font-size: 10px; font-family: 'Liberation Sans'; fill: #1c1c1c">1</tspan>
<tspan x="5.562" y="1.726" style="font-size: 10px; font-family: 'Liberation Sans'; fill: #1c1c1c">0</tspan>
<tspan x="10.415" y="-5.761" style="font-size: 7.7px; font-family: 'Liberation Sans'; fill: #1c1c1c">−</tspan>
<tspan x="14.503" y="-5.761" style="font-size: 7.7px; font-family: 'Liberation Sans'; fill: #1c1c1c">9</tspan>
</text>
</g>
</g>
</g>
</g>
<g id="line2d_197">
<path d="M 516.893204 340.485437
L 517.297613 357.717457
L 517.702022 366.185076
L 518.308636 373.557787
L 518.915249 377.873757
L 519.521863 380.610243
L 520.330681 383.157127
L 522.352726 388.815242
L 523.161545 391.630584
L 523.970363 395.188427
L 524.779181 399.608566
L 525.385795 404.027188
L 527.40784 420.948033
L 528.216658 426.279289
L 528.418863 426.663108
L 529.025476 426.985262
L 530.643113 427.589096
L 531.249726 428.007177
L 531.85634 428.848499
L 533.069567 430.645825
L 534.889408 432.452243
L 535.698226 432.937864
L 536.911453 433.231476
L 539.337908 433.594789
L 542.775385 433.843389
L 549.650339 434.089135
L 562.793635 434.541519
L 590.697861 435.59719
L 597.572816 435.825243
L 597.572816 435.825243
" clip-path="url(#pd91341c588)" style="fill: none; stroke: #d62728; stroke-width: 1.5; stroke-linecap: round"/>
</g>
<g id="patch_53">
<path d="M 512.912621 440.291262
L 512.912621 336.407767
" style="fill: none; stroke: #cccccc; stroke-linejoin: miter; stroke-linecap: square"/>
</g>
<g id="patch_54">
<path d="M 601.650485 440.291262
L 601.650485 336.407767
" style="fill: none; stroke: #cccccc; stroke-linejoin: miter; stroke-linecap: square"/>
</g>
<g id="patch_55">
<path d="M 512.912621 440.291262
L 601.650485 440.291262
" style="fill: none; stroke: #cccccc; stroke-linejoin: miter; stroke-linecap: square"/>
</g>
<g id="patch_56">
<path d="M 512.912621 336.407767
L 601.650485 336.407767
" style="fill: none; stroke: #cccccc; stroke-linejoin: miter; stroke-linecap: square"/>
</g>
<g id="text_92">
<!-- $\|B_k - B_{k-1}\|_F^2$ -->
<g style="fill: #1c1c1c" transform="translate(519.721553 330.407767)">
<text>
<tspan x="0" y="-0.171875" style="font-size: 12px; font-family: 'DejaVu Sans'; fill: #1c1c1c">‖</tspan>
<tspan x="21.762891" y="-0.171875" style="font-size: 12px; font-family: 'DejaVu Sans'; fill: #1c1c1c">−</tspan>
<tspan x="63.236133" y="-0.171875" style="font-size: 12px; font-family: 'DejaVu Sans'; fill: #1c1c1c">‖</tspan>
<tspan x="6" y="-0.171875" style="font-style: oblique; font-size: 12px; font-family: 'DejaVu Sans'; fill: #1c1c1c">B</tspan>
<tspan x="34.155469" y="-0.171875" style="font-style: oblique; font-size: 12px; font-family: 'DejaVu Sans'; fill: #1c1c1c">B</tspan>
<tspan x="14.232422" y="1.796875" style="font-style: oblique; font-size: 8.4px; font-family: 'DejaVu Sans'; fill: #1c1c1c">k</tspan>
<tspan x="42.387891" y="1.796875" style="font-style: oblique; font-size: 8.4px; font-family: 'DejaVu Sans'; fill: #1c1c1c">k</tspan>
<tspan x="69.350977" y="3.109375" style="font-style: oblique; font-size: 8.4px; font-family: 'DejaVu Sans'; fill: #1c1c1c">F</tspan>
<tspan x="48.888867" y="1.796875" style="font-size: 8.4px; font-family: 'DejaVu Sans'; fill: #1c1c1c">−</tspan>
<tspan x="57.563672" y="1.796875" style="font-size: 8.4px; font-family: 'DejaVu Sans'; fill: #1c1c1c">1</tspan>
<tspan x="69.350977" y="-4.765625" style="font-size: 8.4px; font-family: 'DejaVu Sans'; fill: #1c1c1c">2</tspan>
</text>
</g>
</g>
</g>
<g id="axes_14">
<g id="IMG2"><g clip-path="url(#i2lo)"><rect x="608.74" y="333.40" width="107.86" height="107.38" fill="#ea2000"/><ellipse cx="613.6" cy="356.8" rx="11.4" ry="7.6" fill="url(#i2ld)"/><ellipse cx="628.7" cy="356.8" rx="11.4" ry="7.6" fill="url(#i2ld)"/><ellipse cx="613.6" cy="343.1" rx="7.6" ry="6.3" fill="url(#i2ld)"/><ellipse cx="614.6" cy="384.1" rx="11.4" ry="7.6" fill="url(#i2ld)"/><ellipse cx="629.2" cy="386.0" rx="12.7" ry="8.9" fill="url(#i2ld)"/><ellipse cx="628.7" cy="406.5" rx="11.4" ry="8.9" fill="url(#i2ll)"/><ellipse cx="671.1" cy="406.5" rx="11.4" ry="8.9" fill="url(#i2ll)"/><ellipse cx="671.9" cy="423.0" rx="12.7" ry="10.1" fill="url(#i2ld)"/><ellipse cx="630.5" cy="423.0" rx="12.7" ry="8.9" fill="url(#i2ld)"/><ellipse cx="613.1" cy="423.0" rx="10.1" ry="7.6" fill="url(#i2ld)"/><ellipse cx="691.0" cy="438.6" rx="11.4" ry="7.6" fill="url(#i2ld)"/><ellipse cx="657.5" cy="418.7" rx="10.1" ry="7.6" fill="url(#i2ll)"/><ellipse cx="657.5" cy="392.8" rx="10.1" ry="7.6" fill="url(#i2ll)"/><ellipse cx="643.8" cy="372.4" rx="8.9" ry="6.3" fill="url(#i2ll)"/></g><g clip-path="url(#i2up)"><rect x="608.74" y="333.40" width="107.86" height="107.38" fill="#0006e4"/><ellipse cx="690.1" cy="351.6" rx="11.4" ry="8.9" fill="url(#i2ud)"/><ellipse cx="671.9" cy="369.8" rx="11.4" ry="8.9" fill="url(#i2ud)"/><ellipse cx="709.2" cy="369.8" rx="11.4" ry="8.9" fill="url(#i2ud)"/><ellipse cx="690.1" cy="388.0" rx="12.7" ry="10.1" fill="url(#i2ud)"/><ellipse cx="708.3" cy="405.7" rx="12.7" ry="10.1" fill="url(#i2ud)"/><ellipse cx="671.0" cy="357.7" rx="10.1" ry="7.6" fill="url(#i2ul)"/><ellipse cx="690.1" cy="370.7" rx="10.1" ry="7.6" fill="url(#i2ul)"/><ellipse cx="709.2" cy="355.9" rx="10.1" ry="7.6" fill="url(#i2ul)"/><ellipse cx="708.3" cy="420.4" rx="10.1" ry="7.6" fill="url(#i2ul)"/><ellipse cx="709.1" cy="389.9" rx="8.9" ry="6.3" fill="url(#i2ul)"/><ellipse cx="690.1" cy="404.8" rx="8.9" ry="6.3" fill="url(#i2ul)"/><ellipse cx="655.5" cy="349.0" rx="8.9" ry="6.3" fill="url(#i2ud)"/></g><line x1="609.57" y1="333.40" x2="716.60" y2="439.95" stroke="#88d078" stroke-width="1.0"/></g>
<g id="text_93">
<!-- $B_{opt}$ -->
<g style="fill: #1c1c1c" transform="translate(651.449903 327.398058)">
<text>
<tspan x="0" y="-0.25" style="font-style: oblique; font-size: 12px; font-family: 'DejaVu Sans'; fill: #1c1c1c">B</tspan>
<tspan x="8.232422" y="1.71875" style="font-style: oblique; font-size: 8.4px; font-family: 'DejaVu Sans'; fill: #1c1c1c">o</tspan>
<tspan x="13.37168" y="1.71875" style="font-style: oblique; font-size: 8.4px; font-family: 'DejaVu Sans'; fill: #1c1c1c">p</tspan>
<tspan x="18.703711" y="1.71875" style="font-style: oblique; font-size: 8.4px; font-family: 'DejaVu Sans'; fill: #1c1c1c">t</tspan>
</text>
</g>
</g>
</g>
<g id="axes_15">
<g id="patch_57">
<path d="M 729.029126 440
L 734.563107 440
L 734.563107 333.398058
L 729.029126 333.398058
z
" style="fill: #ffffff"/>
</g>
<g id="matplotlib.axis_23"/>
<g id="matplotlib.axis_24">
<g id="ytick_79">
<g id="line2d_198"/>
<g id="text_94">
<text style="font-size: 10px; font-family: 'Liberation Sans', 'DejaVu Sans', sans-serif; text-anchor: start; fill: #1c1c1c" x="738.063107" y="436.050622" transform="rotate(-0 738.063107 436.050622)">0.000</text>
</g>
</g>
<g id="ytick_80">
<g id="line2d_199"/>
<g id="text_95">
<text style="font-size: 10px; font-family: 'Liberation Sans', 'DejaVu Sans', sans-serif; text-anchor: start; fill: #1c1c1c" x="738.063107" y="400.807904" transform="rotate(-0 738.063107 400.807904)">0.002</text>
</g>
</g>
<g id="ytick_81">
<g id="line2d_200"/>
<g id="text_96">
<text style="font-size: 10px; font-family: 'Liberation Sans', 'DejaVu Sans', sans-serif; text-anchor: start; fill: #1c1c1c" x="738.063107" y="365.565185" transform="rotate(-0 738.063107 365.565185)">0.004</text>
</g>
</g>
</g>
<g id="CB2"><rect x="729.03" y="333.40" width="5.53" height="106.60" fill="url(#cbg2)"/><rect x="729.43" y="331.95" width="5.53" height="0.9" fill="#b02020" fill-opacity="0.55"/></g>
<g id="patch_58">
<path d="M 729.029126 440
L 729.029126 333.398058
" style="fill: none; stroke: #cccccc; stroke-linejoin: miter; stroke-linecap: square"/>
</g>
<g id="patch_59">
<path d="M 734.563107 440
L 734.563107 333.398058
" style="fill: none; stroke: #cccccc; stroke-linejoin: miter; stroke-linecap: square"/>
</g>
<g id="patch_60">
<path d="M 729.029126 440
L 734.563107 440
" style="fill: none; stroke: #cccccc; stroke-linejoin: miter; stroke-linecap: square"/>
</g>
<g id="patch_61">
<path d="M 729.029126 333.398058
L 734.563107 333.398058
" style="fill: none; stroke: #cccccc; stroke-linejoin: miter; stroke-linecap: square"/>
</g>
</g>
<g id="axes_16">
<g id="patch_62">
<path d="M 22.912621 599.514563
L 266.31068 599.514563
L 266.31068 494.854369
L 22.912621 494.854369
z
" style="fill: #ffffff"/>
</g>
<g id="matplotlib.axis_25">
<g id="xtick_31">
<g id="line2d_201">
<path d="M 33.106796 599.514563
L 33.106796 494.854369
" clip-path="url(#peaad9796a7)" style="fill: none; stroke: #cccccc; stroke-width: 0.8; stroke-linecap: round"/>
</g>
<g id="line2d_202"/>
<g id="text_97">
<text style="font-size: 10px; font-family: 'Liberation Sans', 'DejaVu Sans', sans-serif; text-anchor: middle; fill: #1c1c1c" x="33.106796" y="610.261438" transform="rotate(-0 33.106796 610.261438)">0.0</text>
</g>
</g>
<g id="xtick_32">
<g id="line2d_203">
<path d="M 77.708738 599.514563
L 77.708738 494.854369
" clip-path="url(#peaad9796a7)" style="fill: none; stroke: #cccccc; stroke-width: 0.8; stroke-linecap: round"/>
</g>
<g id="line2d_204"/>
<g id="text_98">
<text style="font-size: 10px; font-family: 'Liberation Sans', 'DejaVu Sans', sans-serif; text-anchor: middle; fill: #1c1c1c" x="77.708738" y="610.261438" transform="rotate(-0 77.708738 610.261438)">0.2</text>
</g>
</g>
<g id="xtick_33">
<g id="line2d_205">
<path d="M 122.31068 599.514563
L 122.31068 494.854369
" clip-path="url(#peaad9796a7)" style="fill: none; stroke: #cccccc; stroke-width: 0.8; stroke-linecap: round"/>
</g>
<g id="line2d_206"/>
<g id="text_99">
<text style="font-size: 10px; font-family: 'Liberation Sans', 'DejaVu Sans', sans-serif; text-anchor: middle; fill: #1c1c1c" x="122.31068" y="610.261438" transform="rotate(-0 122.31068 610.261438)">0.4</text>
</g>
</g>
<g id="xtick_34">
<g id="line2d_207">
<path d="M 166.912621 599.514563
L 166.912621 494.854369
" clip-path="url(#peaad9796a7)" style="fill: none; stroke: #cccccc; stroke-width: 0.8; stroke-linecap: round"/>
</g>
<g id="line2d_208"/>
<g id="text_100">
<text style="font-size: 10px; font-family: 'Liberation Sans', 'DejaVu Sans', sans-serif; text-anchor: middle; fill: #1c1c1c" x="166.912621" y="610.261438" transform="rotate(-0 166.912621 610.261438)">0.6</text>
</g>
</g>
<g id="xtick_35">
<g id="line2d_209">
<path d="M 211.514563 599.514563
L 211.514563 494.854369
" clip-path="url(#peaad9796a7)" style="fill: none; stroke: #cccccc; stroke-width: 0.8; stroke-linecap: round"/>
</g>
<g id="line2d_210"/>
<g id="text_101">
<text style="font-size: 10px; font-family: 'Liberation Sans', 'DejaVu Sans', sans-serif; text-anchor: middle; fill: #1c1c1c" x="211.514563" y="610.261438" transform="rotate(-0 211.514563 610.261438)">0.8</text>
</g>
</g>
<g id="xtick_36">
<g id="line2d_211">
<path d="M 256.116505 599.514563
L 256.116505 494.854369
" clip-path="url(#peaad9796a7)" style="fill: none; stroke: #cccccc; stroke-width: 0.8; stroke-linecap: round"/>
</g>
<g id="line2d_212"/>
<g id="text_102">
<text style="font-size: 10px; font-family: 'Liberation Sans', 'DejaVu Sans', sans-serif; text-anchor: middle; fill: #1c1c1c" x="256.116505" y="610.261438" transform="rotate(-0 256.116505 610.261438)">1.0</text>
</g>
</g>
</g>
<g id="matplotlib.axis_26">
<g id="ytick_82">
<g id="line2d_213">
<path d="M 22.912621 594.563107
L 266.31068 594.563107
" clip-path="url(#peaad9796a7)" style="fill: none; stroke: #cccccc; stroke-width: 0.8; stroke-linecap: round"/>
</g>
<g id="line2d_214"/>
<g id="text_103">
<text style="font-size: 10px; font-family: 'Liberation Sans', 'DejaVu Sans', sans-serif; text-anchor: end; fill: #1c1c1c" x="19.412621" y="598.186544" transform="rotate(-0 19.412621 598.186544)">−0.4</text>
</g>
</g>
<g id="ytick_83">
<g id="line2d_215">
<path d="M 22.912621 573.398058
L 266.31068 573.398058
" clip-path="url(#peaad9796a7)" style="fill: none; stroke: #cccccc; stroke-width: 0.8; stroke-linecap: round"/>
</g>
<g id="line2d_216"/>
<g id="text_104">
<text style="font-size: 10px; font-family: 'Liberation Sans', 'DejaVu Sans', sans-serif; text-anchor: end; fill: #1c1c1c" x="19.412621" y="577.021496" transform="rotate(-0 19.412621 577.021496)">−0.2</text>
</g>
</g>
<g id="ytick_84">
<g id="line2d_217">
<path d="M 22.912621 552.23301
L 266.31068 552.23301
" clip-path="url(#peaad9796a7)" style="fill: none; stroke: #cccccc; stroke-width: 0.8; stroke-linecap: round"/>
</g>
<g id="line2d_218"/>
<g id="text_105">
<text style="font-size: 10px; font-family: 'Liberation Sans', 'DejaVu Sans', sans-serif; text-anchor: end; fill: #1c1c1c" x="19.412621" y="555.856447" transform="rotate(-0 19.412621 555.856447)">0.0</text>
</g>
</g>
<g id="ytick_85">
<g id="line2d_219">
<path d="M 22.912621 531.067961
L 266.31068 531.067961
" clip-path="url(#peaad9796a7)" style="fill: none; stroke: #cccccc; stroke-width: 0.8; stroke-linecap: round"/>
</g>
<g id="line2d_220"/>
<g id="text_106">
<text style="font-size: 10px; font-family: 'Liberation Sans', 'DejaVu Sans', sans-serif; text-anchor: end; fill: #1c1c1c" x="19.412621" y="534.691399" transform="rotate(-0 19.412621 534.691399)">0.2</text>
</g>
</g>
<g id="ytick_86">
<g id="line2d_221">
<path d="M 22.912621 509.902913
L 266.31068 509.902913
" clip-path="url(#peaad9796a7)" style="fill: none; stroke: #cccccc; stroke-width: 0.8; stroke-linecap: round"/>
</g>
<g id="line2d_222"/>
<g id="text_107">
<text style="font-size: 10px; font-family: 'Liberation Sans', 'DejaVu Sans', sans-serif; text-anchor: end; fill: #1c1c1c" x="19.412621" y="513.52635" transform="rotate(-0 19.412621 513.52635)">0.4</text>
</g>
</g>
</g>
<g id="line2d_223">
<path d="M 33.106796 530.368091
L 35.342482 535.601566
L 37.578169 541.464987
L 39.254933 546.321127
L 42.608463 557.100541
L 44.285228 562.075074
L 45.403071 565.164577
L 45.961992 566.308303
L 46.520914 567.03595
L 47.079836 567.240969
L 47.638757 567.090061
L 48.197679 566.732166
L 49.315522 565.507987
L 50.433365 563.793591
L 50.992287 562.822922
L 51.551208 561.612642
L 52.11013 559.698831
L 54.904738 547.830805
L 57.140424 539.912188
L 57.699345 538.466473
L 58.258267 537.494351
L 58.817189 537.125833
L 59.935032 537.335634
L 61.052875 537.924297
L 62.170718 538.806942
L 62.72964 539.727017
L 63.288561 541.523178
L 64.406404 546.645604
L 65.524248 551.944069
L 70.554542 572.329385
L 72.231306 580.898307
L 72.790228 583.087972
L 73.34915 584.516991
L 74.466993 586.426209
L 75.025914 587.106196
L 75.584836 587.476116
L 76.143757 587.402713
L 76.702679 586.728683
L 77.261601 585.602344
L 78.379444 582.705329
L 78.938365 580.869543
L 80.056208 575.691214
L 81.732973 565.979314
L 82.850816 558.290172
L 86.204346 532.57364
L 87.881111 521.973213
L 88.998954 516.548698
L 90.116797 513.406541
L 91.23464 510.926916
L 91.793562 510.035936
L 92.352483 509.478599
L 92.911405 509.330751
L 93.470326 509.633614
L 94.029248 510.324595
L 95.147091 512.545807
L 96.264934 515.348171
L 96.823856 517.289089
L 97.941699 522.941997
L 99.618464 532.137356
L 102.413072 545.033974
L 103.530915 549.43389
L 106.325523 558.909797
L 106.884444 560.301629
L 107.443366 561.252217
L 108.002287 561.641606
L 108.561209 561.480059
L 109.12013 560.964684
L 110.237974 559.242678
L 111.914738 556.305727
L 115.268268 552.029257
L 116.386111 551.020119
L 116.945032 550.735243
L 117.503954 550.640689
L 118.062876 550.840845
L 118.621797 551.364899
L 119.180719 552.156116
L 120.298562 554.313095
L 121.975327 558.239267
L 123.09317 562.302743
L 125.887778 574.180353
L 129.241307 585.234093
L 129.800229 586.496624
L 130.35915 587.374469
L 130.918072 587.785467
L 131.476993 587.739817
L 132.035915 587.451321
L 132.594837 586.960526
L 133.71268 585.489982
L 134.830523 583.564061
L 135.389444 582.479095
L 135.948366 580.870486
L 136.507288 578.669878
L 137.625131 573.046417
L 140.419739 557.185632
L 143.214347 538.879168
L 143.773268 536.212869
L 144.33219 534.285982
L 145.450033 532.062698
L 146.567876 530.274301
L 147.126798 529.589583
L 147.685719 529.085066
L 148.244641 528.79116
L 148.803562 528.742649
L 149.362484 529.018742
L 149.921405 529.596559
L 151.039249 531.433333
L 152.716013 535.051253
L 153.274935 536.377307
L 154.392778 540.116002
L 156.628464 548.883002
L 158.864151 555.841984
L 159.423072 557.299285
L 159.981994 558.326254
L 160.540915 558.746853
L 161.099837 558.567579
L 161.658759 558.001295
L 162.21768 557.109927
L 163.335523 554.595787
L 165.012288 549.820642
L 165.57121 547.47837
L 166.689053 541.195572
L 168.924739 527.512754
L 171.719347 513.956972
L 172.278268 512.194173
L 173.955033 508.618822
L 174.513955 507.715349
L 175.072876 507.06668
L 175.631798 506.741769
L 176.19072 506.797769
L 176.749641 507.207012
L 177.308563 507.913611
L 178.426406 509.998645
L 179.544249 512.797184
L 180.103171 515.276784
L 181.221014 522.29943
L 189.604837 581.467229
L 190.163759 583.993425
L 191.840524 589.064639
L 192.958367 591.806347
L 194.07621 593.727808
L 194.635132 594.294129
L 195.194053 594.551206
L 195.752975 594.434143
L 196.311896 593.889637
L 196.870818 592.992787
L 197.988661 590.462685
L 200.224347 584.27093
L 201.34219 579.670587
L 202.460034 574.881875
L 203.018955 572.891954
L 203.577877 571.42503
L 204.69572 569.902464
L 205.813563 568.715339
L 206.931406 567.882752
L 207.490328 567.64058
L 208.049249 567.536447
L 209.167092 567.679766
L 210.284936 568.112064
L 211.9617 569.050772
L 212.520622 569.402939
L 213.079544 569.962766
L 214.756308 572.097017
L 215.31523 572.538605
L 215.874151 572.631478
L 216.433073 572.243885
L 216.991995 571.421615
L 218.109838 568.833884
L 219.227681 565.572047
L 219.786602 563.230292
L 220.904446 556.484475
L 222.58121 545.28074
L 226.493661 521.800938
L 229.288269 507.787122
L 229.847191 505.903032
L 230.965034 503.619861
L 232.082877 501.870676
L 232.641799 501.265807
L 233.20072 500.906956
L 233.759642 500.842694
L 234.318563 501.079686
L 234.877485 501.57725
L 235.995328 503.184945
L 237.113171 505.356631
L 237.672093 507.321252
L 238.789936 513.597282
L 240.466701 524.026465
L 244.379152 544.26926
L 246.055916 552.952249
L 247.17376 558.255343
L 247.732681 560.087201
L 248.850524 561.999208
L 249.968368 563.374349
L 250.527289 563.835496
L 251.086211 564.101841
L 251.645132 564.103475
L 252.204054 563.417586
L 252.762975 562.116252
L 254.998662 555.416585
L 256.116505 552.86048
L 256.116505 552.86048
" clip-path="url(#peaad9796a7)" style="fill: none; stroke-dasharray: 1.5,2.475; stroke-dashoffset: 0; stroke: #000000; stroke-width: 1.5"/>
</g>
<g id="line2d_224">
<path d="M 33.106796 542.31758
L 33.852648 542.693508
L 35.344352 543.79467
L 37.581907 545.950195
L 39.819463 548.512177
L 45.786278 556.067008
L 47.277982 557.354472
L 48.023833 557.77311
L 48.769685 558.023406
L 49.515537 558.113077
L 50.261389 558.043904
L 51.007241 557.783704
L 51.753093 557.257147
L 52.498945 556.372857
L 53.244797 555.075804
L 53.990648 553.385874
L 55.482352 549.22717
L 56.974056 545.021707
L 57.719908 543.389269
L 58.46576 542.347698
L 59.211612 542.013669
L 59.957463 542.375522
L 60.703315 543.315461
L 61.449167 544.675153
L 62.940871 548.151015
L 67.415982 559.704451
L 69.653538 564.34948
L 71.891093 568.713332
L 73.382797 571.025795
L 74.128649 571.826985
L 74.874501 572.357287
L 75.620353 572.598338
L 76.366205 572.510174
L 77.112056 572.03294
L 77.857908 571.114071
L 78.60376 569.733086
L 79.349612 567.899563
L 80.095464 565.63405
L 81.587168 559.932576
L 83.824723 549.593057
L 86.062279 539.314051
L 87.553983 533.612912
L 89.045686 529.224811
L 89.791538 527.533938
L 90.53739 526.212955
L 91.283242 525.293365
L 92.029094 524.779075
L 92.774946 524.640935
L 93.520797 524.839804
L 94.266649 525.355136
L 95.012501 526.189855
L 95.758353 527.346156
L 97.250057 530.476033
L 99.487612 536.194924
L 103.216872 546.015431
L 104.708576 549.364256
L 105.454427 550.763051
L 106.200279 551.893108
L 106.946131 552.710449
L 107.691983 553.225113
L 108.437835 553.501105
L 109.929539 553.671317
L 113.658798 553.843751
L 114.40465 554.025642
L 115.150502 554.329923
L 115.896354 554.777236
L 117.388057 556.099338
L 118.879761 557.950132
L 120.371465 560.374566
L 122.60902 564.791012
L 124.846576 569.043003
L 126.33828 571.383081
L 127.829983 573.09156
L 128.575835 573.692382
L 129.321687 574.1325
L 130.067539 574.408615
L 130.813391 574.505887
L 131.559243 574.40779
L 132.305095 574.108725
L 133.050947 573.619511
L 133.796798 572.961558
L 135.288502 571.201666
L 136.780206 568.828405
L 138.27191 565.769269
L 139.763613 562.001068
L 141.255317 557.593743
L 144.984576 545.969146
L 146.47628 542.225764
L 147.222132 540.820353
L 147.967984 539.749445
L 148.713836 538.982788
L 149.459688 538.48559
L 150.20554 538.249805
L 150.951391 538.301336
L 151.697243 538.677078
L 152.443095 539.38746
L 153.188947 540.391368
L 154.680651 542.919284
L 156.918206 546.804781
L 157.664058 547.897092
L 158.40991 548.768357
L 159.155762 549.33968
L 159.901614 549.560787
L 160.647466 549.423836
L 161.393318 548.956465
L 162.139169 548.200074
L 162.885021 547.183633
L 163.630873 545.902422
L 164.376725 544.314922
L 165.122577 542.373045
L 166.614281 537.551916
L 168.105984 532.646456
L 168.851836 530.684976
L 169.597688 529.162009
L 170.34354 528.025884
L 171.089392 527.183883
L 171.835244 526.56134
L 172.581096 526.125311
L 173.326947 525.878059
L 174.072799 525.839206
L 174.818651 526.027767
L 175.564503 526.447847
L 176.310355 527.081245
L 177.802059 528.824998
L 180.039614 532.059248
L 181.531318 534.640948
L 182.27717 536.223289
L 183.023022 538.158686
L 183.768874 540.623137
L 184.514725 543.792408
L 185.260577 547.742597
L 188.243985 566.320705
L 188.989837 569.849066
L 189.735689 572.646329
L 190.48154 574.837067
L 191.227392 576.57222
L 191.973244 577.970893
L 192.719096 579.104153
L 193.464948 579.998655
L 194.2108 580.649357
L 194.956652 581.040861
L 195.702503 581.171228
L 196.448355 581.066145
L 197.194207 580.777212
L 198.685911 579.902128
L 203.906874 576.528369
L 205.398578 575.231635
L 212.111245 568.556753
L 213.602948 566.852488
L 215.094652 564.689294
L 216.586356 561.953296
L 218.07806 558.589314
L 219.569763 554.44777
L 221.061467 549.434066
L 224.044875 538.748441
L 225.536578 534.204926
L 227.028282 530.243796
L 229.265838 524.997497
L 231.503393 520.187867
L 232.995097 517.51811
L 233.740949 516.57566
L 234.486801 516.034908
L 235.232653 515.995849
L 235.978504 516.521891
L 236.724356 517.612576
L 237.470208 519.201833
L 238.961912 523.477526
L 240.453616 528.66872
L 244.182875 542.217427
L 245.674579 546.501856
L 246.420431 548.176839
L 247.166282 549.558432
L 247.912134 550.694429
L 248.657986 551.625334
L 249.403838 552.37027
L 250.14969 552.934193
L 250.895542 553.325082
L 252.387246 553.695401
L 254.624801 553.78411
L 256.116505 553.786341
L 256.116505 553.786341
" clip-path="url(#peaad9796a7)" style="fill: none; stroke-dasharray: 5.55,2.4; stroke-dashoffset: 0; stroke: #ff7f0e; stroke-opacity: 0.7; stroke-width: 1.5"/>
</g>
<g id="line2d_225">
<path d="M 33.106796 530.776699
L 35.048544 540.970874
L 36.796117 535.92233
L 38.446602 542.718447
L 40.970874 551.165049
L 43.592233 556.31068
L 45.242718 563.106796
L 46.990291 562.23301
L 48.640777 564.757282
L 50.38835 563.106796
L 52.038835 556.31068
L 53.786408 553.68932
L 55.436893 558.834951
L 57.184466 539.320388
L 58.349515 521.456311
L 59.708738 529.126214
L 61.359223 544.368932
L 63.980583 554.563107
L 66.504854 563.106796
L 69.902913 568.15534
L 72.427184 580.097087
L 74.951456 584.271845
L 77.572816 583.495146
L 80.097087 574.951456
L 82.621359 554.563107
L 86.019417 532.524272
L 89.417476 517.184466
L 92.815534 508.737864
L 95.339806 513.786408
L 97.087379 525.728155
L 98.737864 537.572816
L 102.135922 540.970874
L 104.660194 554.563107
L 107.281553 559.708738
L 109.805825 552.912621
L 113.203883 551.165049
L 115.728155 550.291262
L 118.252427 562.23301
L 121.650485 552.038835
L 123.398058 568.15534
L 125.048544 578.349515
L 127.669903 580.097087
L 129.320388 574.951456
L 131.84466 585.145631
L 133.592233 576.699029
L 135.242718 580.097087
L 138.640777 566.504854
L 142.038835 554.563107
L 145.242718 539.320388
L 147.475728 526.601942
L 149.514563 529.126214
L 152.038835 530.776699
L 154.563107 542.718447
L 157.184466 546.116505
L 159.708738 562.23301
L 162.23301 554.563107
L 165.631068 549.514563
L 167.378641 537.572816
L 169.514563 512.135922
L 171.553398 523.203883
L 174.951456 516.407767
L 178.349515 527.378641
L 180.38835 523.980583
L 184.368932 534.174757
L 186.893204 551.165049
L 188.543689 573.300971
L 189.902913 589.417476
L 191.941748 583.495146
L 193.68932 584.368932
L 195.339806 593.68932
L 197.087379 584.368932
L 199.61165 579.223301
L 203.009709 578.349515
L 204.757282 580.970874
L 207.281553 574.951456
L 209.805825 576.699029
L 211.84466 564.757282
L 213.68932 571.553398
L 215.436893 580.097087
L 217.475728 569.902913
L 220.873786 556.31068
L 224.271845 530.776699
L 225.92233 530.776699
L 229.320388 510.38835
L 231.941748 513.009709
L 235.825243 499.417476
L 237.864078 505.339806
L 240.38835 529.126214
L 243.786408 540.970874
L 246.31068 557.961165
L 248.932039 552.912621
L 251.456311 563.106796
L 253.106796 557.961165
L 256.116505 556.31068
" clip-path="url(#peaad9796a7)" style="fill: none; stroke: #1f77b4; stroke-opacity: 0.7; stroke-width: 1.5; stroke-linecap: round"/>
</g>
<g id="patch_63">
<path d="M 22.912621 599.514563
L 22.912621 494.854369
" style="fill: none; stroke: #cccccc; stroke-linejoin: miter; stroke-linecap: square"/>
</g>
<g id="patch_64">
<path d="M 266.31068 599.514563
L 266.31068 494.854369
" style="fill: none; stroke: #cccccc; stroke-linejoin: miter; stroke-linecap: square"/>
</g>
<g id="patch_65">
<path d="M 22.912621 599.514563
L 266.31068 599.514563
" style="fill: none; stroke: #cccccc; stroke-linejoin: miter; stroke-linecap: square"/>
</g>
<g id="patch_66">
<path d="M 22.912621 494.854369
L 266.31068 494.854369
" style="fill: none; stroke: #cccccc; stroke-linejoin: miter; stroke-linecap: square"/>
</g>
<g id="text_108">
<!-- Reconstructions ($\alpha = 0.0005$) -->
<g style="fill: #1c1c1c" transform="translate(63.61165 488.854369)">
<text>
<tspan x="0" y="-0.09375" style="font-size: 12px; font-family: 'Liberation Sans'; fill: #1c1c1c">R</tspan>
<tspan x="8.666016" y="-0.09375" style="font-size: 12px; font-family: 'Liberation Sans'; fill: #1c1c1c">e</tspan>
<tspan x="15.339844" y="-0.09375" style="font-size: 12px; font-family: 'Liberation Sans'; fill: #1c1c1c">c</tspan>
<tspan x="21.339844" y="-0.09375" style="font-size: 12px; font-family: 'Liberation Sans'; fill: #1c1c1c">o</tspan>
<tspan x="28.013672" y="-0.09375" style="font-size: 12px; font-family: 'Liberation Sans'; fill: #1c1c1c">n</tspan>
<tspan x="34.6875" y="-0.09375" style="font-size: 12px; font-family: 'Liberation Sans'; fill: #1c1c1c">s</tspan>
<tspan x="40.6875" y="-0.09375" style="font-size: 12px; font-family: 'Liberation Sans'; fill: #1c1c1c">t</tspan>
<tspan x="44.021484" y="-0.09375" style="font-size: 12px; font-family: 'Liberation Sans'; fill: #1c1c1c">r</tspan>
<tspan x="48.017578" y="-0.09375" style="font-size: 12px; font-family: 'Liberation Sans'; fill: #1c1c1c">u</tspan>
<tspan x="54.691406" y="-0.09375" style="font-size: 12px; font-family: 'Liberation Sans'; fill: #1c1c1c">c</tspan>
<tspan x="60.691406" y="-0.09375" style="font-size: 12px; font-family: 'Liberation Sans'; fill: #1c1c1c">t</tspan>
<tspan x="64.025391" y="-0.09375" style="font-size: 12px; font-family: 'Liberation Sans'; fill: #1c1c1c">i</tspan>
<tspan x="66.691406" y="-0.09375" style="font-size: 12px; font-family: 'Liberation Sans'; fill: #1c1c1c">o</tspan>
<tspan x="73.365234" y="-0.09375" style="font-size: 12px; font-family: 'Liberation Sans'; fill: #1c1c1c">n</tspan>
<tspan x="80.039062" y="-0.09375" style="font-size: 12px; font-family: 'Liberation Sans'; fill: #1c1c1c">s</tspan>
<tspan x="86.039062" y="-0.09375" style="font-size: 12px; font-family: 'Liberation Sans'; fill: #1c1c1c"> </tspan>
<tspan x="89.373047" y="-0.09375" style="font-size: 12px; font-family: 'Liberation Sans'; fill: #1c1c1c">(</tspan>
<tspan x="157.998047" y="-0.09375" style="font-size: 12px; font-family: 'Liberation Sans'; fill: #1c1c1c">)</tspan>
<tspan x="93.369141" y="-0.09375" style="font-style: oblique; font-size: 12px; font-family: 'DejaVu Sans'; fill: #1c1c1c">α</tspan>
<tspan x="103.617188" y="-0.09375" style="font-size: 12px; font-family: 'DejaVu Sans'; fill: #1c1c1c">=</tspan>
<tspan x="116.009766" y="-0.09375" style="font-size: 12px; font-family: 'DejaVu Sans'; fill: #1c1c1c">0</tspan>
<tspan x="123.644531" y="-0.09375" style="font-size: 12px; font-family: 'DejaVu Sans'; fill: #1c1c1c">.</tspan>
<tspan x="127.458984" y="-0.09375" style="font-size: 12px; font-family: 'DejaVu Sans'; fill: #1c1c1c">0</tspan>
<tspan x="135.09375" y="-0.09375" style="font-size: 12px; font-family: 'DejaVu Sans'; fill: #1c1c1c">0</tspan>
<tspan x="142.728516" y="-0.09375" style="font-size: 12px; font-family: 'DejaVu Sans'; fill: #1c1c1c">0</tspan>
<tspan x="150.363281" y="-0.09375" style="font-size: 12px; font-family: 'DejaVu Sans'; fill: #1c1c1c">5</tspan>
</text>
</g>
</g>
<g id="legend_4">
<g id="line2d_226">
<path d="M 275.31068 530.209
L 285.31068 530.209
L 295.31068 530.209
" style="fill: none; stroke-dasharray: 1.5,2.475; stroke-dashoffset: 0; stroke: #000000; stroke-width: 1.5"/>
</g>
<g id="text_109">
<!-- $x^\dagger$ -->
<g style="fill: #1c1c1c" transform="translate(303.31068 533.709)">
<text>
<tspan x="0" y="-0.064063" style="font-style: oblique; font-size: 10px; font-family: 'DejaVu Sans'; fill: #1c1c1c">x</tspan>
<tspan x="7.728353" y="-3.892188" style="font-size: 7px; font-family: 'DejaVu Sans'; fill: #1c1c1c">†</tspan>
</text>
</g>
</g>
<g id="line2d_227">
<path d="M 275.31068 545.581341
L 285.31068 545.581341
L 295.31068 545.581341
" style="fill: none; stroke-dasharray: 5.55,2.4; stroke-dashoffset: 0; stroke: #ff7f0e; stroke-opacity: 0.7; stroke-width: 1.5"/>
</g>
<g id="text_110">
<!-- $x(A)$ -->
<g style="fill: #1c1c1c" transform="translate(303.31068 549.081341)">
<text>
<tspan x="0" y="-0.40625" style="font-style: oblique; font-size: 10px; font-family: 'DejaVu Sans'; fill: #1c1c1c">x</tspan>
<tspan x="9.819336" y="-0.40625" style="font-style: oblique; font-size: 10px; font-family: 'DejaVu Sans'; fill: #1c1c1c">A</tspan>
<tspan x="5.917969" y="-0.40625" style="font-size: 10px; font-family: 'DejaVu Sans'; fill: #1c1c1c">(</tspan>
<tspan x="16.660156" y="-0.40625" style="font-size: 10px; font-family: 'DejaVu Sans'; fill: #1c1c1c">)</tspan>
</text>
</g>
</g>
<g id="line2d_228">
<path d="M 275.31068 560.256341
L 285.31068 560.256341
L 295.31068 560.256341
" style="fill: none; stroke: #1f77b4; stroke-opacity: 0.7; stroke-width: 1.5; stroke-linecap: round"/>
</g>
<g id="text_111">
<!-- $x(B_{opt})$ -->
<g style="fill: #1c1c1c" transform="translate(303.31068 563.756341)">
<text>
<tspan x="0" y="-0.40625" style="font-style: oblique; font-size: 10px; font-family: 'DejaVu Sans'; fill: #1c1c1c">x</tspan>
<tspan x="9.819336" y="-0.40625" style="font-style: oblique; font-size: 10px; font-family: 'DejaVu Sans'; fill: #1c1c1c">B</tspan>
<tspan x="5.917969" y="-0.40625" style="font-size: 10px; font-family: 'DejaVu Sans'; fill: #1c1c1c">(</tspan>
<tspan x="28.423828" y="-0.40625" style="font-size: 10px; font-family: 'DejaVu Sans'; fill: #1c1c1c">)</tspan>
<tspan x="16.679688" y="1.234375" style="font-style: oblique; font-size: 7px; font-family: 'DejaVu Sans'; fill: #1c1c1c">o</tspan>
<tspan x="20.962402" y="1.234375" style="font-style: oblique; font-size: 7px; font-family: 'DejaVu Sans'; fill: #1c1c1c">p</tspan>
<tspan x="25.405762" y="1.234375" style="font-style: oblique; font-size: 7px; font-family: 'DejaVu Sans'; fill: #1c1c1c">t</tspan>
</text>
</g>
</g>
</g>
</g>
<g id="axes_17">
<g id="patch_67">
<path d="M 375.242718 599.61165
L 468.932039 599.61165
L 468.932039 496.116505
L 375.242718 496.116505
z
" style="fill: #ffffff"/>
</g>
<g id="matplotlib.axis_27">
<g id="xtick_37">
<g id="line2d_229">
<path d="M 378.834951 599.61165
L 378.834951 496.116505
" clip-path="url(#p8cb73d0ee8)" style="fill: none; stroke: #cccccc; stroke-width: 0.8; stroke-linecap: round"/>
</g>
<g id="line2d_230"/>
<g id="text_112">
<text style="font-size: 10px; font-family: 'Liberation Sans', 'DejaVu Sans', sans-serif; text-anchor: middle; fill: #1c1c1c" x="378.834951" y="611.158525" transform="rotate(-0 378.834951 611.158525)">0</text>
</g>
</g>
<g id="xtick_38">
<g id="line2d_231">
<path d="M 465.242718 599.61165
L 465.242718 496.116505
" clip-path="url(#p8cb73d0ee8)" style="fill: none; stroke: #cccccc; stroke-width: 0.8; stroke-linecap: round"/>
</g>
<g id="line2d_232"/>
<g id="text_113">
<text style="font-size: 10px; font-family: 'Liberation Sans', 'DejaVu Sans', sans-serif; text-anchor: middle; fill: #1c1c1c" x="465.242718" y="611.158525" transform="rotate(-0 465.242718 611.158525)">2000</text>
</g>
</g>
</g>
<g id="matplotlib.axis_28">
<g id="ytick_87">
<g id="line2d_233">
<path d="M 375.242718 582.912621
L 468.932039 582.912621
" clip-path="url(#p8cb73d0ee8)" style="fill: none; stroke: #cccccc; stroke-width: 0.8; stroke-linecap: round"/>
</g>
<g id="line2d_234"/>
<g id="text_114">
<!-- $\mathdefault{10^{0}}$ -->
<g style="fill: #1c1c1c" transform="translate(356.342718 586.536059)">
<text>
<tspan x="0.000" y="1.726" style="font-size: 10px; font-family: 'Liberation Sans'; fill: #1c1c1c">1</tspan>
<tspan x="5.562" y="1.726" style="font-size: 10px; font-family: 'Liberation Sans'; fill: #1c1c1c">0</tspan>
<tspan x="10.415" y="-5.761" style="font-size: 7.7px; font-family: 'Liberation Sans'; fill: #1c1c1c">0</tspan>
</text>
</g>
</g>
</g>
<g id="ytick_88">
<g id="line2d_235">
<path d="M 375.242718 506.213592
L 468.932039 506.213592
" clip-path="url(#p8cb73d0ee8)" style="fill: none; stroke: #cccccc; stroke-width: 0.8; stroke-linecap: round"/>
</g>
<g id="line2d_236"/>
<g id="text_115">
<!-- $\mathdefault{10^{1}}$ -->
<g style="fill: #1c1c1c" transform="translate(356.342718 509.83703)">
<text>
<tspan x="0.000" y="1.649" style="font-size: 10px; font-family: 'Liberation Sans'; fill: #1c1c1c">1</tspan>
<tspan x="5.562" y="1.649" style="font-size: 10px; font-family: 'Liberation Sans'; fill: #1c1c1c">0</tspan>
<tspan x="10.415" y="-5.838" style="font-size: 7.7px; font-family: 'Liberation Sans'; fill: #1c1c1c">1</tspan>
</text>
</g>
</g>
</g>
<g id="ytick_89">
<g id="line2d_237"/>
</g>
<g id="ytick_90">
<g id="line2d_238"/>
</g>
<g id="ytick_91">
<g id="line2d_239"/>
</g>
<g id="ytick_92">
<g id="line2d_240"/>
</g>
<g id="ytick_93">
<g id="line2d_241"/>
</g>
<g id="ytick_94">
<g id="line2d_242"/>
</g>
<g id="ytick_95">
<g id="line2d_243"/>
</g>
<g id="ytick_96">
<g id="line2d_244"/>
</g>
<g id="ytick_97">
<g id="line2d_245"/>
</g>
<g id="ytick_98">
<g id="line2d_246"/>
</g>
<g id="ytick_99">
<g id="line2d_247"/>
</g>
</g>
<g id="line2d_248">
<path d="M 378.834951 500.38835
L 379.484634 521.303439
L 380.134316 533.673746
L 381.21712 547.989518
L 382.083364 556.44448
L 382.516485 559.653672
L 382.949607 560.814512
L 383.599289 561.768348
L 384.248972 562.345229
L 384.682094 562.509603
L 385.115215 562.485024
L 385.764898 562.157112
L 386.631141 561.690083
L 387.064263 561.66082
L 387.713945 561.864749
L 388.580188 562.42249
L 389.01331 562.79253
L 389.446432 563.426568
L 390.096114 564.824265
L 391.395479 568.332134
L 392.261722 571.10601
L 393.777648 576.933598
L 395.510135 584.356549
L 396.376378 588.076082
L 397.675743 592.175203
L 398.325425 593.666424
L 398.758547 594.145948
L 399.841351 594.37995
L 401.140716 594.455765
L 401.790398 594.25652
L 402.873202 593.599777
L 403.956007 592.978322
L 406.987858 591.745162
L 408.503784 591.416907
L 410.885953 591.09433
L 412.835 591.081233
L 418.898703 591.326772
L 430.809548 591.828852
L 446.618488 592.038962
L 465.242718 592.135922
L 465.242718 592.135922
" clip-path="url(#p8cb73d0ee8)" style="fill: none; stroke: #1f77b4; stroke-width: 1.5; stroke-linecap: round"/>
</g>
<g id="line2d_249">
<path d="M 375.242718 570.485437
L 468.932039 570.485437
" clip-path="url(#p8cb73d0ee8)" style="fill: none; stroke-dasharray: 5.55,2.4; stroke-dashoffset: 0; stroke: #ff7f0e; stroke-width: 1.5"/>
</g>
<g id="patch_68">
<path d="M 375.242718 599.61165
L 375.242718 496.116505
" style="fill: none; stroke: #cccccc; stroke-linejoin: miter; stroke-linecap: square"/>
</g>
<g id="patch_69">
<path d="M 468.932039 599.61165
L 468.932039 496.116505
" style="fill: none; stroke: #cccccc; stroke-linejoin: miter; stroke-linecap: square"/>
</g>
<g id="patch_70">
<path d="M 375.242718 599.61165
L 468.932039 599.61165
" style="fill: none; stroke: #cccccc; stroke-linejoin: miter; stroke-linecap: square"/>
</g>
<g id="patch_71">
<path d="M 375.242718 496.116505
L 468.932039 496.116505
" style="fill: none; stroke: #cccccc; stroke-linejoin: miter; stroke-linecap: square"/>
</g>
<g id="text_116">
<text style="font-size: 12px; font-family: 'Liberation Sans', 'DejaVu Sans', sans-serif; text-anchor: middle; fill: #1c1c1c" x="422.087379" y="490.116505" transform="rotate(-0 422.087379 490.116505)">True error</text>
</g>
</g>
<g id="axes_18">
<g id="patch_72">
<path d="M 506.796117 599.61165
L 601.165049 599.61165
L 601.165049 496.116505
L 506.796117 496.116505
z
" style="fill: #ffffff"/>
</g>
<g id="matplotlib.axis_29">
<g id="xtick_39">
<g id="line2d_250">
<path d="M 511.067961 599.61165
L 511.067961 496.116505
" clip-path="url(#p93b1c5ae05)" style="fill: none; stroke: #cccccc; stroke-width: 0.8; stroke-linecap: round"/>
</g>
<g id="line2d_251"/>
<g id="text_117">
<text style="font-size: 10px; font-family: 'Liberation Sans', 'DejaVu Sans', sans-serif; text-anchor: middle; fill: #1c1c1c" x="511.067961" y="611.158525" transform="rotate(-0 511.067961 611.158525)">0</text>
</g>
</g>
<g id="xtick_40">
<g id="line2d_252">
<path d="M 597.475728 599.61165
L 597.475728 496.116505
" clip-path="url(#p93b1c5ae05)" style="fill: none; stroke: #cccccc; stroke-width: 0.8; stroke-linecap: round"/>
</g>
<g id="line2d_253"/>
<g id="text_118">
<text style="font-size: 10px; font-family: 'Liberation Sans', 'DejaVu Sans', sans-serif; text-anchor: middle; fill: #1c1c1c" x="597.475728" y="611.158525" transform="rotate(-0 597.475728 611.158525)">2000</text>
</g>
</g>
</g>
<g id="matplotlib.axis_30">
<g id="ytick_100">
<g id="line2d_254">
<path d="M 506.796117 505.048544
L 601.165049 505.048544
" clip-path="url(#p93b1c5ae05)" style="fill: none; stroke: #cccccc; stroke-width: 0.8; stroke-linecap: round"/>
</g>
<g id="line2d_255"/>
<g id="text_119">
<!-- $\mathdefault{10^{-5}}$ -->
<g style="fill: #1c1c1c" transform="translate(483.796117 508.671981)">
<text>
<tspan x="0.000" y="1.649" style="font-size: 10px; font-family: 'Liberation Sans'; fill: #1c1c1c">1</tspan>
<tspan x="5.562" y="1.649" style="font-size: 10px; font-family: 'Liberation Sans'; fill: #1c1c1c">0</tspan>
<tspan x="10.415" y="-5.838" style="font-size: 7.7px; font-family: 'Liberation Sans'; fill: #1c1c1c">−</tspan>
<tspan x="14.503" y="-5.838" style="font-size: 7.7px; font-family: 'Liberation Sans'; fill: #1c1c1c">5</tspan>
</text>
</g>
</g>
</g>
<g id="ytick_101">
<g id="line2d_256">
<path d="M 506.796117 532.071197
L 601.165049 532.071197
" clip-path="url(#p93b1c5ae05)" style="fill: none; stroke: #cccccc; stroke-width: 0.8; stroke-linecap: round"/>
</g>
<g id="line2d_257"/>
<g id="text_120">
<!-- $\mathdefault{10^{-7}}$ -->
<g style="fill: #1c1c1c" transform="translate(483.796117 535.694635)">
<text>
<tspan x="0.000" y="1.649" style="font-size: 10px; font-family: 'Liberation Sans'; fill: #1c1c1c">1</tspan>
<tspan x="5.562" y="1.649" style="font-size: 10px; font-family: 'Liberation Sans'; fill: #1c1c1c">0</tspan>
<tspan x="10.415" y="-5.838" style="font-size: 7.7px; font-family: 'Liberation Sans'; fill: #1c1c1c">−</tspan>
<tspan x="14.503" y="-5.838" style="font-size: 7.7px; font-family: 'Liberation Sans'; fill: #1c1c1c">7</tspan>
</text>
</g>
</g>
</g>
<g id="ytick_102">
<g id="line2d_258">
<path d="M 506.796117 559.093851
L 601.165049 559.093851
" clip-path="url(#p93b1c5ae05)" style="fill: none; stroke: #cccccc; stroke-width: 0.8; stroke-linecap: round"/>
</g>
<g id="line2d_259"/>
<g id="text_121">
<!-- $\mathdefault{10^{-9}}$ -->
<g style="fill: #1c1c1c" transform="translate(483.796117 562.717289)">
<text>
<tspan x="0.000" y="1.726" style="font-size: 10px; font-family: 'Liberation Sans'; fill: #1c1c1c">1</tspan>
<tspan x="5.562" y="1.726" style="font-size: 10px; font-family: 'Liberation Sans'; fill: #1c1c1c">0</tspan>
<tspan x="10.415" y="-5.761" style="font-size: 7.7px; font-family: 'Liberation Sans'; fill: #1c1c1c">−</tspan>
<tspan x="14.503" y="-5.761" style="font-size: 7.7px; font-family: 'Liberation Sans'; fill: #1c1c1c">9</tspan>
</text>
</g>
</g>
</g>
<g id="ytick_103">
<g id="line2d_260">
<path d="M 506.796117 586.116505
L 601.165049 586.116505
" clip-path="url(#p93b1c5ae05)" style="fill: none; stroke: #cccccc; stroke-width: 0.8; stroke-linecap: round"/>
</g>
<g id="line2d_261"/>
<g id="text_122">
<!-- $\mathdefault{10^{-11}}$ -->
<g style="fill: #1c1c1c" transform="translate(479.896117 589.739942)">
<text>
<tspan x="0.000" y="1.649" style="font-size: 10px; font-family: 'Liberation Sans'; fill: #1c1c1c">1</tspan>
<tspan x="5.562" y="1.649" style="font-size: 10px; font-family: 'Liberation Sans'; fill: #1c1c1c">0</tspan>
<tspan x="10.415" y="-5.838" style="font-size: 7.7px; font-family: 'Liberation Sans'; fill: #1c1c1c">−</tspan>
<tspan x="14.503" y="-5.838" style="font-size: 7.7px; font-family: 'Liberation Sans'; fill: #1c1c1c">1</tspan>
<tspan x="18.396" y="-5.838" style="font-size: 7.7px; font-family: 'Liberation Sans'; fill: #1c1c1c">1</tspan>
</text>
</g>
</g>
</g>
</g>
<g id="line2d_262">
<path d="M 511.067961 500.38835
L 511.717644 518.122376
L 512.150765 525.213212
L 512.800448 530.778611
L 513.45013 534.11334
L 514.099813 536.367597
L 514.749495 537.78085
L 515.615738 539.141857
L 516.698542 540.408649
L 519.080711 542.701985
L 520.163516 544.446706
L 522.112563 548.202605
L 524.927854 553.410742
L 530.125313 562.862885
L 533.157165 567.93241
L 535.539334 571.377708
L 537.921503 574.43807
L 540.736793 577.668436
L 542.685841 579.582829
L 545.06801 581.532014
L 547.66674 583.358265
L 551.131713 585.48273
L 553.513882 586.719194
L 555.67949 587.581601
L 558.927902 588.602488
L 568.456578 591.219461
L 573.654038 592.353389
L 577.985254 593.113702
L 582.316471 593.623156
L 593.794194 594.65359
L 597.475728 594.951456
L 597.475728 594.951456
" clip-path="url(#p93b1c5ae05)" style="fill: none; stroke: #d62728; stroke-width: 1.5; stroke-linecap: round"/>
</g>
<g id="patch_73">
<path d="M 506.796117 599.61165
L 506.796117 496.116505
" style="fill: none; stroke: #cccccc; stroke-linejoin: miter; stroke-linecap: square"/>
</g>
<g id="patch_74">
<path d="M 601.165049 599.61165
L 601.165049 496.116505
" style="fill: none; stroke: #cccccc; stroke-linejoin: miter; stroke-linecap: square"/>
</g>
<g id="patch_75">
<path d="M 506.796117 599.61165
L 601.165049 599.61165
" style="fill: none; stroke: #cccccc; stroke-linejoin: miter; stroke-linecap: square"/>
</g>
<g id="patch_76">
<path d="M 506.796117 496.116505
L 601.165049 496.116505
" style="fill: none; stroke: #cccccc; stroke-linejoin: miter; stroke-linecap: square"/>
</g>
<g id="text_123">
<!-- $\|B_k - B_{k-1}\|_F^2$ -->
<g style="fill: #1c1c1c" transform="translate(516.420583 490.116505)">
<text>
<tspan x="0" y="-0.171875" style="font-size: 12px; font-family: 'DejaVu Sans'; fill: #1c1c1c">‖</tspan>
<tspan x="21.762891" y="-0.171875" style="font-size: 12px; font-family: 'DejaVu Sans'; fill: #1c1c1c">−</tspan>
<tspan x="63.236133" y="-0.171875" style="font-size: 12px; font-family: 'DejaVu Sans'; fill: #1c1c1c">‖</tspan>
<tspan x="6" y="-0.171875" style="font-style: oblique; font-size: 12px; font-family: 'DejaVu Sans'; fill: #1c1c1c">B</tspan>
<tspan x="34.155469" y="-0.171875" style="font-style: oblique; font-size: 12px; font-family: 'DejaVu Sans'; fill: #1c1c1c">B</tspan>
<tspan x="14.232422" y="1.796875" style="font-style: oblique; font-size: 8.4px; font-family: 'DejaVu Sans'; fill: #1c1c1c">k</tspan>
<tspan x="42.387891" y="1.796875" style="font-style: oblique; font-size: 8.4px; font-family: 'DejaVu Sans'; fill: #1c1c1c">k</tspan>
<tspan x="69.350977" y="3.109375" style="font-style: oblique; font-size: 8.4px; font-family: 'DejaVu Sans'; fill: #1c1c1c">F</tspan>
<tspan x="48.888867" y="1.796875" style="font-size: 8.4px; font-family: 'DejaVu Sans'; fill: #1c1c1c">−</tspan>
<tspan x="57.563672" y="1.796875" style="font-size: 8.4px; font-family: 'DejaVu Sans'; fill: #1c1c1c">1</tspan>
<tspan x="69.350977" y="-4.765625" style="font-size: 8.4px; font-family: 'DejaVu Sans'; fill: #1c1c1c">2</tspan>
</text>
</g>
</g>
</g>
<g id="axes_19">
<g id="IMG3"><g clip-path="url(#i3lo)"><rect x="608.74" y="492.82" width="107.86" height="107.38" fill="#f23000"/><ellipse cx="653.9" cy="566.7" rx="11.4" ry="8.9" fill="url(#i3ld)"/><ellipse cx="671.0" cy="583.1" rx="11.4" ry="8.9" fill="url(#i3ld)"/><ellipse cx="639.1" cy="583.1" rx="11.4" ry="8.9" fill="url(#i3ld)"/><ellipse cx="636.2" cy="544.4" rx="11.4" ry="7.6" fill="url(#i3ld)"/><ellipse cx="690.1" cy="594.4" rx="10.1" ry="7.6" fill="url(#i3ld)"/><ellipse cx="640.9" cy="565.8" rx="10.1" ry="7.6" fill="url(#i3ll)"/><ellipse cx="671.0" cy="565.8" rx="10.1" ry="7.6" fill="url(#i3ll)"/><ellipse cx="690.1" cy="582.3" rx="10.1" ry="7.6" fill="url(#i3ll)"/><ellipse cx="653.9" cy="582.3" rx="10.1" ry="7.6" fill="url(#i3ll)"/><ellipse cx="655.1" cy="544.4" rx="8.9" ry="6.3" fill="url(#i3ll)"/><ellipse cx="620.4" cy="551.3" rx="8.9" ry="6.3" fill="url(#i3ld)"/><ellipse cx="618.5" cy="590.3" rx="10.1" ry="6.3" fill="url(#i3ld)"/><ellipse cx="671.0" cy="594.2" rx="7.6" ry="5.1" fill="url(#i3ll)"/></g><g clip-path="url(#i3up)"><rect x="608.74" y="492.82" width="107.86" height="107.38" fill="#0018f0"/><ellipse cx="671.0" cy="517.0" rx="8.9" ry="6.3" fill="url(#i3ul)"/><ellipse cx="707.4" cy="517.0" rx="8.9" ry="6.3" fill="url(#i3ul)"/><ellipse cx="671.0" cy="543.5" rx="8.9" ry="6.3" fill="url(#i3ul)"/><ellipse cx="690.1" cy="564.9" rx="8.9" ry="6.3" fill="url(#i3ul)"/><ellipse cx="709.2" cy="580.5" rx="8.9" ry="6.3" fill="url(#i3ul)"/><ellipse cx="691.0" cy="528.7" rx="7.6" ry="6.3" fill="url(#i3ul)"/><ellipse cx="691.0" cy="517.0" rx="10.1" ry="6.3" fill="url(#i3ud)"/><ellipse cx="671.0" cy="529.8" rx="8.9" ry="6.3" fill="url(#i3ud)"/><ellipse cx="691.0" cy="543.5" rx="10.1" ry="6.3" fill="url(#i3ud)"/><ellipse cx="709.2" cy="564.9" rx="10.1" ry="7.6" fill="url(#i3ud)"/><ellipse cx="709.2" cy="528.7" rx="8.9" ry="6.3" fill="url(#i3ud)"/><ellipse cx="671.0" cy="506.9" rx="7.6" ry="5.1" fill="url(#i3ud)"/><ellipse cx="654.5" cy="517.8" rx="8.9" ry="6.3" fill="url(#i3ud)"/></g><line x1="609.57" y1="492.82" x2="716.60" y2="599.37" stroke="#88d078" stroke-width="1.0"/></g>
<g id="text_124">
<!-- $B_{opt}$ -->
<g style="fill: #1c1c1c" transform="translate(651.449903 486.815534)">
<text>
<tspan x="0" y="-0.25" style="font-style: oblique; font-size: 12px; font-family: 'DejaVu Sans'; fill: #1c1c1c">B</tspan>
<tspan x="8.232422" y="1.71875" style="font-style: oblique; font-size: 8.4px; font-family: 'DejaVu Sans'; fill: #1c1c1c">o</tspan>
<tspan x="13.37168" y="1.71875" style="font-style: oblique; font-size: 8.4px; font-family: 'DejaVu Sans'; fill: #1c1c1c">p</tspan>
<tspan x="18.703711" y="1.71875" style="font-style: oblique; font-size: 8.4px; font-family: 'DejaVu Sans'; fill: #1c1c1c">t</tspan>
</text>
</g>
</g>
</g>
<g id="axes_20">
<g id="patch_77">
<path d="M 729.029126 599.902913
L 734.466019 599.902913
L 734.466019 493.106796
L 729.029126 493.106796
z
" style="fill: #ffffff"/>
</g>
<g id="matplotlib.axis_31"/>
<g id="matplotlib.axis_32">
<g id="ytick_104">
<g id="line2d_263"/>
<g id="text_125">
<text style="font-size: 10px; font-family: 'Liberation Sans', 'DejaVu Sans', sans-serif; text-anchor: start; fill: #1c1c1c" x="737.966019" y="591.487515" transform="rotate(-0 737.966019 591.487515)">0.000</text>
</g>
</g>
<g id="ytick_105">
<g id="line2d_264"/>
<g id="text_126">
<text style="font-size: 10px; font-family: 'Liberation Sans', 'DejaVu Sans', sans-serif; text-anchor: start; fill: #1c1c1c" x="737.966019" y="558.380719" transform="rotate(-0 737.966019 558.380719)">0.002</text>
</g>
</g>
<g id="ytick_106">
<g id="line2d_265"/>
<g id="text_127">
<text style="font-size: 10px; font-family: 'Liberation Sans', 'DejaVu Sans', sans-serif; text-anchor: start; fill: #1c1c1c" x="737.966019" y="525.273923" transform="rotate(-0 737.966019 525.273923)">0.004</text>
</g>
</g>
</g>
<g id="CB3"><rect x="729.03" y="493.11" width="5.44" height="106.80" fill="url(#cbg3)"/><rect x="729.43" y="491.66" width="5.44" height="0.9" fill="#b02020" fill-opacity="0.55"/></g>
<g id="patch_78">
<path d="M 729.029126 599.902913
L 729.029126 493.106796
" style="fill: none; stroke: #cccccc; stroke-linejoin: miter; stroke-linecap: square"/>
</g>
<g id="patch_79">
<path d="M 734.466019 599.902913
L 734.466019 493.106796
" style="fill: none; stroke: #cccccc; stroke-linejoin: miter; stroke-linecap: square"/>
</g>
<g id="patch_80">
<path d="M 729.029126 599.902913
L 734.466019 599.902913
" style="fill: none; stroke: #cccccc; stroke-linejoin: miter; stroke-linecap: square"/>
</g>
<g id="patch_81">
<path d="M 729.029126 493.106796
L 734.466019 493.106796
" style="fill: none; stroke: #cccccc; stroke-linejoin: miter; stroke-linecap: square"/>
</g>
</g>
</g>
<defs>
<clipPath id="p39f3e81963">
<rect x="28.15534" y="16.504854" width="238.252427" height="105.339806"/>
</clipPath>
<clipPath id="pe85f98b9b8">
<rect x="378.252427" y="17.815534" width="92.135922" height="103.834951"/>
</clipPath>
<clipPath id="peed45ceb7d">
<rect x="509.126214" y="17.815534" width="92.330097" height="103.834951"/>
</clipPath>
<clipPath id="pd4c6c85401">
<rect x="608.737864" y="14.320388" width="107.864078" height="107.669903"/>
</clipPath>
<clipPath id="p6532907e41">
<rect x="729.029126" y="15.048544" width="5.436893" height="106.504854"/>
</clipPath>
<clipPath id="pe00ec48257">
<rect x="28.15534" y="175.92233" width="238.252427" height="104.660194"/>
</clipPath>
<clipPath id="p3d0742f87b">
<rect x="378.252427" y="177.087379" width="92.135922" height="103.980583"/>
</clipPath>
<clipPath id="p8fdc609755">
<rect x="509.223301" y="177.087379" width="92.427184" height="103.980583"/>
</clipPath>
<clipPath id="p2c6d3aa8c4">
<rect x="608.737864" y="173.786408" width="107.864078" height="107.669903"/>
</clipPath>
<clipPath id="p9b733e47af">
<rect x="729.029126" y="174.174757" width="5.533981" height="107.087379"/>
</clipPath>
<clipPath id="p53a2cfff29">
<rect x="22.912621" y="335.436893" width="243.398058" height="104.951456"/>
</clipPath>
<clipPath id="p7b41f3cb1e">
<rect x="389.708738" y="336.407767" width="87.864078" height="104.07767"/>
</clipPath>
<clipPath id="pd91341c588">
<rect x="512.912621" y="336.407767" width="88.737864" height="103.883495"/>
</clipPath>
<clipPath id="pafdaa58a18">
<rect x="608.737864" y="333.398058" width="107.864078" height="107.378641"/>
</clipPath>
<clipPath id="p914511313b">
<rect x="729.029126" y="333.398058" width="5.533981" height="106.601942"/>
</clipPath>
<clipPath id="peaad9796a7">
<rect x="22.912621" y="494.854369" width="243.398058" height="104.660194"/>
</clipPath>
<clipPath id="p8cb73d0ee8">
<rect x="375.242718" y="496.116505" width="93.68932" height="103.495146"/>
</clipPath>
<clipPath id="p93b1c5ae05">
<rect x="506.796117" y="496.116505" width="94.368932" height="103.495146"/>
</clipPath>
<clipPath id="p887beb37ac">
<rect x="608.737864" y="492.815534" width="107.864078" height="107.378641"/>
</clipPath>
<clipPath id="pb84e6c0321">
<rect x="729.029126" y="493.106796" width="5.436893" height="106.796117"/>
</clipPath>
</defs>
</svg>

</body></html>
